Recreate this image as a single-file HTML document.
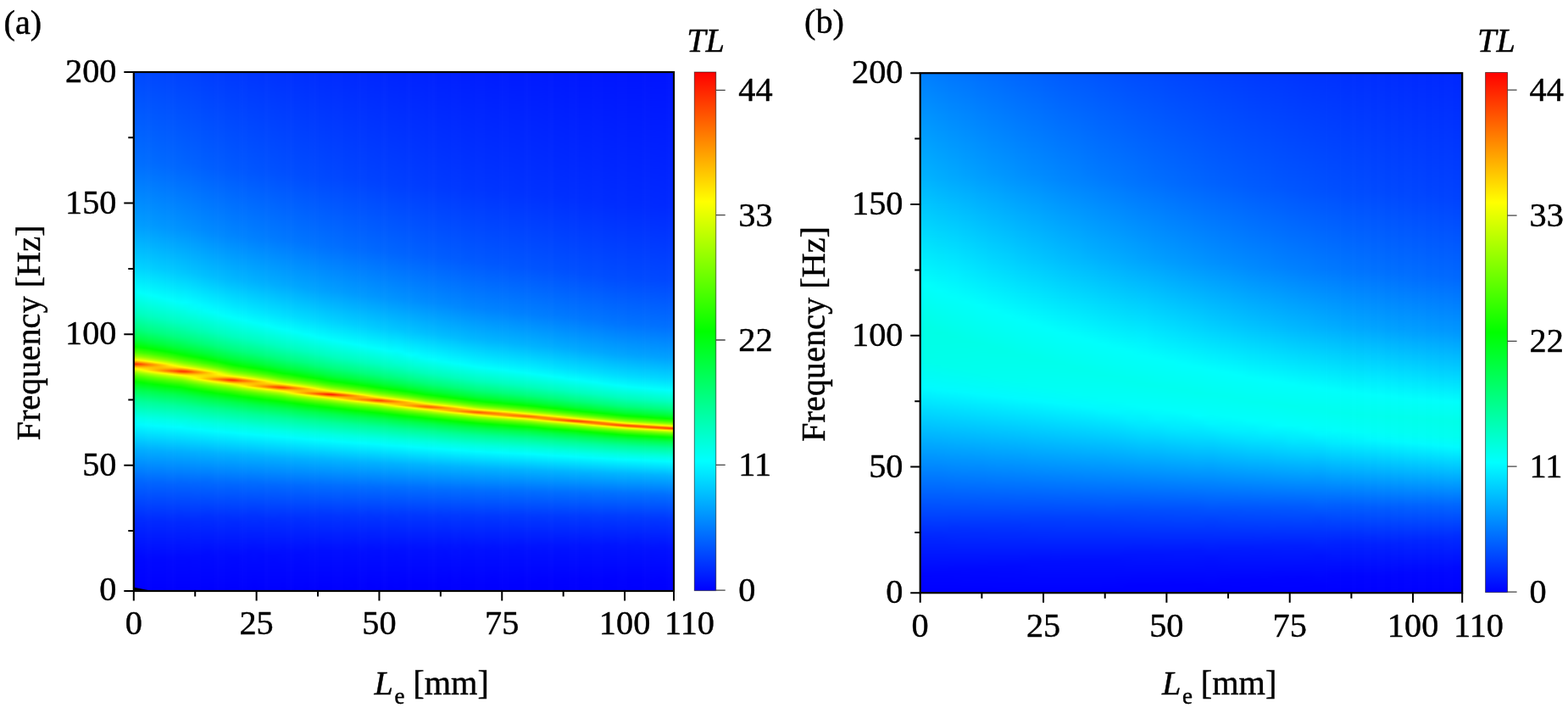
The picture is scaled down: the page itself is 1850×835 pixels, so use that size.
<!DOCTYPE html>
<html lang="en"><head><meta charset="utf-8"><title>TL contour maps</title>
<style>
html,body{margin:0;padding:0;background:#fff}
body{width:1850px;height:835px;overflow:hidden}
svg{display:block}
text{font-family:"Liberation Serif",serif;font-size:40.3px;fill:#000;stroke:#000;stroke-width:.45px;stroke-linejoin:round}
</style></head><body>
<svg width="1850" height="835" viewBox="0 0 1850 835">
<rect width="1850" height="835" fill="#fff"/>
<defs>
<linearGradient id="a0" x1="0" y1="0" x2="0" y2="1"><stop offset="0" stop-color="#0049ff"/><stop offset=".1757" stop-color="#006fff"/><stop offset=".2966" stop-color="#009fff"/><stop offset=".3758" stop-color="#00d3ff"/><stop offset=".4232" stop-color="#00fffc"/><stop offset=".4641" stop-color="#00ffc2"/><stop offset=".4951" stop-color="#00ff7f"/><stop offset=".5155" stop-color="#00ff3e"/><stop offset=".5294" stop-color="#02ff00"/><stop offset=".54" stop-color="#49ff00"/><stop offset=".5474" stop-color="#91ff00"/><stop offset=".5523" stop-color="#d5ff00"/><stop offset=".5547" stop-color="#fffb00"/><stop offset=".558" stop-color="#ffad00"/><stop offset=".5613" stop-color="#ff5100"/><stop offset=".5629" stop-color="#ff3800"/><stop offset=".5637" stop-color="#ff4200"/><stop offset=".5662" stop-color="#ff8200"/><stop offset=".5694" stop-color="#ffd300"/><stop offset=".5719" stop-color="#fdff00"/><stop offset=".5792" stop-color="#93ff00"/><stop offset=".5858" stop-color="#4fff00"/><stop offset=".5964" stop-color="#02ff00"/><stop offset=".6144" stop-color="#00ff56"/><stop offset=".6364" stop-color="#00ffa1"/><stop offset=".6691" stop-color="#00fff0"/><stop offset=".6789" stop-color="#00fbff"/><stop offset=".7271" stop-color="#00aeff"/><stop offset=".7884" stop-color="#06f"/><stop offset=".8619" stop-color="#002bff"/><stop offset=".9346" stop-color="#0009ff"/><stop offset="1" stop-color="#00f"/></linearGradient>
<linearGradient id="a1" x1="0" y1="0" x2="0" y2="1"><stop offset="0" stop-color="#0048ff"/><stop offset=".1797" stop-color="#006fff"/><stop offset=".2982" stop-color="#009eff"/><stop offset=".3783" stop-color="#00d3ff"/><stop offset=".4257" stop-color="#00fffc"/><stop offset=".4665" stop-color="#00ffc1"/><stop offset=".4959" stop-color="#00ff81"/><stop offset=".5163" stop-color="#00ff41"/><stop offset=".531" stop-color="#03ff00"/><stop offset=".5417" stop-color="#4bff00"/><stop offset=".549" stop-color="#95ff00"/><stop offset=".5539" stop-color="#df0"/><stop offset=".5556" stop-color="#fcff00"/><stop offset=".5572" stop-color="#ffde00"/><stop offset=".5613" stop-color="#ff7200"/><stop offset=".5629" stop-color="#ff5300"/><stop offset=".5637" stop-color="#ff5700"/><stop offset=".5654" stop-color="#ff7500"/><stop offset=".5686" stop-color="#fb0"/><stop offset=".5719" stop-color="#ffeb00"/><stop offset=".5735" stop-color="#ff0"/><stop offset=".5817" stop-color="#8aff00"/><stop offset=".5891" stop-color="#41ff00"/><stop offset=".598" stop-color="#01ff00"/><stop offset=".6136" stop-color="#00ff4d"/><stop offset=".6348" stop-color="#0f9"/><stop offset=".6667" stop-color="#00ffe9"/><stop offset=".6797" stop-color="#00fbff"/><stop offset=".7263" stop-color="#00b0ff"/><stop offset=".7868" stop-color="#0068ff"/><stop offset=".8603" stop-color="#002cff"/><stop offset=".9346" stop-color="#0009ff"/><stop offset="1" stop-color="#00f"/></linearGradient>
<linearGradient id="a2" x1="0" y1="0" x2="0" y2="1"><stop offset="0" stop-color="#0047ff"/><stop offset=".1765" stop-color="#006dff"/><stop offset=".2958" stop-color="#009bff"/><stop offset=".3775" stop-color="#00d0ff"/><stop offset=".4281" stop-color="#00fffc"/><stop offset=".4698" stop-color="#00ffbf"/><stop offset=".4984" stop-color="#00ff80"/><stop offset=".5188" stop-color="#00ff3d"/><stop offset=".5319" stop-color="#00ff01"/><stop offset=".5417" stop-color="#40ff00"/><stop offset=".5498" stop-color="#8fff00"/><stop offset=".5547" stop-color="#d6ff00"/><stop offset=".5564" stop-color="#f5ff00"/><stop offset=".5572" stop-color="#fff800"/><stop offset=".5621" stop-color="#ff8300"/><stop offset=".5637" stop-color="#ff6e00"/><stop offset=".5654" stop-color="#ff8100"/><stop offset=".5686" stop-color="#ffb800"/><stop offset=".5719" stop-color="#ffd900"/><stop offset=".5752" stop-color="#fff500"/><stop offset=".576" stop-color="#fcff00"/><stop offset=".5809" stop-color="#a9ff00"/><stop offset=".5866" stop-color="#65ff00"/><stop offset=".594" stop-color="#25ff00"/><stop offset=".5997" stop-color="#00ff01"/><stop offset=".6144" stop-color="#00ff4c"/><stop offset=".6356" stop-color="#00ff98"/><stop offset=".6667" stop-color="#00ffe7"/><stop offset=".6797" stop-color="#00fdff"/><stop offset=".7279" stop-color="#00aeff"/><stop offset=".7941" stop-color="#0061ff"/><stop offset=".8685" stop-color="#0027ff"/><stop offset=".9428" stop-color="#0007ff"/><stop offset="1" stop-color="#00f"/></linearGradient>
<linearGradient id="a3" x1="0" y1="0" x2="0" y2="1"><stop offset="0" stop-color="#0046ff"/><stop offset=".1806" stop-color="#006dff"/><stop offset=".3007" stop-color="#009cff"/><stop offset=".3799" stop-color="#00d0ff"/><stop offset=".4306" stop-color="#00fffc"/><stop offset=".4722" stop-color="#00ffbe"/><stop offset=".5016" stop-color="#00ff7c"/><stop offset=".5221" stop-color="#00ff37"/><stop offset=".5335" stop-color="#0f0"/><stop offset=".5433" stop-color="#42ff00"/><stop offset=".5507" stop-color="#89ff00"/><stop offset=".5556" stop-color="#cfff00"/><stop offset=".558" stop-color="#fdff00"/><stop offset=".5621" stop-color="#ffa300"/><stop offset=".5637" stop-color="#f80"/><stop offset=".5654" stop-color="#ff9100"/><stop offset=".5694" stop-color="#ffbe00"/><stop offset=".5752" stop-color="#ffd600"/><stop offset=".5776" stop-color="#fbff00"/><stop offset=".5817" stop-color="#b2ff00"/><stop offset=".5874" stop-color="#6aff00"/><stop offset=".5964" stop-color="#1dff00"/><stop offset=".6013" stop-color="#00ff03"/><stop offset=".616" stop-color="#00ff4e"/><stop offset=".6373" stop-color="#00ff9a"/><stop offset=".6708" stop-color="#0fe"/><stop offset=".6814" stop-color="#00fbff"/><stop offset=".7288" stop-color="#00aeff"/><stop offset=".7884" stop-color="#0067ff"/><stop offset=".8619" stop-color="#002bff"/><stop offset=".9355" stop-color="#0009ff"/><stop offset="1" stop-color="#00f"/></linearGradient>
<linearGradient id="a4" x1="0" y1="0" x2="0" y2="1"><stop offset="0" stop-color="#0046ff"/><stop offset=".1748" stop-color="#006aff"/><stop offset=".2958" stop-color="#0098ff"/><stop offset=".3791" stop-color="#00cdff"/><stop offset=".4322" stop-color="#00fffc"/><stop offset=".4714" stop-color="#00ffc3"/><stop offset=".5008" stop-color="#00ff83"/><stop offset=".5221" stop-color="#00ff3e"/><stop offset=".5351" stop-color="#0f0"/><stop offset=".5449" stop-color="#43ff00"/><stop offset=".5515" stop-color="#82ff00"/><stop offset=".5564" stop-color="#c6ff00"/><stop offset=".5588" stop-color="#f3ff00"/><stop offset=".5596" stop-color="#fffa00"/><stop offset=".5629" stop-color="#ffb500"/><stop offset=".5645" stop-color="#ffa200"/><stop offset=".5694" stop-color="#ffbc00"/><stop offset=".5752" stop-color="#ffb800"/><stop offset=".5776" stop-color="#ffe600"/><stop offset=".5784" stop-color="#fff800"/><stop offset=".5801" stop-color="#e5ff00"/><stop offset=".5842" stop-color="#a2ff00"/><stop offset=".5899" stop-color="#5fff00"/><stop offset=".598" stop-color="#1bff00"/><stop offset=".6021" stop-color="#0f0"/><stop offset=".616" stop-color="#00ff49"/><stop offset=".6364" stop-color="#00ff94"/><stop offset=".665" stop-color="#00ffdf"/><stop offset=".6814" stop-color="#00fdff"/><stop offset=".7263" stop-color="#00b2ff"/><stop offset=".7917" stop-color="#0064ff"/><stop offset=".8652" stop-color="#0029ff"/><stop offset=".9363" stop-color="#0009ff"/><stop offset="1" stop-color="#00f"/></linearGradient>
<linearGradient id="a5" x1="0" y1="0" x2="0" y2="1"><stop offset="0" stop-color="#0045ff"/><stop offset=".1757" stop-color="#0069ff"/><stop offset=".2974" stop-color="#0097ff"/><stop offset=".3791" stop-color="#00cbff"/><stop offset=".4346" stop-color="#00fffc"/><stop offset=".4747" stop-color="#00ffc1"/><stop offset=".5049" stop-color="#00ff7d"/><stop offset=".5253" stop-color="#00ff37"/><stop offset=".5368" stop-color="#01ff00"/><stop offset=".5466" stop-color="#4f0"/><stop offset=".5531" stop-color="#85ff00"/><stop offset=".558" stop-color="#caff00"/><stop offset=".5605" stop-color="#f8ff00"/><stop offset=".5621" stop-color="#ffe400"/><stop offset=".5645" stop-color="#ffbc00"/><stop offset=".5703" stop-color="#fb0"/><stop offset=".5743" stop-color="#ffa000"/><stop offset=".576" stop-color="#ffa500"/><stop offset=".5801" stop-color="#feff00"/><stop offset=".5842" stop-color="#b4ff00"/><stop offset=".5891" stop-color="#74ff00"/><stop offset=".5964" stop-color="#30ff00"/><stop offset=".6029" stop-color="#02ff00"/><stop offset=".6193" stop-color="#00ff52"/><stop offset=".6397" stop-color="#00ff9b"/><stop offset=".6683" stop-color="#00ffe5"/><stop offset=".6822" stop-color="#00fcff"/><stop offset=".7304" stop-color="#00adff"/><stop offset=".79" stop-color="#06f"/><stop offset=".8636" stop-color="#002aff"/><stop offset=".9363" stop-color="#0009ff"/><stop offset="1" stop-color="#00f"/></linearGradient>
<linearGradient id="a6" x1="0" y1="0" x2="0" y2="1"><stop offset="0" stop-color="#04f"/><stop offset=".1797" stop-color="#0069ff"/><stop offset=".3007" stop-color="#0097ff"/><stop offset=".3832" stop-color="#0cf"/><stop offset=".4371" stop-color="#00fffc"/><stop offset=".4771" stop-color="#00ffc0"/><stop offset=".5049" stop-color="#00ff82"/><stop offset=".5245" stop-color="#00ff41"/><stop offset=".5384" stop-color="#01ff00"/><stop offset=".5482" stop-color="#4f0"/><stop offset=".5547" stop-color="#86ff00"/><stop offset=".5596" stop-color="#cdff00"/><stop offset=".5621" stop-color="#faff00"/><stop offset=".5645" stop-color="#ffd900"/><stop offset=".5703" stop-color="#ffbc00"/><stop offset=".5743" stop-color="#ff8b00"/><stop offset=".576" stop-color="#ff8600"/><stop offset=".5776" stop-color="#ffa700"/><stop offset=".5809" stop-color="#fff900"/><stop offset=".5825" stop-color="#e4ff00"/><stop offset=".5866" stop-color="#a1ff00"/><stop offset=".5931" stop-color="#56ff00"/><stop offset=".6029" stop-color="#09ff00"/><stop offset=".6054" stop-color="#00ff06"/><stop offset=".6193" stop-color="#00ff4d"/><stop offset=".6397" stop-color="#00ff98"/><stop offset=".6691" stop-color="#00ffe5"/><stop offset=".683" stop-color="#00fcff"/><stop offset=".7312" stop-color="#00adff"/><stop offset=".7933" stop-color="#0063ff"/><stop offset=".8668" stop-color="#0028ff"/><stop offset=".9395" stop-color="#0008ff"/><stop offset="1" stop-color="#00f"/></linearGradient>
<linearGradient id="a7" x1="0" y1="0" x2="0" y2="1"><stop offset="0" stop-color="#0043ff"/><stop offset=".1806" stop-color="#0068ff"/><stop offset=".3039" stop-color="#0097ff"/><stop offset=".3848" stop-color="#00cbff"/><stop offset=".4395" stop-color="#00fffc"/><stop offset=".4788" stop-color="#00ffc1"/><stop offset=".5074" stop-color="#00ff80"/><stop offset=".527" stop-color="#00ff3f"/><stop offset=".54" stop-color="#0f0"/><stop offset=".5498" stop-color="#4f0"/><stop offset=".5564" stop-color="#86ff00"/><stop offset=".5613" stop-color="#cdff00"/><stop offset=".5637" stop-color="#f7ff00"/><stop offset=".5645" stop-color="#fffb00"/><stop offset=".567" stop-color="#ffe100"/><stop offset=".5703" stop-color="#ffc000"/><stop offset=".5743" stop-color="#ff7a00"/><stop offset=".576" stop-color="#ff6900"/><stop offset=".5768" stop-color="#ff7400"/><stop offset=".5817" stop-color="#fff200"/><stop offset=".5825" stop-color="#faff00"/><stop offset=".5866" stop-color="#b2ff00"/><stop offset=".5923" stop-color="#6aff00"/><stop offset=".6005" stop-color="#2f0"/><stop offset=".6054" stop-color="#01ff00"/><stop offset=".6209" stop-color="#00ff50"/><stop offset=".6413" stop-color="#00ff9a"/><stop offset=".6699" stop-color="#00ffe5"/><stop offset=".6838" stop-color="#00fcff"/><stop offset=".7328" stop-color="#00abff"/><stop offset=".7966" stop-color="#0060ff"/><stop offset=".8676" stop-color="#0028ff"/><stop offset=".9387" stop-color="#0008ff"/><stop offset="1" stop-color="#00f"/></linearGradient>
<linearGradient id="a8" x1="0" y1="0" x2="0" y2="1"><stop offset="0" stop-color="#0042ff"/><stop offset=".1846" stop-color="#0068ff"/><stop offset=".3056" stop-color="#0096ff"/><stop offset=".3873" stop-color="#00cbff"/><stop offset=".442" stop-color="#00fffc"/><stop offset=".482" stop-color="#00ffbf"/><stop offset=".5098" stop-color="#00ff7f"/><stop offset=".5302" stop-color="#00ff39"/><stop offset=".5417" stop-color="#00ff01"/><stop offset=".5515" stop-color="#43ff00"/><stop offset=".558" stop-color="#85ff00"/><stop offset=".5637" stop-color="#d7ff00"/><stop offset=".5662" stop-color="#fcff00"/><stop offset=".5694" stop-color="#ffd600"/><stop offset=".5719" stop-color="#ffa700"/><stop offset=".5752" stop-color="#ff5e00"/><stop offset=".5768" stop-color="#f50"/><stop offset=".5784" stop-color="#ff7c00"/><stop offset=".5817" stop-color="#ffd900"/><stop offset=".5833" stop-color="#fffe00"/><stop offset=".5874" stop-color="#b6ff00"/><stop offset=".5931" stop-color="#6dff00"/><stop offset=".6021" stop-color="#1eff00"/><stop offset=".607" stop-color="#00ff03"/><stop offset=".6217" stop-color="#00ff4f"/><stop offset=".6422" stop-color="#00ff9a"/><stop offset=".6716" stop-color="#00ffe7"/><stop offset=".6846" stop-color="#00fcff"/><stop offset=".7312" stop-color="#00aeff"/><stop offset=".7949" stop-color="#0062ff"/><stop offset=".866" stop-color="#0029ff"/><stop offset=".9363" stop-color="#0009ff"/><stop offset="1" stop-color="#00f"/></linearGradient>
<linearGradient id="a9" x1="0" y1="0" x2="0" y2="1"><stop offset="0" stop-color="#0041ff"/><stop offset=".1855" stop-color="#0067ff"/><stop offset=".3064" stop-color="#0095ff"/><stop offset=".3889" stop-color="#00caff"/><stop offset=".4444" stop-color="#00fffc"/><stop offset=".4845" stop-color="#00ffbe"/><stop offset=".5114" stop-color="#00ff80"/><stop offset=".5319" stop-color="#00ff3a"/><stop offset=".5441" stop-color="#03ff00"/><stop offset=".5539" stop-color="#48ff00"/><stop offset=".5605" stop-color="#8cff00"/><stop offset=".5662" stop-color="#deff00"/><stop offset=".5678" stop-color="#f9ff00"/><stop offset=".5694" stop-color="#ffe600"/><stop offset=".5727" stop-color="#ff9500"/><stop offset=".5752" stop-color="#ff4f00"/><stop offset=".5768" stop-color="#ff3800"/><stop offset=".5776" stop-color="#f40"/><stop offset=".5825" stop-color="#ffd300"/><stop offset=".5842" stop-color="#fffa00"/><stop offset=".5866" stop-color="#d5ff00"/><stop offset=".5915" stop-color="#8dff00"/><stop offset=".598" stop-color="#48ff00"/><stop offset=".607" stop-color="#04ff00"/><stop offset=".6144" stop-color="#00ff27"/><stop offset=".6307" stop-color="#00ff6f"/><stop offset=".6528" stop-color="#00ffb6"/><stop offset=".6838" stop-color="#0ff"/><stop offset=".7304" stop-color="#00b0ff"/><stop offset=".7892" stop-color="#0068ff"/><stop offset=".8611" stop-color="#002cff"/><stop offset=".933" stop-color="#000aff"/><stop offset="1" stop-color="#00f"/></linearGradient>
<linearGradient id="a10" x1="0" y1="0" x2="0" y2="1"><stop offset="0" stop-color="#0041ff"/><stop offset=".1757" stop-color="#0063ff"/><stop offset=".2998" stop-color="#0090ff"/><stop offset=".3856" stop-color="#00c5ff"/><stop offset=".4436" stop-color="#00feff"/><stop offset=".482" stop-color="#00ffc7"/><stop offset=".5106" stop-color="#00ff87"/><stop offset=".5302" stop-color="#00ff48"/><stop offset=".5441" stop-color="#00ff07"/><stop offset=".5466" stop-color="#07ff00"/><stop offset=".5556" stop-color="#47ff00"/><stop offset=".5621" stop-color="#8aff00"/><stop offset=".567" stop-color="#d1ff00"/><stop offset=".5694" stop-color="#fffd00"/><stop offset=".5719" stop-color="#ffc100"/><stop offset=".5752" stop-color="#ff5e00"/><stop offset=".576" stop-color="#ff4c00"/><stop offset=".5776" stop-color="#ff3f00"/><stop offset=".5792" stop-color="#f60"/><stop offset=".5825" stop-color="#ffc300"/><stop offset=".585" stop-color="#fff900"/><stop offset=".5866" stop-color="#e9ff00"/><stop offset=".5948" stop-color="#7aff00"/><stop offset=".6021" stop-color="#3f0"/><stop offset=".6095" stop-color="#00ff02"/><stop offset=".6234" stop-color="#00ff4c"/><stop offset=".6438" stop-color="#00ff98"/><stop offset=".6716" stop-color="#00ffe3"/><stop offset=".6863" stop-color="#00fcff"/><stop offset=".7304" stop-color="#00b1ff"/><stop offset=".7925" stop-color="#0065ff"/><stop offset=".866" stop-color="#0029ff"/><stop offset=".9363" stop-color="#0009ff"/><stop offset="1" stop-color="#00f"/></linearGradient>
<linearGradient id="a11" x1="0" y1="0" x2="0" y2="1"><stop offset="0" stop-color="#0040ff"/><stop offset=".1765" stop-color="#0062ff"/><stop offset=".3015" stop-color="#008fff"/><stop offset=".3864" stop-color="#00c3ff"/><stop offset=".4436" stop-color="#00fbff"/><stop offset=".4608" stop-color="#00ffed"/><stop offset=".4967" stop-color="#00ffae"/><stop offset=".5221" stop-color="#00ff6c"/><stop offset=".54" stop-color="#00ff26"/><stop offset=".5474" stop-color="#02ff00"/><stop offset=".5564" stop-color="#41ff00"/><stop offset=".5629" stop-color="#82ff00"/><stop offset=".5678" stop-color="#c7ff00"/><stop offset=".5703" stop-color="#f6ff00"/><stop offset=".5711" stop-color="#fff600"/><stop offset=".576" stop-color="#ff7200"/><stop offset=".5776" stop-color="#ff5800"/><stop offset=".5784" stop-color="#ff6100"/><stop offset=".5833" stop-color="#ffd000"/><stop offset=".5866" stop-color="#feff00"/><stop offset=".5915" stop-color="#c7ff00"/><stop offset=".5964" stop-color="#80ff00"/><stop offset=".6029" stop-color="#3cff00"/><stop offset=".6111" stop-color="#00ff01"/><stop offset=".6242" stop-color="#00ff48"/><stop offset=".6422" stop-color="#00ff8e"/><stop offset=".6675" stop-color="#00ffd6"/><stop offset=".6871" stop-color="#00fcff"/><stop offset=".7337" stop-color="#00adff"/><stop offset=".7949" stop-color="#0063ff"/><stop offset=".866" stop-color="#0029ff"/><stop offset=".9387" stop-color="#0008ff"/><stop offset="1" stop-color="#00f"/></linearGradient>
<linearGradient id="a12" x1="0" y1="0" x2="0" y2="1"><stop offset="0" stop-color="#003fff"/><stop offset=".1822" stop-color="#0062ff"/><stop offset=".3056" stop-color="#008fff"/><stop offset=".3881" stop-color="#00c2ff"/><stop offset=".4436" stop-color="#00f8ff"/><stop offset=".4551" stop-color="#00fff8"/><stop offset=".4926" stop-color="#0fb"/><stop offset=".5188" stop-color="#00ff7c"/><stop offset=".5384" stop-color="#00ff36"/><stop offset=".549" stop-color="#01ff00"/><stop offset=".5588" stop-color="#48ff00"/><stop offset=".5645" stop-color="#83ff00"/><stop offset=".5694" stop-color="#cbff00"/><stop offset=".5719" stop-color="#fcff00"/><stop offset=".5735" stop-color="#ffdb00"/><stop offset=".5768" stop-color="#ff8900"/><stop offset=".5784" stop-color="#ff7800"/><stop offset=".5801" stop-color="#ff9100"/><stop offset=".5833" stop-color="#ffcd00"/><stop offset=".5866" stop-color="#ffef00"/><stop offset=".5899" stop-color="#fcff00"/><stop offset=".5915" stop-color="#eaff00"/><stop offset=".5964" stop-color="#98ff00"/><stop offset=".6021" stop-color="#54ff00"/><stop offset=".6103" stop-color="#0fff00"/><stop offset=".6127" stop-color="#00ff01"/><stop offset=".6258" stop-color="#00ff49"/><stop offset=".6462" stop-color="#00ff98"/><stop offset=".6765" stop-color="#00ffe9"/><stop offset=".6887" stop-color="#00fbff"/><stop offset=".7337" stop-color="#00aeff"/><stop offset=".7933" stop-color="#0065ff"/><stop offset=".8636" stop-color="#002bff"/><stop offset=".933" stop-color="#000aff"/><stop offset="1" stop-color="#00f"/></linearGradient>
<linearGradient id="a13" x1="0" y1="0" x2="0" y2="1"><stop offset="0" stop-color="#003eff"/><stop offset=".183" stop-color="#0061ff"/><stop offset=".3056" stop-color="#008dff"/><stop offset=".3913" stop-color="#00c2ff"/><stop offset=".4493" stop-color="#00fbff"/><stop offset=".4657" stop-color="#00ffed"/><stop offset=".5008" stop-color="#00ffaf"/><stop offset=".5253" stop-color="#00ff6e"/><stop offset=".5417" stop-color="#00ff2f"/><stop offset=".5507" stop-color="#0f0"/><stop offset=".5605" stop-color="#48ff00"/><stop offset=".5662" stop-color="#84ff00"/><stop offset=".5703" stop-color="#bfff00"/><stop offset=".5735" stop-color="#fffe00"/><stop offset=".5768" stop-color="#ffaf00"/><stop offset=".5784" stop-color="#ff9400"/><stop offset=".5801" stop-color="#ffa100"/><stop offset=".5842" stop-color="#ffd500"/><stop offset=".5874" stop-color="#ffe300"/><stop offset=".5907" stop-color="#ffe900"/><stop offset=".5923" stop-color="#fffe00"/><stop offset=".5972" stop-color="#a5ff00"/><stop offset=".6021" stop-color="#65ff00"/><stop offset=".6095" stop-color="#21ff00"/><stop offset=".6144" stop-color="#00ff02"/><stop offset=".6275" stop-color="#00ff4a"/><stop offset=".6479" stop-color="#0f9"/><stop offset=".6765" stop-color="#00ffe6"/><stop offset=".6887" stop-color="#00fdff"/><stop offset=".7312" stop-color="#00b3ff"/><stop offset=".7917" stop-color="#0067ff"/><stop offset=".8619" stop-color="#002cff"/><stop offset=".933" stop-color="#000aff"/><stop offset="1" stop-color="#00f"/></linearGradient>
<linearGradient id="a14" x1="0" y1="0" x2="0" y2="1"><stop offset="0" stop-color="#003dff"/><stop offset=".1806" stop-color="#005fff"/><stop offset=".3072" stop-color="#008cff"/><stop offset=".3922" stop-color="#00c0ff"/><stop offset=".4493" stop-color="#00f8ff"/><stop offset=".46" stop-color="#00fff9"/><stop offset=".4967" stop-color="#00ffbc"/><stop offset=".5237" stop-color="#00ff7a"/><stop offset=".5417" stop-color="#00ff38"/><stop offset=".5523" stop-color="#00ff01"/><stop offset=".5613" stop-color="#40ff00"/><stop offset=".5678" stop-color="#84ff00"/><stop offset=".5719" stop-color="#c1ff00"/><stop offset=".5752" stop-color="#fffb00"/><stop offset=".5776" stop-color="#ffc600"/><stop offset=".5792" stop-color="#ffb200"/><stop offset=".5842" stop-color="#ffd500"/><stop offset=".5866" stop-color="#ffd800"/><stop offset=".5907" stop-color="#ffca00"/><stop offset=".5915" stop-color="#ffcd00"/><stop offset=".594" stop-color="#fffe00"/><stop offset=".598" stop-color="#b0ff00"/><stop offset=".6029" stop-color="#6dff00"/><stop offset=".6103" stop-color="#26ff00"/><stop offset=".616" stop-color="#00ff03"/><stop offset=".6291" stop-color="#00ff4b"/><stop offset=".6479" stop-color="#00ff95"/><stop offset=".6757" stop-color="#00ffe2"/><stop offset=".6904" stop-color="#00fcff"/><stop offset=".7312" stop-color="#00b4ff"/><stop offset=".7892" stop-color="#006aff"/><stop offset=".8578" stop-color="#002fff"/><stop offset=".9289" stop-color="#000bff"/><stop offset="1" stop-color="#00f"/></linearGradient>
<linearGradient id="a15" x1="0" y1="0" x2="0" y2="1"><stop offset="0" stop-color="#003cff"/><stop offset=".1855" stop-color="#005fff"/><stop offset=".3113" stop-color="#008cff"/><stop offset=".3954" stop-color="#00c0ff"/><stop offset=".4534" stop-color="#00f9ff"/><stop offset=".4632" stop-color="#00fff8"/><stop offset=".5008" stop-color="#00ffb9"/><stop offset=".5261" stop-color="#00ff79"/><stop offset=".5449" stop-color="#00ff32"/><stop offset=".5547" stop-color="#03ff00"/><stop offset=".5629" stop-color="#3fff00"/><stop offset=".5694" stop-color="#84ff00"/><stop offset=".5735" stop-color="#c1ff00"/><stop offset=".5768" stop-color="#fffc00"/><stop offset=".5792" stop-color="#ffd100"/><stop offset=".5809" stop-color="#ffd000"/><stop offset=".585" stop-color="#ffd900"/><stop offset=".5874" stop-color="#fc0"/><stop offset=".5907" stop-color="#ffaf00"/><stop offset=".5915" stop-color="#ffab00"/><stop offset=".5931" stop-color="#ffc600"/><stop offset=".5956" stop-color="#fcff00"/><stop offset=".5997" stop-color="#adff00"/><stop offset=".6054" stop-color="#61ff00"/><stop offset=".6136" stop-color="#18ff00"/><stop offset=".6168" stop-color="#01ff00"/><stop offset=".6307" stop-color="#00ff4d"/><stop offset=".6503" stop-color="#0f9"/><stop offset=".6765" stop-color="#00ffe2"/><stop offset=".6912" stop-color="#00fcff"/><stop offset=".732" stop-color="#00b4ff"/><stop offset=".7859" stop-color="#006eff"/><stop offset=".8562" stop-color="#0030ff"/><stop offset=".9265" stop-color="#000cff"/><stop offset=".9984" stop-color="#00f"/><stop offset="1" stop-color="#00f"/></linearGradient>
<linearGradient id="a16" x1="0" y1="0" x2="0" y2="1"><stop offset="0" stop-color="#003bff"/><stop offset=".1871" stop-color="#005eff"/><stop offset=".3088" stop-color="#0089ff"/><stop offset=".3922" stop-color="#0bf"/><stop offset=".451" stop-color="#00f3ff"/><stop offset=".4632" stop-color="#00fffb"/><stop offset=".4992" stop-color="#00ffc1"/><stop offset=".527" stop-color="#00ff7d"/><stop offset=".5458" stop-color="#00ff38"/><stop offset=".5564" stop-color="#01ff00"/><stop offset=".5654" stop-color="#4f0"/><stop offset=".5711" stop-color="#82ff00"/><stop offset=".5752" stop-color="#bfff00"/><stop offset=".5784" stop-color="#fbff00"/><stop offset=".5801" stop-color="#ffec00"/><stop offset=".585" stop-color="#ffdf00"/><stop offset=".5874" stop-color="#ffc800"/><stop offset=".5907" stop-color="#ff9800"/><stop offset=".5923" stop-color="#ff9100"/><stop offset=".594" stop-color="#ffb400"/><stop offset=".5964" stop-color="#fff500"/><stop offset=".5972" stop-color="#f5ff00"/><stop offset=".6013" stop-color="#a9ff00"/><stop offset=".6062" stop-color="#68ff00"/><stop offset=".6127" stop-color="#29ff00"/><stop offset=".6185" stop-color="#00ff01"/><stop offset=".6307" stop-color="#00ff46"/><stop offset=".6471" stop-color="#00ff8a"/><stop offset=".6732" stop-color="#00ffd7"/><stop offset=".692" stop-color="#00fcff"/><stop offset=".7353" stop-color="#00b0ff"/><stop offset=".7958" stop-color="#0064ff"/><stop offset=".8652" stop-color="#002aff"/><stop offset=".9363" stop-color="#0009ff"/><stop offset="1" stop-color="#00f"/></linearGradient>
<linearGradient id="a17" x1="0" y1="0" x2="0" y2="1"><stop offset="0" stop-color="#003aff"/><stop offset=".1887" stop-color="#005dff"/><stop offset=".3129" stop-color="#0089ff"/><stop offset=".3995" stop-color="#00beff"/><stop offset=".4551" stop-color="#00f5ff"/><stop offset=".4673" stop-color="#00fffa"/><stop offset=".5041" stop-color="#00ffbc"/><stop offset=".5302" stop-color="#00ff7a"/><stop offset=".5482" stop-color="#00ff36"/><stop offset=".5588" stop-color="#03ff00"/><stop offset=".5678" stop-color="#49ff00"/><stop offset=".5735" stop-color="#89ff00"/><stop offset=".5801" stop-color="#f0ff00"/><stop offset=".5825" stop-color="#fffc00"/><stop offset=".5858" stop-color="#ffe100"/><stop offset=".5891" stop-color="#fa0"/><stop offset=".5907" stop-color="#ff8700"/><stop offset=".5923" stop-color="#ff7100"/><stop offset=".5931" stop-color="#ff7a00"/><stop offset=".598" stop-color="#fffe00"/><stop offset=".6021" stop-color="#b1ff00"/><stop offset=".607" stop-color="#6eff00"/><stop offset=".6144" stop-color="#27ff00"/><stop offset=".6201" stop-color="#00ff03"/><stop offset=".6324" stop-color="#00ff48"/><stop offset=".6503" stop-color="#00ff91"/><stop offset=".6773" stop-color="#00ffdf"/><stop offset=".6928" stop-color="#00fcff"/><stop offset=".7353" stop-color="#00b1ff"/><stop offset=".7908" stop-color="#006aff"/><stop offset=".8554" stop-color="#0031ff"/><stop offset=".924" stop-color="#000dff"/><stop offset=".9951" stop-color="#00f"/><stop offset="1" stop-color="#00f"/></linearGradient>
<linearGradient id="a18" x1="0" y1="0" x2="0" y2="1"><stop offset="0" stop-color="#0039ff"/><stop offset=".1904" stop-color="#005cff"/><stop offset=".317" stop-color="#0089ff"/><stop offset=".4003" stop-color="#00bcff"/><stop offset=".4583" stop-color="#00f5ff"/><stop offset=".4698" stop-color="#00fffa"/><stop offset=".5065" stop-color="#00ffbc"/><stop offset=".5319" stop-color="#00ff7c"/><stop offset=".5507" stop-color="#00ff35"/><stop offset=".5605" stop-color="#0f0"/><stop offset=".5686" stop-color="#3dff00"/><stop offset=".5752" stop-color="#83ff00"/><stop offset=".5817" stop-color="#dfff00"/><stop offset=".5842" stop-color="#faff00"/><stop offset=".5858" stop-color="#ffec00"/><stop offset=".5882" stop-color="#ffbc00"/><stop offset=".5915" stop-color="#ff6900"/><stop offset=".5931" stop-color="#ff5700"/><stop offset=".594" stop-color="#ff6500"/><stop offset=".598" stop-color="#ffdf00"/><stop offset=".5989" stop-color="#fff400"/><stop offset=".5997" stop-color="#f7ff00"/><stop offset=".6038" stop-color="#abff00"/><stop offset=".6087" stop-color="#6aff00"/><stop offset=".6168" stop-color="#1dff00"/><stop offset=".6209" stop-color="#0f0"/><stop offset=".6324" stop-color="#00ff42"/><stop offset=".6487" stop-color="#00ff87"/><stop offset=".6732" stop-color="#00ffd2"/><stop offset=".6936" stop-color="#00fcff"/><stop offset=".7353" stop-color="#00b2ff"/><stop offset=".7908" stop-color="#006aff"/><stop offset=".857" stop-color="#0030ff"/><stop offset=".9265" stop-color="#000cff"/><stop offset=".9984" stop-color="#00f"/><stop offset="1" stop-color="#00f"/></linearGradient>
<linearGradient id="a19" x1="0" y1="0" x2="0" y2="1"><stop offset="0" stop-color="#0038ff"/><stop offset=".1912" stop-color="#005bff"/><stop offset=".317" stop-color="#0087ff"/><stop offset=".4036" stop-color="#00bcff"/><stop offset=".4592" stop-color="#00f3ff"/><stop offset=".4714" stop-color="#00fffc"/><stop offset=".509" stop-color="#00ffbc"/><stop offset=".5335" stop-color="#00ff7e"/><stop offset=".5507" stop-color="#00ff3f"/><stop offset=".5629" stop-color="#02ff00"/><stop offset=".5719" stop-color="#46ff00"/><stop offset=".5784" stop-color="#8fff00"/><stop offset=".585" stop-color="#f1ff00"/><stop offset=".5858" stop-color="#fffd00"/><stop offset=".5891" stop-color="#ffac00"/><stop offset=".5915" stop-color="#ff5f00"/><stop offset=".5923" stop-color="#ff4b00"/><stop offset=".594" stop-color="#ff3f00"/><stop offset=".5956" stop-color="#ff6d00"/><stop offset=".5989" stop-color="#ffd500"/><stop offset=".6005" stop-color="#fffe00"/><stop offset=".6046" stop-color="#b2ff00"/><stop offset=".6103" stop-color="#6f0"/><stop offset=".6185" stop-color="#1aff00"/><stop offset=".6225" stop-color="#00ff03"/><stop offset=".6356" stop-color="#00ff4d"/><stop offset=".6536" stop-color="#00ff95"/><stop offset=".6797" stop-color="#00ffe0"/><stop offset=".6944" stop-color="#00fcff"/><stop offset=".7377" stop-color="#00afff"/><stop offset=".7949" stop-color="#06f"/><stop offset=".8627" stop-color="#002cff"/><stop offset=".933" stop-color="#000aff"/><stop offset="1" stop-color="#00f"/></linearGradient>
<linearGradient id="a20" x1="0" y1="0" x2="0" y2="1"><stop offset="0" stop-color="#0038ff"/><stop offset=".1846" stop-color="#0058ff"/><stop offset=".3096" stop-color="#0082ff"/><stop offset=".3962" stop-color="#00b4ff"/><stop offset=".4542" stop-color="#00eaff"/><stop offset=".4739" stop-color="#00fffc"/><stop offset=".5106" stop-color="#00ffbd"/><stop offset=".5359" stop-color="#00ff7d"/><stop offset=".5539" stop-color="#00ff39"/><stop offset=".5645" stop-color="#0f0"/><stop offset=".5735" stop-color="#4f0"/><stop offset=".5801" stop-color="#8bff00"/><stop offset=".5842" stop-color="#cbff00"/><stop offset=".5866" stop-color="#fdff00"/><stop offset=".5882" stop-color="#ffd800"/><stop offset=".5923" stop-color="#ff5700"/><stop offset=".594" stop-color="#ff3800"/><stop offset=".5948" stop-color="#ff4500"/><stop offset=".5989" stop-color="#ffbf00"/><stop offset=".6013" stop-color="#fff800"/><stop offset=".6029" stop-color="#e8ff00"/><stop offset=".6087" stop-color="#8dff00"/><stop offset=".6152" stop-color="#42ff00"/><stop offset=".6234" stop-color="#01ff00"/><stop offset=".6356" stop-color="#00ff46"/><stop offset=".6528" stop-color="#00ff8e"/><stop offset=".6789" stop-color="#00ffdc"/><stop offset=".6953" stop-color="#00fcff"/><stop offset=".7402" stop-color="#00acff"/><stop offset=".7982" stop-color="#0063ff"/><stop offset=".866" stop-color="#002aff"/><stop offset=".9363" stop-color="#0009ff"/><stop offset="1" stop-color="#00f"/></linearGradient>
<linearGradient id="a21" x1="0" y1="0" x2="0" y2="1"><stop offset="0" stop-color="#0037ff"/><stop offset=".1887" stop-color="#0058ff"/><stop offset=".3154" stop-color="#0083ff"/><stop offset=".4003" stop-color="#00b5ff"/><stop offset=".4583" stop-color="#00ecff"/><stop offset=".4763" stop-color="#00fffb"/><stop offset=".5106" stop-color="#00ffc1"/><stop offset=".5376" stop-color="#00ff7d"/><stop offset=".5547" stop-color="#00ff3c"/><stop offset=".5662" stop-color="#01ff00"/><stop offset=".5752" stop-color="#47ff00"/><stop offset=".5809" stop-color="#85ff00"/><stop offset=".585" stop-color="#c4ff00"/><stop offset=".5874" stop-color="#f5ff00"/><stop offset=".5882" stop-color="#fff600"/><stop offset=".5915" stop-color="#ff9700"/><stop offset=".5931" stop-color="#ff6800"/><stop offset=".5948" stop-color="#ff5700"/><stop offset=".5964" stop-color="#ff7900"/><stop offset=".5997" stop-color="#ffc800"/><stop offset=".6029" stop-color="#fffb00"/><stop offset=".6046" stop-color="#ecff00"/><stop offset=".6103" stop-color="#8dff00"/><stop offset=".6168" stop-color="#41ff00"/><stop offset=".625" stop-color="#00ff01"/><stop offset=".6381" stop-color="#00ff4c"/><stop offset=".656" stop-color="#00ff95"/><stop offset=".6806" stop-color="#0fd"/><stop offset=".6961" stop-color="#00fdff"/><stop offset=".7369" stop-color="#00b2ff"/><stop offset=".7966" stop-color="#0065ff"/><stop offset=".8644" stop-color="#002bff"/><stop offset=".9355" stop-color="#0009ff"/><stop offset="1" stop-color="#00f"/></linearGradient>
<linearGradient id="a22" x1="0" y1="0" x2="0" y2="1"><stop offset="0" stop-color="#0036ff"/><stop offset=".1928" stop-color="#0058ff"/><stop offset=".3186" stop-color="#0083ff"/><stop offset=".4044" stop-color="#00b6ff"/><stop offset=".4616" stop-color="#00edff"/><stop offset=".4788" stop-color="#00fffb"/><stop offset=".5139" stop-color="#00ffbe"/><stop offset=".5376" stop-color="#00ff82"/><stop offset=".5547" stop-color="#00ff43"/><stop offset=".5678" stop-color="#03ff00"/><stop offset=".576" stop-color="#41ff00"/><stop offset=".5817" stop-color="#7fff00"/><stop offset=".5858" stop-color="#bcff00"/><stop offset=".5891" stop-color="#ff0"/><stop offset=".5931" stop-color="#ff8d00"/><stop offset=".5948" stop-color="#ff6e00"/><stop offset=".5956" stop-color="#ff7400"/><stop offset=".5997" stop-color="#ffc000"/><stop offset=".6046" stop-color="#fff200"/><stop offset=".6054" stop-color="#ff0"/><stop offset=".6103" stop-color="#a3ff00"/><stop offset=".616" stop-color="#58ff00"/><stop offset=".6242" stop-color="#0fff00"/><stop offset=".6266" stop-color="#00ff03"/><stop offset=".6397" stop-color="#00ff4e"/><stop offset=".6577" stop-color="#00ff97"/><stop offset=".683" stop-color="#00ffe1"/><stop offset=".6969" stop-color="#00fdff"/><stop offset=".7377" stop-color="#00b2ff"/><stop offset=".7933" stop-color="#0069ff"/><stop offset=".8603" stop-color="#002eff"/><stop offset=".9297" stop-color="#000bff"/><stop offset="1" stop-color="#00f"/></linearGradient>
<linearGradient id="a23" x1="0" y1="0" x2="0" y2="1"><stop offset="0" stop-color="#0035ff"/><stop offset=".1977" stop-color="#0058ff"/><stop offset=".3219" stop-color="#0083ff"/><stop offset=".4069" stop-color="#00b6ff"/><stop offset=".4641" stop-color="#00edff"/><stop offset=".4804" stop-color="#00fffc"/><stop offset=".5163" stop-color="#00ffbd"/><stop offset=".5417" stop-color="#00ff7b"/><stop offset=".5588" stop-color="#00ff38"/><stop offset=".5694" stop-color="#03ff00"/><stop offset=".5784" stop-color="#4bff00"/><stop offset=".5842" stop-color="#8eff00"/><stop offset=".5882" stop-color="#d2ff00"/><stop offset=".5899" stop-color="#f5ff00"/><stop offset=".5907" stop-color="#fff500"/><stop offset=".594" stop-color="#ff9f00"/><stop offset=".5956" stop-color="#ff8900"/><stop offset=".6005" stop-color="#ffc200"/><stop offset=".6046" stop-color="#ffd700"/><stop offset=".6054" stop-color="#ffde00"/><stop offset=".607" stop-color="#feff00"/><stop offset=".6111" stop-color="#adff00"/><stop offset=".616" stop-color="#68ff00"/><stop offset=".6234" stop-color="#1fff00"/><stop offset=".6275" stop-color="#0f0"/><stop offset=".6397" stop-color="#00ff48"/><stop offset=".6569" stop-color="#00ff91"/><stop offset=".683" stop-color="#00ffdf"/><stop offset=".6977" stop-color="#00fdff"/><stop offset=".7369" stop-color="#00b4ff"/><stop offset=".7908" stop-color="#006cff"/><stop offset=".8562" stop-color="#0031ff"/><stop offset=".9265" stop-color="#000cff"/><stop offset="1" stop-color="#00f"/></linearGradient>
<linearGradient id="a24" x1="0" y1="0" x2="0" y2="1"><stop offset="0" stop-color="#0035ff"/><stop offset=".1895" stop-color="#05f"/><stop offset=".317" stop-color="#007fff"/><stop offset=".402" stop-color="#00b0ff"/><stop offset=".4624" stop-color="#00e8ff"/><stop offset=".4828" stop-color="#00fffb"/><stop offset=".5163" stop-color="#00ffc1"/><stop offset=".5408" stop-color="#00ff83"/><stop offset=".5588" stop-color="#00ff3f"/><stop offset=".5703" stop-color="#00ff01"/><stop offset=".5776" stop-color="#36ff00"/><stop offset=".5842" stop-color="#7bff00"/><stop offset=".5882" stop-color="#b9ff00"/><stop offset=".5915" stop-color="#fdff00"/><stop offset=".5948" stop-color="#ffb300"/><stop offset=".5956" stop-color="#ffa400"/><stop offset=".5972" stop-color="#ffa800"/><stop offset=".6005" stop-color="#ffbf00"/><stop offset=".6046" stop-color="#ffbc00"/><stop offset=".6054" stop-color="#ffbf00"/><stop offset=".607" stop-color="#ffdf00"/><stop offset=".6087" stop-color="#f8ff00"/><stop offset=".6127" stop-color="#a7ff00"/><stop offset=".6185" stop-color="#5aff00"/><stop offset=".6266" stop-color="#0fff00"/><stop offset=".6291" stop-color="#00ff03"/><stop offset=".6422" stop-color="#00ff4f"/><stop offset=".6601" stop-color="#00ff98"/><stop offset=".6855" stop-color="#00ffe3"/><stop offset=".6985" stop-color="#00fdff"/><stop offset=".7369" stop-color="#00b5ff"/><stop offset=".79" stop-color="#006eff"/><stop offset=".8521" stop-color="#0034ff"/><stop offset=".9191" stop-color="#000fff"/><stop offset=".9902" stop-color="#00f"/><stop offset="1" stop-color="#00f"/></linearGradient>
<linearGradient id="a25" x1="0" y1="0" x2="0" y2="1"><stop offset="0" stop-color="#0034ff"/><stop offset=".1944" stop-color="#05f"/><stop offset=".3227" stop-color="#0080ff"/><stop offset=".406" stop-color="#00b1ff"/><stop offset=".4624" stop-color="#00e6ff"/><stop offset=".4853" stop-color="#00fffb"/><stop offset=".5212" stop-color="#0fb"/><stop offset=".5458" stop-color="#00ff79"/><stop offset=".5629" stop-color="#00ff34"/><stop offset=".5719" stop-color="#00ff01"/><stop offset=".5801" stop-color="#3fff00"/><stop offset=".5858" stop-color="#7eff00"/><stop offset=".5899" stop-color="#bdff00"/><stop offset=".5931" stop-color="#fffb00"/><stop offset=".5948" stop-color="#ffd600"/><stop offset=".5964" stop-color="#ffbd00"/><stop offset=".6005" stop-color="#ffc000"/><stop offset=".6046" stop-color="#ffa600"/><stop offset=".6062" stop-color="#ffab00"/><stop offset=".6095" stop-color="#fffb00"/><stop offset=".6136" stop-color="#aeff00"/><stop offset=".6185" stop-color="#69ff00"/><stop offset=".625" stop-color="#27ff00"/><stop offset=".6299" stop-color="#0f0"/><stop offset=".6422" stop-color="#00ff49"/><stop offset=".6601" stop-color="#00ff95"/><stop offset=".6863" stop-color="#00ffe3"/><stop offset=".6993" stop-color="#00fdff"/><stop offset=".7394" stop-color="#00b2ff"/><stop offset=".7925" stop-color="#006bff"/><stop offset=".8578" stop-color="#0030ff"/><stop offset=".9273" stop-color="#000cff"/><stop offset=".9992" stop-color="#00f"/><stop offset="1" stop-color="#00f"/></linearGradient>
<linearGradient id="a26" x1="0" y1="0" x2="0" y2="1"><stop offset="0" stop-color="#03f"/><stop offset=".1985" stop-color="#05f"/><stop offset=".3235" stop-color="#007fff"/><stop offset=".4101" stop-color="#00b2ff"/><stop offset=".4657" stop-color="#00e7ff"/><stop offset=".4869" stop-color="#00fffc"/><stop offset=".5212" stop-color="#00ffbf"/><stop offset=".5458" stop-color="#00ff7f"/><stop offset=".5629" stop-color="#00ff3c"/><stop offset=".5735" stop-color="#00ff01"/><stop offset=".5817" stop-color="#3fff00"/><stop offset=".5874" stop-color="#7fff00"/><stop offset=".5915" stop-color="#c0ff00"/><stop offset=".594" stop-color="#f3ff00"/><stop offset=".5948" stop-color="#fffa00"/><stop offset=".5964" stop-color="#ffdb00"/><stop offset=".6013" stop-color="#ffbf00"/><stop offset=".6054" stop-color="#ff8f00"/><stop offset=".6062" stop-color="#ff8c00"/><stop offset=".6078" stop-color="#ffae00"/><stop offset=".6103" stop-color="#fff200"/><stop offset=".6111" stop-color="#f7ff00"/><stop offset=".6144" stop-color="#b5ff00"/><stop offset=".6193" stop-color="#6dff00"/><stop offset=".6258" stop-color="#2aff00"/><stop offset=".6315" stop-color="#00ff03"/><stop offset=".6438" stop-color="#00ff4c"/><stop offset=".6618" stop-color="#00ff97"/><stop offset=".6879" stop-color="#00ffe5"/><stop offset=".7002" stop-color="#00fcff"/><stop offset=".7426" stop-color="#00aeff"/><stop offset=".7974" stop-color="#06f"/><stop offset=".8611" stop-color="#002eff"/><stop offset=".9297" stop-color="#000bff"/><stop offset="1" stop-color="#00f"/></linearGradient>
<linearGradient id="a27" x1="0" y1="0" x2="0" y2="1"><stop offset="0" stop-color="#03f"/><stop offset=".1904" stop-color="#0052ff"/><stop offset=".3178" stop-color="#007bff"/><stop offset=".4036" stop-color="#00abff"/><stop offset=".4641" stop-color="#00e2ff"/><stop offset=".4886" stop-color="#00fffd"/><stop offset=".5229" stop-color="#00ffc0"/><stop offset=".5466" stop-color="#00ff82"/><stop offset=".5637" stop-color="#00ff40"/><stop offset=".5752" stop-color="#00ff01"/><stop offset=".5825" stop-color="#38ff00"/><stop offset=".5882" stop-color="#75ff00"/><stop offset=".5931" stop-color="#c1ff00"/><stop offset=".5964" stop-color="#ff0"/><stop offset=".598" stop-color="#ffe900"/><stop offset=".6013" stop-color="#ffc600"/><stop offset=".6054" stop-color="#ff7d00"/><stop offset=".607" stop-color="#ff7800"/><stop offset=".6087" stop-color="#ffa200"/><stop offset=".6119" stop-color="#ff0"/><stop offset=".6152" stop-color="#bf0"/><stop offset=".6201" stop-color="#71ff00"/><stop offset=".6275" stop-color="#25ff00"/><stop offset=".6324" stop-color="#00ff01"/><stop offset=".6446" stop-color="#00ff4b"/><stop offset=".6626" stop-color="#00ff97"/><stop offset=".6887" stop-color="#00ffe5"/><stop offset=".701" stop-color="#00fcff"/><stop offset=".7418" stop-color="#00b0ff"/><stop offset=".7949" stop-color="#0069ff"/><stop offset=".8611" stop-color="#002eff"/><stop offset=".9297" stop-color="#000bff"/><stop offset="1" stop-color="#00f"/></linearGradient>
<linearGradient id="a28" x1="0" y1="0" x2="0" y2="1"><stop offset="0" stop-color="#0032ff"/><stop offset=".1953" stop-color="#0052ff"/><stop offset=".3243" stop-color="#007cff"/><stop offset=".4093" stop-color="#00adff"/><stop offset=".4673" stop-color="#00e3ff"/><stop offset=".4918" stop-color="#00fffb"/><stop offset=".5261" stop-color="#00ffbd"/><stop offset=".549" stop-color="#00ff80"/><stop offset=".5662" stop-color="#00ff3d"/><stop offset=".5768" stop-color="#00ff02"/><stop offset=".5842" stop-color="#37ff00"/><stop offset=".5907" stop-color="#7fff00"/><stop offset=".5956" stop-color="#ceff00"/><stop offset=".598" stop-color="#f8ff00"/><stop offset=".5997" stop-color="#fe0"/><stop offset=".6021" stop-color="#ffc200"/><stop offset=".6054" stop-color="#ff7100"/><stop offset=".607" stop-color="#ff5a00"/><stop offset=".6078" stop-color="#ff6700"/><stop offset=".6127" stop-color="#fff800"/><stop offset=".6144" stop-color="#e0ff00"/><stop offset=".6185" stop-color="#97ff00"/><stop offset=".6242" stop-color="#4fff00"/><stop offset=".6324" stop-color="#07ff00"/><stop offset=".634" stop-color="#00ff05"/><stop offset=".6471" stop-color="#00ff52"/><stop offset=".6658" stop-color="#00ff9f"/><stop offset=".6928" stop-color="#00ffed"/><stop offset=".7018" stop-color="#00fcff"/><stop offset=".7435" stop-color="#00aeff"/><stop offset=".7998" stop-color="#0064ff"/><stop offset=".8644" stop-color="#002cff"/><stop offset=".933" stop-color="#000aff"/><stop offset="1" stop-color="#00f"/></linearGradient>
<linearGradient id="a29" x1="0" y1="0" x2="0" y2="1"><stop offset="0" stop-color="#0031ff"/><stop offset=".2002" stop-color="#0052ff"/><stop offset=".3276" stop-color="#007cff"/><stop offset=".4134" stop-color="#00aeff"/><stop offset=".4706" stop-color="#00e4ff"/><stop offset=".4943" stop-color="#00fffb"/><stop offset=".5302" stop-color="#00ffb9"/><stop offset=".5531" stop-color="#00ff79"/><stop offset=".5694" stop-color="#00ff36"/><stop offset=".5792" stop-color="#03ff00"/><stop offset=".5874" stop-color="#45ff00"/><stop offset=".5931" stop-color="#8f0"/><stop offset=".598" stop-color="#d7ff00"/><stop offset=".5997" stop-color="#f6ff00"/><stop offset=".6005" stop-color="#fff700"/><stop offset=".6029" stop-color="#ffba00"/><stop offset=".6062" stop-color="#ff5700"/><stop offset=".6078" stop-color="#ff4500"/><stop offset=".6095" stop-color="#ff7200"/><stop offset=".6127" stop-color="#ffdc00"/><stop offset=".6136" stop-color="#fff200"/><stop offset=".6144" stop-color="#f8ff00"/><stop offset=".6185" stop-color="#a8ff00"/><stop offset=".6242" stop-color="#5bff00"/><stop offset=".6324" stop-color="#0fff00"/><stop offset=".6348" stop-color="#00ff03"/><stop offset=".6471" stop-color="#00ff4d"/><stop offset=".665" stop-color="#0f9"/><stop offset=".6912" stop-color="#00ffe7"/><stop offset=".7026" stop-color="#00fcff"/><stop offset=".7435" stop-color="#00afff"/><stop offset=".7966" stop-color="#0068ff"/><stop offset=".8611" stop-color="#002eff"/><stop offset=".9306" stop-color="#000bff"/><stop offset="1" stop-color="#00f"/></linearGradient>
<linearGradient id="a30" x1="0" y1="0" x2="0" y2="1"><stop offset="0" stop-color="#0031ff"/><stop offset=".192" stop-color="#004fff"/><stop offset=".3219" stop-color="#0078ff"/><stop offset=".4093" stop-color="#00a9ff"/><stop offset=".4698" stop-color="#00e0ff"/><stop offset=".4959" stop-color="#00fffc"/><stop offset=".5302" stop-color="#00ffbd"/><stop offset=".5531" stop-color="#00ff7f"/><stop offset=".5694" stop-color="#00ff3e"/><stop offset=".5809" stop-color="#03ff00"/><stop offset=".5891" stop-color="#45ff00"/><stop offset=".5948" stop-color="#8f0"/><stop offset=".5989" stop-color="#caff00"/><stop offset=".6013" stop-color="#fffe00"/><stop offset=".6038" stop-color="#ffb900"/><stop offset=".6062" stop-color="#ff6700"/><stop offset=".6078" stop-color="#ff4200"/><stop offset=".6087" stop-color="#ff4b00"/><stop offset=".6103" stop-color="#ff7a00"/><stop offset=".6127" stop-color="#ffc500"/><stop offset=".6152" stop-color="#fffe00"/><stop offset=".6209" stop-color="#9f0"/><stop offset=".6266" stop-color="#4fff00"/><stop offset=".6348" stop-color="#06ff00"/><stop offset=".6364" stop-color="#00ff06"/><stop offset=".6487" stop-color="#00ff4f"/><stop offset=".6667" stop-color="#00ff9b"/><stop offset=".6928" stop-color="#00ffe9"/><stop offset=".7034" stop-color="#00fcff"/><stop offset=".7435" stop-color="#00b0ff"/><stop offset=".7949" stop-color="#006bff"/><stop offset=".8546" stop-color="#03f"/><stop offset=".9216" stop-color="#000eff"/><stop offset=".9926" stop-color="#00f"/><stop offset="1" stop-color="#00f"/></linearGradient>
<linearGradient id="a31" x1="0" y1="0" x2="0" y2="1"><stop offset="0" stop-color="#0030ff"/><stop offset=".1961" stop-color="#004fff"/><stop offset=".3252" stop-color="#0078ff"/><stop offset=".4093" stop-color="#00a7ff"/><stop offset=".4681" stop-color="#00dcff"/><stop offset=".4975" stop-color="#00fffc"/><stop offset=".5302" stop-color="#00ffc1"/><stop offset=".5547" stop-color="#00ff7f"/><stop offset=".5719" stop-color="#00ff3a"/><stop offset=".5817" stop-color="#00ff01"/><stop offset=".5891" stop-color="#39ff00"/><stop offset=".5948" stop-color="#7f0"/><stop offset=".5989" stop-color="#b4ff00"/><stop offset=".6021" stop-color="#f8ff00"/><stop offset=".6029" stop-color="#fff200"/><stop offset=".607" stop-color="#f70"/><stop offset=".6087" stop-color="#ff5d00"/><stop offset=".6095" stop-color="#ff6800"/><stop offset=".6136" stop-color="#ffca00"/><stop offset=".6168" stop-color="#fffb00"/><stop offset=".6176" stop-color="#f7ff00"/><stop offset=".6225" stop-color="#9f0"/><stop offset=".6275" stop-color="#57ff00"/><stop offset=".6356" stop-color="#0aff00"/><stop offset=".6381" stop-color="#00ff08"/><stop offset=".6503" stop-color="#00ff51"/><stop offset=".6683" stop-color="#00ff9d"/><stop offset=".6928" stop-color="#00ffe6"/><stop offset=".7042" stop-color="#00fcff"/><stop offset=".7435" stop-color="#00b1ff"/><stop offset=".7966" stop-color="#0069ff"/><stop offset=".8587" stop-color="#0030ff"/><stop offset=".9273" stop-color="#000cff"/><stop offset=".9992" stop-color="#00f"/><stop offset="1" stop-color="#00f"/></linearGradient>
<linearGradient id="a32" x1="0" y1="0" x2="0" y2="1"><stop offset="0" stop-color="#002fff"/><stop offset=".2002" stop-color="#004fff"/><stop offset=".3284" stop-color="#0078ff"/><stop offset=".4134" stop-color="#00a8ff"/><stop offset=".4706" stop-color="#00dcff"/><stop offset=".5" stop-color="#00fffc"/><stop offset=".5335" stop-color="#00ffbe"/><stop offset=".5564" stop-color="#00ff7f"/><stop offset=".5727" stop-color="#00ff3d"/><stop offset=".5833" stop-color="#0f0"/><stop offset=".5915" stop-color="#43ff00"/><stop offset=".5972" stop-color="#86ff00"/><stop offset=".6013" stop-color="#cbff00"/><stop offset=".6038" stop-color="#fffb00"/><stop offset=".6078" stop-color="#ff8900"/><stop offset=".6095" stop-color="#ff7800"/><stop offset=".6136" stop-color="#ffbe00"/><stop offset=".6185" stop-color="#fff100"/><stop offset=".6193" stop-color="#fbff00"/><stop offset=".6225" stop-color="#b3ff00"/><stop offset=".6275" stop-color="#68ff00"/><stop offset=".634" stop-color="#23ff00"/><stop offset=".6381" stop-color="#02ff00"/><stop offset=".652" stop-color="#00ff53"/><stop offset=".6699" stop-color="#00ff9f"/><stop offset=".6953" stop-color="#00ffea"/><stop offset=".7051" stop-color="#00fcff"/><stop offset=".7435" stop-color="#00b2ff"/><stop offset=".7949" stop-color="#006bff"/><stop offset=".8578" stop-color="#0031ff"/><stop offset=".9248" stop-color="#000dff"/><stop offset=".9959" stop-color="#00f"/><stop offset="1" stop-color="#00f"/></linearGradient>
<linearGradient id="a33" x1="0" y1="0" x2="0" y2="1"><stop offset="0" stop-color="#002fff"/><stop offset=".1961" stop-color="#004dff"/><stop offset=".3276" stop-color="#0076ff"/><stop offset=".4134" stop-color="#00a6ff"/><stop offset=".4722" stop-color="#00dbff"/><stop offset=".5016" stop-color="#00fffc"/><stop offset=".5343" stop-color="#00ffc0"/><stop offset=".5572" stop-color="#00ff82"/><stop offset=".5743" stop-color="#00ff3d"/><stop offset=".585" stop-color="#01ff00"/><stop offset=".5931" stop-color="#46ff00"/><stop offset=".5989" stop-color="#8bff00"/><stop offset=".6029" stop-color="#d3ff00"/><stop offset=".6046" stop-color="#f8ff00"/><stop offset=".6054" stop-color="#fff100"/><stop offset=".6078" stop-color="#ffad00"/><stop offset=".6095" stop-color="#ff8e00"/><stop offset=".6111" stop-color="#ff9a00"/><stop offset=".6144" stop-color="#ffbe00"/><stop offset=".6185" stop-color="#fc0"/><stop offset=".6201" stop-color="#fff300"/><stop offset=".6209" stop-color="#f6ff00"/><stop offset=".6242" stop-color="#aeff00"/><stop offset=".6291" stop-color="#64ff00"/><stop offset=".6356" stop-color="#20ff00"/><stop offset=".6397" stop-color="#00ff01"/><stop offset=".6511" stop-color="#00ff49"/><stop offset=".6683" stop-color="#00ff95"/><stop offset=".6912" stop-color="#0fd"/><stop offset=".7059" stop-color="#00fcff"/><stop offset=".7459" stop-color="#00afff"/><stop offset=".799" stop-color="#0067ff"/><stop offset=".8619" stop-color="#002eff"/><stop offset=".9306" stop-color="#000bff"/><stop offset="1" stop-color="#00f"/></linearGradient>
<linearGradient id="a34" x1="0" y1="0" x2="0" y2="1"><stop offset="0" stop-color="#002eff"/><stop offset=".2002" stop-color="#004dff"/><stop offset=".3284" stop-color="#0075ff"/><stop offset=".415" stop-color="#00a5ff"/><stop offset=".4755" stop-color="#00dcff"/><stop offset=".5049" stop-color="#00fffb"/><stop offset=".5376" stop-color="#00ffbd"/><stop offset=".5596" stop-color="#00ff7f"/><stop offset=".5752" stop-color="#00ff40"/><stop offset=".5866" stop-color="#02ff00"/><stop offset=".5948" stop-color="#48ff00"/><stop offset=".6005" stop-color="#8fff00"/><stop offset=".6046" stop-color="#daff00"/><stop offset=".6062" stop-color="#fffd00"/><stop offset=".6087" stop-color="#ffbf00"/><stop offset=".6103" stop-color="#ffa600"/><stop offset=".6144" stop-color="#ffb900"/><stop offset=".6176" stop-color="#ffac00"/><stop offset=".6193" stop-color="#ffb700"/><stop offset=".6217" stop-color="#fffb00"/><stop offset=".625" stop-color="#b7ff00"/><stop offset=".6299" stop-color="#6aff00"/><stop offset=".6364" stop-color="#24ff00"/><stop offset=".6405" stop-color="#02ff00"/><stop offset=".6544" stop-color="#00ff54"/><stop offset=".6724" stop-color="#00ffa0"/><stop offset=".6969" stop-color="#00ffea"/><stop offset=".7067" stop-color="#00fcff"/><stop offset=".7459" stop-color="#00b0ff"/><stop offset=".7966" stop-color="#006aff"/><stop offset=".8595" stop-color="#0030ff"/><stop offset=".9273" stop-color="#000cff"/><stop offset=".9992" stop-color="#00f"/><stop offset="1" stop-color="#00f"/></linearGradient>
<linearGradient id="a35" x1="0" y1="0" x2="0" y2="1"><stop offset="0" stop-color="#002dff"/><stop offset=".2051" stop-color="#004dff"/><stop offset=".3317" stop-color="#0075ff"/><stop offset=".4191" stop-color="#00a6ff"/><stop offset=".4796" stop-color="#00deff"/><stop offset=".5057" stop-color="#00fffd"/><stop offset=".5376" stop-color="#00ffc1"/><stop offset=".5596" stop-color="#00ff85"/><stop offset=".576" stop-color="#0f4"/><stop offset=".5882" stop-color="#03ff00"/><stop offset=".5956" stop-color="#41ff00"/><stop offset=".6013" stop-color="#87ff00"/><stop offset=".6054" stop-color="#ceff00"/><stop offset=".607" stop-color="#f3ff00"/><stop offset=".6078" stop-color="#fff700"/><stop offset=".6103" stop-color="#ffc100"/><stop offset=".6127" stop-color="#ffbc00"/><stop offset=".6152" stop-color="#ffb500"/><stop offset=".6185" stop-color="#ff9200"/><stop offset=".6193" stop-color="#ff9200"/><stop offset=".6209" stop-color="#ffbd00"/><stop offset=".6225" stop-color="#fff000"/><stop offset=".6234" stop-color="#f7ff00"/><stop offset=".6266" stop-color="#afff00"/><stop offset=".6315" stop-color="#65ff00"/><stop offset=".6381" stop-color="#20ff00"/><stop offset=".6422" stop-color="#00ff02"/><stop offset=".6544" stop-color="#00ff4e"/><stop offset=".6708" stop-color="#00ff96"/><stop offset=".6928" stop-color="#0fd"/><stop offset=".7075" stop-color="#00fcff"/><stop offset=".7459" stop-color="#00b1ff"/><stop offset=".7958" stop-color="#006cff"/><stop offset=".8529" stop-color="#0035ff"/><stop offset=".9191" stop-color="#000fff"/><stop offset=".9918" stop-color="#00f"/><stop offset="1" stop-color="#00f"/></linearGradient>
<linearGradient id="a36" x1="0" y1="0" x2="0" y2="1"><stop offset="0" stop-color="#002dff"/><stop offset=".2002" stop-color="#004bff"/><stop offset=".3309" stop-color="#0073ff"/><stop offset=".4191" stop-color="#00a4ff"/><stop offset=".4763" stop-color="#00d8ff"/><stop offset=".5082" stop-color="#00fffc"/><stop offset=".54" stop-color="#00ffc0"/><stop offset=".5629" stop-color="#00ff80"/><stop offset=".5784" stop-color="#00ff40"/><stop offset=".5891" stop-color="#00ff02"/><stop offset=".5956" stop-color="#3f0"/><stop offset=".6013" stop-color="#72ff00"/><stop offset=".6054" stop-color="#b2ff00"/><stop offset=".6087" stop-color="#f7ff00"/><stop offset=".6095" stop-color="#fff500"/><stop offset=".6111" stop-color="#ffd600"/><stop offset=".6152" stop-color="#ffb800"/><stop offset=".6185" stop-color="#ff7f00"/><stop offset=".6193" stop-color="#ff7800"/><stop offset=".6201" stop-color="#ff7c00"/><stop offset=".6217" stop-color="#ffb000"/><stop offset=".6242" stop-color="#fffe00"/><stop offset=".6275" stop-color="#b6ff00"/><stop offset=".6324" stop-color="#69ff00"/><stop offset=".6389" stop-color="#23ff00"/><stop offset=".643" stop-color="#01ff00"/><stop offset=".6552" stop-color="#00ff4d"/><stop offset=".6724" stop-color="#0f9"/><stop offset=".6953" stop-color="#00ffe1"/><stop offset=".7083" stop-color="#00fcff"/><stop offset=".7451" stop-color="#00b3ff"/><stop offset=".7982" stop-color="#0069ff"/><stop offset=".8611" stop-color="#002fff"/><stop offset=".9273" stop-color="#000cff"/><stop offset=".9992" stop-color="#00f"/><stop offset="1" stop-color="#00f"/></linearGradient>
<linearGradient id="a37" x1="0" y1="0" x2="0" y2="1"><stop offset="0" stop-color="#002cff"/><stop offset=".2051" stop-color="#004bff"/><stop offset=".3366" stop-color="#0074ff"/><stop offset=".4232" stop-color="#00a5ff"/><stop offset=".4804" stop-color="#00daff"/><stop offset=".5114" stop-color="#00fffb"/><stop offset=".5441" stop-color="#0fb"/><stop offset=".5662" stop-color="#00ff7b"/><stop offset=".5825" stop-color="#00ff34"/><stop offset=".5907" stop-color="#00ff02"/><stop offset=".5972" stop-color="#3f0"/><stop offset=".6029" stop-color="#74ff00"/><stop offset=".607" stop-color="#b4ff00"/><stop offset=".6103" stop-color="#f7ff00"/><stop offset=".6111" stop-color="#fff900"/><stop offset=".6127" stop-color="#ffe100"/><stop offset=".616" stop-color="#ffb200"/><stop offset=".6193" stop-color="#ff6200"/><stop offset=".6201" stop-color="#ff5800"/><stop offset=".6209" stop-color="#ff6900"/><stop offset=".6242" stop-color="#fd0"/><stop offset=".625" stop-color="#fff500"/><stop offset=".6258" stop-color="#f3ff00"/><stop offset=".6291" stop-color="#adff00"/><stop offset=".634" stop-color="#63ff00"/><stop offset=".6413" stop-color="#17ff00"/><stop offset=".6446" stop-color="#00ff03"/><stop offset=".656" stop-color="#00ff4c"/><stop offset=".6724" stop-color="#00ff95"/><stop offset=".6944" stop-color="#0fd"/><stop offset=".7092" stop-color="#00fcff"/><stop offset=".7459" stop-color="#00b3ff"/><stop offset=".7941" stop-color="#006fff"/><stop offset=".8529" stop-color="#0035ff"/><stop offset=".9191" stop-color="#000fff"/><stop offset=".9918" stop-color="#00f"/><stop offset="1" stop-color="#00f"/></linearGradient>
<linearGradient id="a38" x1="0" y1="0" x2="0" y2="1"><stop offset="0" stop-color="#002bff"/><stop offset=".2092" stop-color="#004bff"/><stop offset=".3374" stop-color="#0073ff"/><stop offset=".424" stop-color="#00a3ff"/><stop offset=".482" stop-color="#00d9ff"/><stop offset=".5123" stop-color="#00fffd"/><stop offset=".5449" stop-color="#00ffbe"/><stop offset=".567" stop-color="#00ff7e"/><stop offset=".5817" stop-color="#00ff41"/><stop offset=".5923" stop-color="#00ff02"/><stop offset=".5989" stop-color="#3f0"/><stop offset=".6046" stop-color="#74ff00"/><stop offset=".6087" stop-color="#b4ff00"/><stop offset=".6119" stop-color="#f4ff00"/><stop offset=".6127" stop-color="#fffc00"/><stop offset=".616" stop-color="#ffbd00"/><stop offset=".6193" stop-color="#ff5700"/><stop offset=".6201" stop-color="#ff4600"/><stop offset=".6209" stop-color="#ff4100"/><stop offset=".6217" stop-color="#ff5800"/><stop offset=".625" stop-color="#ffd500"/><stop offset=".6258" stop-color="#fe0"/><stop offset=".6266" stop-color="#faff00"/><stop offset=".6299" stop-color="#b2ff00"/><stop offset=".6348" stop-color="#67ff00"/><stop offset=".6413" stop-color="#21ff00"/><stop offset=".6454" stop-color="#00ff01"/><stop offset=".6569" stop-color="#00ff4b"/><stop offset=".6732" stop-color="#00ff95"/><stop offset=".6961" stop-color="#00ffdf"/><stop offset=".7092" stop-color="#00feff"/><stop offset=".7435" stop-color="#00b8ff"/><stop offset=".7933" stop-color="#0070ff"/><stop offset=".8521" stop-color="#0036ff"/><stop offset=".9191" stop-color="#000fff"/><stop offset=".9918" stop-color="#00f"/><stop offset="1" stop-color="#00f"/></linearGradient>
<linearGradient id="a39" x1="0" y1="0" x2="0" y2="1"><stop offset="0" stop-color="#002bff"/><stop offset=".2002" stop-color="#0048ff"/><stop offset=".3342" stop-color="#0070ff"/><stop offset=".4208" stop-color="#009fff"/><stop offset=".4804" stop-color="#00d4ff"/><stop offset=".5147" stop-color="#00fffc"/><stop offset=".5466" stop-color="#00ffbf"/><stop offset=".5686" stop-color="#00ff7f"/><stop offset=".5842" stop-color="#00ff3e"/><stop offset=".5948" stop-color="#03ff00"/><stop offset=".6029" stop-color="#4bff00"/><stop offset=".6078" stop-color="#8aff00"/><stop offset=".6127" stop-color="#e1ff00"/><stop offset=".6144" stop-color="#fff900"/><stop offset=".6168" stop-color="#ffb500"/><stop offset=".6201" stop-color="#ff3800"/><stop offset=".6209" stop-color="#ff2a00"/><stop offset=".6217" stop-color="#ff2d00"/><stop offset=".625" stop-color="#ffb100"/><stop offset=".6275" stop-color="#fffe00"/><stop offset=".6307" stop-color="#b7ff00"/><stop offset=".6348" stop-color="#76ff00"/><stop offset=".6405" stop-color="#3f0"/><stop offset=".6462" stop-color="#01ff00"/><stop offset=".6577" stop-color="#00ff4a"/><stop offset=".6748" stop-color="#00ff98"/><stop offset=".6993" stop-color="#00ffe6"/><stop offset=".7108" stop-color="#00fbff"/><stop offset=".75" stop-color="#00aeff"/><stop offset=".799" stop-color="#006aff"/><stop offset=".8562" stop-color="#03f"/><stop offset=".9224" stop-color="#000eff"/><stop offset=".9935" stop-color="#00f"/><stop offset="1" stop-color="#00f"/></linearGradient>
<linearGradient id="a40" x1="0" y1="0" x2="0" y2="1"><stop offset="0" stop-color="#002aff"/><stop offset=".2092" stop-color="#0049ff"/><stop offset=".3399" stop-color="#0071ff"/><stop offset=".4265" stop-color="#00a1ff"/><stop offset=".4869" stop-color="#00d9ff"/><stop offset=".5172" stop-color="#00fffc"/><stop offset=".549" stop-color="#00ffbd"/><stop offset=".5703" stop-color="#00ff7f"/><stop offset=".585" stop-color="#00ff41"/><stop offset=".5956" stop-color="#00ff02"/><stop offset=".6021" stop-color="#34ff00"/><stop offset=".6078" stop-color="#75ff00"/><stop offset=".6119" stop-color="#b5ff00"/><stop offset=".6152" stop-color="#feff00"/><stop offset=".6176" stop-color="#ffb200"/><stop offset=".6201" stop-color="#ff4b00"/><stop offset=".6209" stop-color="#ff3100"/><stop offset=".6217" stop-color="#f20"/><stop offset=".6225" stop-color="#ff3500"/><stop offset=".6258" stop-color="#ffb300"/><stop offset=".6283" stop-color="#fff700"/><stop offset=".6291" stop-color="#f4ff00"/><stop offset=".6332" stop-color="#a1ff00"/><stop offset=".6381" stop-color="#5bff00"/><stop offset=".6446" stop-color="#18ff00"/><stop offset=".6479" stop-color="#00ff03"/><stop offset=".6593" stop-color="#00ff4d"/><stop offset=".6757" stop-color="#00ff97"/><stop offset=".6977" stop-color="#00ffdf"/><stop offset=".7108" stop-color="#00fdff"/><stop offset=".7475" stop-color="#00b3ff"/><stop offset=".7958" stop-color="#006eff"/><stop offset=".8538" stop-color="#0035ff"/><stop offset=".9199" stop-color="#000fff"/><stop offset=".9902" stop-color="#00f"/><stop offset="1" stop-color="#00f"/></linearGradient>
<linearGradient id="a41" x1="0" y1="0" x2="0" y2="1"><stop offset="0" stop-color="#002aff"/><stop offset=".2042" stop-color="#0047ff"/><stop offset=".335" stop-color="#006eff"/><stop offset=".4216" stop-color="#009cff"/><stop offset=".4828" stop-color="#00d2ff"/><stop offset=".5188" stop-color="#00fffc"/><stop offset=".5515" stop-color="#0fb"/><stop offset=".5727" stop-color="#00ff7b"/><stop offset=".5874" stop-color="#00ff3b"/><stop offset=".5972" stop-color="#01ff00"/><stop offset=".6054" stop-color="#49ff00"/><stop offset=".6111" stop-color="#94ff00"/><stop offset=".6144" stop-color="#d2ff00"/><stop offset=".616" stop-color="#f9ff00"/><stop offset=".6168" stop-color="#fe0"/><stop offset=".6193" stop-color="#ff9800"/><stop offset=".6209" stop-color="#ff5800"/><stop offset=".6217" stop-color="#ff4500"/><stop offset=".6225" stop-color="#ff4000"/><stop offset=".6242" stop-color="#ff7100"/><stop offset=".6266" stop-color="#ffb900"/><stop offset=".6299" stop-color="#fffd00"/><stop offset=".6348" stop-color="#9bff00"/><stop offset=".6397" stop-color="#56ff00"/><stop offset=".6471" stop-color="#0cff00"/><stop offset=".6487" stop-color="#00ff01"/><stop offset=".6601" stop-color="#00ff4c"/><stop offset=".6773" stop-color="#00ff9a"/><stop offset=".7018" stop-color="#00ffe8"/><stop offset=".7124" stop-color="#00fbff"/><stop offset=".7475" stop-color="#00b4ff"/><stop offset=".7974" stop-color="#006cff"/><stop offset=".8578" stop-color="#0032ff"/><stop offset=".9224" stop-color="#000eff"/><stop offset=".9935" stop-color="#00f"/><stop offset="1" stop-color="#00f"/></linearGradient>
<linearGradient id="a42" x1="0" y1="0" x2="0" y2="1"><stop offset="0" stop-color="#0029ff"/><stop offset=".2075" stop-color="#0047ff"/><stop offset=".3382" stop-color="#006eff"/><stop offset=".4265" stop-color="#009eff"/><stop offset=".4845" stop-color="#00d2ff"/><stop offset=".5204" stop-color="#00fffc"/><stop offset=".5523" stop-color="#00ffbd"/><stop offset=".5735" stop-color="#00ff7d"/><stop offset=".5882" stop-color="#00ff3e"/><stop offset=".598" stop-color="#00ff02"/><stop offset=".6046" stop-color="#35ff00"/><stop offset=".6103" stop-color="#7f0"/><stop offset=".6144" stop-color="#bf0"/><stop offset=".6168" stop-color="#f3ff00"/><stop offset=".6176" stop-color="#fff400"/><stop offset=".6201" stop-color="#ffa000"/><stop offset=".6217" stop-color="#ff6700"/><stop offset=".6225" stop-color="#f50"/><stop offset=".6234" stop-color="#ff5e00"/><stop offset=".6266" stop-color="#fa0"/><stop offset=".6299" stop-color="#ffdf00"/><stop offset=".6315" stop-color="#f9ff00"/><stop offset=".6348" stop-color="#b1ff00"/><stop offset=".6397" stop-color="#64ff00"/><stop offset=".6462" stop-color="#1dff00"/><stop offset=".6495" stop-color="#01ff00"/><stop offset=".6618" stop-color="#00ff4f"/><stop offset=".6773" stop-color="#00ff96"/><stop offset=".6993" stop-color="#00ffdf"/><stop offset=".7124" stop-color="#00fdff"/><stop offset=".7484" stop-color="#00b3ff"/><stop offset=".7982" stop-color="#006cff"/><stop offset=".8554" stop-color="#0034ff"/><stop offset=".9199" stop-color="#000fff"/><stop offset=".9902" stop-color="#00f"/><stop offset="1" stop-color="#00f"/></linearGradient>
<linearGradient id="a43" x1="0" y1="0" x2="0" y2="1"><stop offset="0" stop-color="#0029ff"/><stop offset=".2018" stop-color="#0045ff"/><stop offset=".3366" stop-color="#006cff"/><stop offset=".4248" stop-color="#009bff"/><stop offset=".4828" stop-color="#00ceff"/><stop offset=".5221" stop-color="#00fffc"/><stop offset=".5523" stop-color="#00ffc0"/><stop offset=".5727" stop-color="#00ff85"/><stop offset=".5882" stop-color="#00ff45"/><stop offset=".5997" stop-color="#01ff00"/><stop offset=".607" stop-color="#42ff00"/><stop offset=".6119" stop-color="#7eff00"/><stop offset=".616" stop-color="#c6ff00"/><stop offset=".6185" stop-color="#fffb00"/><stop offset=".6217" stop-color="#ff8e00"/><stop offset=".6225" stop-color="#ff7a00"/><stop offset=".6234" stop-color="#ff6f00"/><stop offset=".625" stop-color="#ff8700"/><stop offset=".6275" stop-color="#ffab00"/><stop offset=".6299" stop-color="#ffc100"/><stop offset=".6324" stop-color="#fffb00"/><stop offset=".6364" stop-color="#a8ff00"/><stop offset=".6405" stop-color="#68ff00"/><stop offset=".6471" stop-color="#20ff00"/><stop offset=".6511" stop-color="#00ff03"/><stop offset=".6609" stop-color="#00ff45"/><stop offset=".6773" stop-color="#00ff93"/><stop offset=".6993" stop-color="#0fd"/><stop offset=".7132" stop-color="#00fcff"/><stop offset=".7508" stop-color="#00b0ff"/><stop offset=".8007" stop-color="#0069ff"/><stop offset=".8595" stop-color="#0031ff"/><stop offset=".9248" stop-color="#000dff"/><stop offset=".9959" stop-color="#00f"/><stop offset="1" stop-color="#00f"/></linearGradient>
<linearGradient id="a44" x1="0" y1="0" x2="0" y2="1"><stop offset="0" stop-color="#0028ff"/><stop offset=".2108" stop-color="#0046ff"/><stop offset=".3415" stop-color="#006dff"/><stop offset=".4273" stop-color="#009bff"/><stop offset=".4869" stop-color="#00d0ff"/><stop offset=".5237" stop-color="#00fffc"/><stop offset=".5539" stop-color="#00ffc0"/><stop offset=".576" stop-color="#00ff7f"/><stop offset=".5915" stop-color="#00ff3b"/><stop offset=".6005" stop-color="#00ff03"/><stop offset=".6062" stop-color="#2dff00"/><stop offset=".6119" stop-color="#6eff00"/><stop offset=".616" stop-color="#afff00"/><stop offset=".6193" stop-color="#faff00"/><stop offset=".6201" stop-color="#ffec00"/><stop offset=".6225" stop-color="#ff9e00"/><stop offset=".6234" stop-color="#ff8900"/><stop offset=".6242" stop-color="#f80"/><stop offset=".6275" stop-color="#ffa300"/><stop offset=".6299" stop-color="#ffac00"/><stop offset=".6307" stop-color="#ffb300"/><stop offset=".6332" stop-color="#fff300"/><stop offset=".634" stop-color="#f5ff00"/><stop offset=".6373" stop-color="#adff00"/><stop offset=".6413" stop-color="#6cff00"/><stop offset=".6471" stop-color="#2aff00"/><stop offset=".652" stop-color="#00ff02"/><stop offset=".6634" stop-color="#00ff4d"/><stop offset=".6789" stop-color="#00ff96"/><stop offset=".7018" stop-color="#00ffe2"/><stop offset=".7141" stop-color="#00fcff"/><stop offset=".7508" stop-color="#00b1ff"/><stop offset=".7966" stop-color="#006fff"/><stop offset=".8505" stop-color="#0038ff"/><stop offset=".915" stop-color="#01f"/><stop offset=".9812" stop-color="#0001ff"/><stop offset="1" stop-color="#00f"/></linearGradient>
<linearGradient id="a45" x1="0" y1="0" x2="0" y2="1"><stop offset="0" stop-color="#0028ff"/><stop offset=".2051" stop-color="#04f"/><stop offset=".3399" stop-color="#006bff"/><stop offset=".4281" stop-color="#009aff"/><stop offset=".4861" stop-color="#00cdff"/><stop offset=".5253" stop-color="#00fffd"/><stop offset=".5564" stop-color="#00ffbe"/><stop offset=".5776" stop-color="#00ff7e"/><stop offset=".5923" stop-color="#00ff3e"/><stop offset=".6021" stop-color="#0f0"/><stop offset=".6095" stop-color="#41ff00"/><stop offset=".6144" stop-color="#7fff00"/><stop offset=".6185" stop-color="#c9ff00"/><stop offset=".6201" stop-color="#f1ff00"/><stop offset=".6209" stop-color="#fff600"/><stop offset=".6234" stop-color="#ffaf00"/><stop offset=".6242" stop-color="#ff9f00"/><stop offset=".6283" stop-color="#ff9f00"/><stop offset=".6299" stop-color="#ff9800"/><stop offset=".6315" stop-color="#ffa600"/><stop offset=".6348" stop-color="#fcff00"/><stop offset=".6381" stop-color="#b1ff00"/><stop offset=".6422" stop-color="#6fff00"/><stop offset=".6479" stop-color="#2cff00"/><stop offset=".6528" stop-color="#0f0"/><stop offset=".6642" stop-color="#00ff4d"/><stop offset=".6806" stop-color="#0f9"/><stop offset=".7042" stop-color="#00ffe7"/><stop offset=".7149" stop-color="#00fcff"/><stop offset=".75" stop-color="#00b3ff"/><stop offset=".7982" stop-color="#006dff"/><stop offset=".8546" stop-color="#0035ff"/><stop offset=".9175" stop-color="#0010ff"/><stop offset=".9877" stop-color="#00f"/><stop offset="1" stop-color="#00f"/></linearGradient>
<linearGradient id="a46" x1="0" y1="0" x2="0" y2="1"><stop offset="0" stop-color="#0027ff"/><stop offset=".2132" stop-color="#0045ff"/><stop offset=".3456" stop-color="#006cff"/><stop offset=".4322" stop-color="#009bff"/><stop offset=".4918" stop-color="#00d1ff"/><stop offset=".527" stop-color="#00fffd"/><stop offset=".558" stop-color="#00ffbe"/><stop offset=".5792" stop-color="#00ff7e"/><stop offset=".5948" stop-color="#00ff38"/><stop offset=".6038" stop-color="#02ff00"/><stop offset=".6111" stop-color="#45ff00"/><stop offset=".616" stop-color="#85ff00"/><stop offset=".6193" stop-color="#c0ff00"/><stop offset=".6217" stop-color="#fcff00"/><stop offset=".6242" stop-color="#ffc200"/><stop offset=".625" stop-color="#ffb400"/><stop offset=".6283" stop-color="#ff9f00"/><stop offset=".6299" stop-color="#ff8c00"/><stop offset=".6315" stop-color="#f80"/><stop offset=".6332" stop-color="#ffb200"/><stop offset=".6356" stop-color="#fffd00"/><stop offset=".6397" stop-color="#a6ff00"/><stop offset=".6446" stop-color="#5bff00"/><stop offset=".6511" stop-color="#16ff00"/><stop offset=".6536" stop-color="#01ff00"/><stop offset=".665" stop-color="#00ff4c"/><stop offset=".6797" stop-color="#00ff92"/><stop offset=".7018" stop-color="#00ffde"/><stop offset=".7149" stop-color="#00fdff"/><stop offset=".7525" stop-color="#00b0ff"/><stop offset=".8015" stop-color="#0069ff"/><stop offset=".8611" stop-color="#0030ff"/><stop offset=".9273" stop-color="#000cff"/><stop offset=".9992" stop-color="#00f"/><stop offset="1" stop-color="#00f"/></linearGradient>
<linearGradient id="a47" x1="0" y1="0" x2="0" y2="1"><stop offset="0" stop-color="#0027ff"/><stop offset=".2083" stop-color="#0043ff"/><stop offset=".3431" stop-color="#006aff"/><stop offset=".4314" stop-color="#09f"/><stop offset=".4894" stop-color="#0cf"/><stop offset=".5294" stop-color="#00fffc"/><stop offset=".5605" stop-color="#00ffbc"/><stop offset=".5817" stop-color="#00ff7a"/><stop offset=".5964" stop-color="#00ff37"/><stop offset=".6046" stop-color="#00ff02"/><stop offset=".6111" stop-color="#37ff00"/><stop offset=".6168" stop-color="#7eff00"/><stop offset=".6209" stop-color="#c8ff00"/><stop offset=".6234" stop-color="#fffa00"/><stop offset=".625" stop-color="#ffd200"/><stop offset=".6283" stop-color="#ffa600"/><stop offset=".6307" stop-color="#ff7a00"/><stop offset=".6324" stop-color="#ff7a00"/><stop offset=".6364" stop-color="#fff800"/><stop offset=".6381" stop-color="#dcff00"/><stop offset=".6413" stop-color="#9aff00"/><stop offset=".6462" stop-color="#53ff00"/><stop offset=".6536" stop-color="#09ff00"/><stop offset=".6552" stop-color="#00ff04"/><stop offset=".6658" stop-color="#00ff4c"/><stop offset=".6822" stop-color="#0f9"/><stop offset=".7051" stop-color="#00ffe5"/><stop offset=".7157" stop-color="#00fdff"/><stop offset=".75" stop-color="#00b5ff"/><stop offset=".7958" stop-color="#0071ff"/><stop offset=".8521" stop-color="#0037ff"/><stop offset=".9175" stop-color="#0010ff"/><stop offset=".9877" stop-color="#00f"/><stop offset="1" stop-color="#00f"/></linearGradient>
<linearGradient id="a48" x1="0" y1="0" x2="0" y2="1"><stop offset="0" stop-color="#0026ff"/><stop offset=".2116" stop-color="#0043ff"/><stop offset=".344" stop-color="#0069ff"/><stop offset=".433" stop-color="#0098ff"/><stop offset=".4943" stop-color="#00cfff"/><stop offset=".531" stop-color="#00fffc"/><stop offset=".5613" stop-color="#00ffbe"/><stop offset=".5833" stop-color="#00ff7a"/><stop offset=".5989" stop-color="#00ff31"/><stop offset=".6062" stop-color="#0f0"/><stop offset=".6136" stop-color="#43ff00"/><stop offset=".6185" stop-color="#82ff00"/><stop offset=".6225" stop-color="#cdff00"/><stop offset=".6242" stop-color="#f4ff00"/><stop offset=".625" stop-color="#fff700"/><stop offset=".6291" stop-color="#ff9f00"/><stop offset=".6307" stop-color="#ff7500"/><stop offset=".6324" stop-color="#ff5f00"/><stop offset=".6332" stop-color="#ff6e00"/><stop offset=".6373" stop-color="#fff400"/><stop offset=".6381" stop-color="#f4ff00"/><stop offset=".6413" stop-color="#acff00"/><stop offset=".6454" stop-color="#6aff00"/><stop offset=".652" stop-color="#20ff00"/><stop offset=".656" stop-color="#00ff04"/><stop offset=".6675" stop-color="#00ff50"/><stop offset=".6838" stop-color="#00ff9c"/><stop offset=".7067" stop-color="#00ffe8"/><stop offset=".7173" stop-color="#00fbff"/><stop offset=".7516" stop-color="#00b3ff"/><stop offset=".799" stop-color="#006dff"/><stop offset=".8562" stop-color="#0034ff"/><stop offset=".9199" stop-color="#000fff"/><stop offset=".9902" stop-color="#00f"/><stop offset="1" stop-color="#00f"/></linearGradient>
<linearGradient id="a49" x1="0" y1="0" x2="0" y2="1"><stop offset="0" stop-color="#0026ff"/><stop offset=".2108" stop-color="#0042ff"/><stop offset=".3448" stop-color="#0068ff"/><stop offset=".4306" stop-color="#0095ff"/><stop offset=".491" stop-color="#00c9ff"/><stop offset=".5327" stop-color="#00fffc"/><stop offset=".5613" stop-color="#00ffc2"/><stop offset=".5825" stop-color="#00ff82"/><stop offset=".5972" stop-color="#00ff42"/><stop offset=".6078" stop-color="#01ff00"/><stop offset=".6152" stop-color="#45ff00"/><stop offset=".6201" stop-color="#85ff00"/><stop offset=".6242" stop-color="#d0ff00"/><stop offset=".6258" stop-color="#f6ff00"/><stop offset=".6266" stop-color="#fff400"/><stop offset=".6291" stop-color="#ffb000"/><stop offset=".6315" stop-color="#ff6000"/><stop offset=".6332" stop-color="#ff4f00"/><stop offset=".634" stop-color="#ff6400"/><stop offset=".6373" stop-color="#ffd800"/><stop offset=".6381" stop-color="#fff100"/><stop offset=".6389" stop-color="#f7ff00"/><stop offset=".6422" stop-color="#aeff00"/><stop offset=".6471" stop-color="#61ff00"/><stop offset=".6536" stop-color="#1aff00"/><stop offset=".6569" stop-color="#00ff03"/><stop offset=".6683" stop-color="#00ff50"/><stop offset=".6846" stop-color="#00ff9c"/><stop offset=".7067" stop-color="#00ffe6"/><stop offset=".7173" stop-color="#00fcff"/><stop offset=".7533" stop-color="#00b1ff"/><stop offset=".8023" stop-color="#0069ff"/><stop offset=".8603" stop-color="#0031ff"/><stop offset=".9248" stop-color="#000dff"/><stop offset=".9959" stop-color="#00f"/><stop offset="1" stop-color="#00f"/></linearGradient>
<linearGradient id="a50" x1="0" y1="0" x2="0" y2="1"><stop offset="0" stop-color="#0025ff"/><stop offset=".2149" stop-color="#0042ff"/><stop offset=".3448" stop-color="#0067ff"/><stop offset=".4338" stop-color="#0095ff"/><stop offset=".4959" stop-color="#0cf"/><stop offset=".5343" stop-color="#00fffd"/><stop offset=".5645" stop-color="#00ffbe"/><stop offset=".5858" stop-color="#00ff7c"/><stop offset=".6005" stop-color="#00ff38"/><stop offset=".6087" stop-color="#00ff03"/><stop offset=".6144" stop-color="#2eff00"/><stop offset=".6201" stop-color="#71ff00"/><stop offset=".6242" stop-color="#b4ff00"/><stop offset=".6275" stop-color="#fffe00"/><stop offset=".6299" stop-color="#ffb000"/><stop offset=".6315" stop-color="#ff7500"/><stop offset=".6332" stop-color="#ff4c00"/><stop offset=".634" stop-color="#ff5600"/><stop offset=".6356" stop-color="#f80"/><stop offset=".6381" stop-color="#ffd700"/><stop offset=".6397" stop-color="#fdff00"/><stop offset=".6438" stop-color="#a6ff00"/><stop offset=".6487" stop-color="#5bff00"/><stop offset=".6552" stop-color="#15ff00"/><stop offset=".6577" stop-color="#00ff01"/><stop offset=".6691" stop-color="#00ff4f"/><stop offset=".6855" stop-color="#00ff9c"/><stop offset=".7075" stop-color="#00ffe6"/><stop offset=".7181" stop-color="#00fcff"/><stop offset=".7533" stop-color="#00b2ff"/><stop offset=".799" stop-color="#006eff"/><stop offset=".8538" stop-color="#0036ff"/><stop offset=".9199" stop-color="#000fff"/><stop offset=".991" stop-color="#00f"/><stop offset="1" stop-color="#00f"/></linearGradient>
<linearGradient id="a51" x1="0" y1="0" x2="0" y2="1"><stop offset="0" stop-color="#0025ff"/><stop offset=".2141" stop-color="#0041ff"/><stop offset=".348" stop-color="#0067ff"/><stop offset=".4371" stop-color="#0096ff"/><stop offset=".4967" stop-color="#00cbff"/><stop offset=".5368" stop-color="#00fffc"/><stop offset=".5678" stop-color="#00ffba"/><stop offset=".5891" stop-color="#00ff75"/><stop offset=".6029" stop-color="#00ff31"/><stop offset=".6103" stop-color="#0f0"/><stop offset=".6176" stop-color="#4f0"/><stop offset=".6225" stop-color="#84ff00"/><stop offset=".6266" stop-color="#d0ff00"/><stop offset=".6283" stop-color="#f9ff00"/><stop offset=".6291" stop-color="#fe0"/><stop offset=".6324" stop-color="#ff8200"/><stop offset=".634" stop-color="#ff6300"/><stop offset=".6348" stop-color="#ff6e00"/><stop offset=".6389" stop-color="#ffd500"/><stop offset=".6405" stop-color="#fff700"/><stop offset=".6413" stop-color="#f7ff00"/><stop offset=".6454" stop-color="#a1ff00"/><stop offset=".6503" stop-color="#56ff00"/><stop offset=".6577" stop-color="#09ff00"/><stop offset=".6593" stop-color="#00ff04"/><stop offset=".6691" stop-color="#00ff48"/><stop offset=".683" stop-color="#00ff8e"/><stop offset=".7042" stop-color="#00ffda"/><stop offset=".719" stop-color="#00fcff"/><stop offset=".7533" stop-color="#00b3ff"/><stop offset=".8007" stop-color="#006cff"/><stop offset=".8578" stop-color="#03f"/><stop offset=".9224" stop-color="#000eff"/><stop offset=".9935" stop-color="#00f"/><stop offset="1" stop-color="#00f"/></linearGradient>
<linearGradient id="a52" x1="0" y1="0" x2="0" y2="1"><stop offset="0" stop-color="#0024ff"/><stop offset=".2181" stop-color="#0041ff"/><stop offset=".3513" stop-color="#0067ff"/><stop offset=".4395" stop-color="#0096ff"/><stop offset=".4992" stop-color="#00cbff"/><stop offset=".5384" stop-color="#00fffc"/><stop offset=".5686" stop-color="#00ffbc"/><stop offset=".5899" stop-color="#0f7"/><stop offset=".6038" stop-color="#00ff34"/><stop offset=".6119" stop-color="#03ff00"/><stop offset=".6185" stop-color="#3fff00"/><stop offset=".6242" stop-color="#8bff00"/><stop offset=".6283" stop-color="#dcff00"/><stop offset=".6291" stop-color="#f1ff00"/><stop offset=".6299" stop-color="#fff600"/><stop offset=".6332" stop-color="#ff9000"/><stop offset=".6348" stop-color="#ff7a00"/><stop offset=".6364" stop-color="#ff9500"/><stop offset=".6405" stop-color="#ffdc00"/><stop offset=".6422" stop-color="#fffa00"/><stop offset=".6446" stop-color="#caff00"/><stop offset=".6487" stop-color="#7eff00"/><stop offset=".6544" stop-color="#34ff00"/><stop offset=".6601" stop-color="#00ff02"/><stop offset=".6708" stop-color="#00ff4c"/><stop offset=".6871" stop-color="#00ff9b"/><stop offset=".71" stop-color="#00ffe8"/><stop offset=".7198" stop-color="#00fcff"/><stop offset=".7533" stop-color="#00b4ff"/><stop offset=".799" stop-color="#006fff"/><stop offset=".8554" stop-color="#0035ff"/><stop offset=".9199" stop-color="#000fff"/><stop offset=".991" stop-color="#00f"/><stop offset="1" stop-color="#00f"/></linearGradient>
<linearGradient id="a53" x1="0" y1="0" x2="0" y2="1"><stop offset="0" stop-color="#0024ff"/><stop offset=".2173" stop-color="#0040ff"/><stop offset=".3489" stop-color="#0065ff"/><stop offset=".4346" stop-color="#0091ff"/><stop offset=".4935" stop-color="#00c3ff"/><stop offset=".5368" stop-color="#00fcff"/><stop offset=".5613" stop-color="#00ffd2"/><stop offset=".585" stop-color="#00ff8f"/><stop offset=".6013" stop-color="#00ff49"/><stop offset=".6111" stop-color="#00ff0d"/><stop offset=".6127" stop-color="#00ff01"/><stop offset=".6193" stop-color="#3bff00"/><stop offset=".6242" stop-color="#79ff00"/><stop offset=".6275" stop-color="#b1ff00"/><stop offset=".6307" stop-color="#feff00"/><stop offset=".634" stop-color="#ffa000"/><stop offset=".6348" stop-color="#ff8f00"/><stop offset=".6356" stop-color="#ff8f00"/><stop offset=".6422" stop-color="#ffdb00"/><stop offset=".6438" stop-color="#fbff00"/><stop offset=".6479" stop-color="#a0ff00"/><stop offset=".6528" stop-color="#5f0"/><stop offset=".6593" stop-color="#0fff00"/><stop offset=".6609" stop-color="#01ff00"/><stop offset=".6716" stop-color="#00ff4a"/><stop offset=".6855" stop-color="#00ff90"/><stop offset=".7067" stop-color="#00ffdc"/><stop offset=".7206" stop-color="#00fbff"/><stop offset=".7565" stop-color="#00afff"/><stop offset=".8056" stop-color="#0067ff"/><stop offset=".8636" stop-color="#002fff"/><stop offset=".9281" stop-color="#000cff"/><stop offset=".9984" stop-color="#00f"/><stop offset="1" stop-color="#00f"/></linearGradient>
<linearGradient id="a54" x1="0" y1="0" x2="0" y2="1"><stop offset="0" stop-color="#0023ff"/><stop offset=".2214" stop-color="#0040ff"/><stop offset=".3521" stop-color="#0065ff"/><stop offset=".4387" stop-color="#0092ff"/><stop offset=".4967" stop-color="#00c4ff"/><stop offset=".5392" stop-color="#00fdff"/><stop offset=".5654" stop-color="#0fc"/><stop offset=".5866" stop-color="#00ff8e"/><stop offset=".6013" stop-color="#00ff51"/><stop offset=".6127" stop-color="#00ff0b"/><stop offset=".6144" stop-color="#02ff00"/><stop offset=".6209" stop-color="#3fff00"/><stop offset=".6258" stop-color="#7fff00"/><stop offset=".6291" stop-color="#baff00"/><stop offset=".6315" stop-color="#f4ff00"/><stop offset=".6324" stop-color="#fff300"/><stop offset=".6348" stop-color="#ffb100"/><stop offset=".6356" stop-color="#ffa200"/><stop offset=".6422" stop-color="#ffbe00"/><stop offset=".6438" stop-color="#ffe200"/><stop offset=".6446" stop-color="#fff900"/><stop offset=".6462" stop-color="#dbff00"/><stop offset=".6495" stop-color="#97ff00"/><stop offset=".6544" stop-color="#4fff00"/><stop offset=".6609" stop-color="#0aff00"/><stop offset=".6626" stop-color="#00ff04"/><stop offset=".6732" stop-color="#00ff4e"/><stop offset=".6887" stop-color="#00ff9a"/><stop offset=".7108" stop-color="#00ffe6"/><stop offset=".7206" stop-color="#00fdff"/><stop offset=".7549" stop-color="#00b3ff"/><stop offset=".799" stop-color="#0070ff"/><stop offset=".8521" stop-color="#0038ff"/><stop offset=".9175" stop-color="#0010ff"/><stop offset=".9886" stop-color="#00f"/><stop offset="1" stop-color="#00f"/></linearGradient>
<linearGradient id="a55" x1="0" y1="0" x2="0" y2="1"><stop offset="0" stop-color="#0023ff"/><stop offset=".2149" stop-color="#003eff"/><stop offset=".3505" stop-color="#0063ff"/><stop offset=".4404" stop-color="#0091ff"/><stop offset=".5008" stop-color="#00c6ff"/><stop offset=".5433" stop-color="#00fffd"/><stop offset=".5727" stop-color="#00ffbe"/><stop offset=".5931" stop-color="#00ff7b"/><stop offset=".6062" stop-color="#00ff3e"/><stop offset=".6152" stop-color="#00ff03"/><stop offset=".6209" stop-color="#31ff00"/><stop offset=".6266" stop-color="#78ff00"/><stop offset=".6307" stop-color="#c2ff00"/><stop offset=".6332" stop-color="#ff0"/><stop offset=".6348" stop-color="#ffd300"/><stop offset=".6364" stop-color="#ffb500"/><stop offset=".6422" stop-color="#fa0"/><stop offset=".643" stop-color="#ffaf00"/><stop offset=".6454" stop-color="#ffef00"/><stop offset=".6462" stop-color="#f8ff00"/><stop offset=".6495" stop-color="#acff00"/><stop offset=".6536" stop-color="#68ff00"/><stop offset=".6601" stop-color="#1bff00"/><stop offset=".6634" stop-color="#00ff02"/><stop offset=".6732" stop-color="#00ff48"/><stop offset=".6879" stop-color="#00ff93"/><stop offset=".7092" stop-color="#00ffdf"/><stop offset=".7214" stop-color="#00fdff"/><stop offset=".7549" stop-color="#00b4ff"/><stop offset=".8007" stop-color="#006eff"/><stop offset=".8538" stop-color="#0037ff"/><stop offset=".9175" stop-color="#0010ff"/><stop offset=".9886" stop-color="#00f"/><stop offset="1" stop-color="#00f"/></linearGradient>
<linearGradient id="a56" x1="0" y1="0" x2="0" y2="1"><stop offset="0" stop-color="#02f"/><stop offset=".2247" stop-color="#003fff"/><stop offset=".3587" stop-color="#0065ff"/><stop offset=".4453" stop-color="#0093ff"/><stop offset=".5049" stop-color="#00c8ff"/><stop offset=".5458" stop-color="#00fffc"/><stop offset=".5743" stop-color="#00ffbe"/><stop offset=".5948" stop-color="#00ff7b"/><stop offset=".6087" stop-color="#00ff38"/><stop offset=".6168" stop-color="#00ff01"/><stop offset=".6234" stop-color="#3dff00"/><stop offset=".6283" stop-color="#7dff00"/><stop offset=".6315" stop-color="#b8ff00"/><stop offset=".634" stop-color="#f2ff00"/><stop offset=".6348" stop-color="#fff700"/><stop offset=".6364" stop-color="#ffd000"/><stop offset=".6422" stop-color="#ff9a00"/><stop offset=".6438" stop-color="#ffa200"/><stop offset=".6471" stop-color="#ff0"/><stop offset=".6503" stop-color="#b1ff00"/><stop offset=".6544" stop-color="#6bff00"/><stop offset=".6609" stop-color="#1dff00"/><stop offset=".6642" stop-color="#00ff01"/><stop offset=".674" stop-color="#00ff47"/><stop offset=".6879" stop-color="#00ff8f"/><stop offset=".7083" stop-color="#00ffda"/><stop offset=".7222" stop-color="#00fdff"/><stop offset=".7549" stop-color="#00b5ff"/><stop offset=".799" stop-color="#0071ff"/><stop offset=".8513" stop-color="#0039ff"/><stop offset=".9134" stop-color="#0012ff"/><stop offset=".9804" stop-color="#0001ff"/><stop offset="1" stop-color="#00f"/></linearGradient>
<linearGradient id="a57" x1="0" y1="0" x2="0" y2="1"><stop offset="0" stop-color="#02f"/><stop offset=".2181" stop-color="#003dff"/><stop offset=".3513" stop-color="#0061ff"/><stop offset=".4412" stop-color="#008eff"/><stop offset=".5033" stop-color="#00c4ff"/><stop offset=".5441" stop-color="#00fcff"/><stop offset=".5654" stop-color="#00ffd8"/><stop offset=".5882" stop-color="#0f9"/><stop offset=".6046" stop-color="#00ff56"/><stop offset=".616" stop-color="#00ff12"/><stop offset=".6185" stop-color="#01ff00"/><stop offset=".6258" stop-color="#49ff00"/><stop offset=".6307" stop-color="#8fff00"/><stop offset=".6348" stop-color="#e4ff00"/><stop offset=".6356" stop-color="#f8ff00"/><stop offset=".6373" stop-color="#ffe100"/><stop offset=".6422" stop-color="#ff9200"/><stop offset=".6438" stop-color="#ff8600"/><stop offset=".6446" stop-color="#ff9500"/><stop offset=".6479" stop-color="#fff800"/><stop offset=".6495" stop-color="#daff00"/><stop offset=".6528" stop-color="#96ff00"/><stop offset=".6585" stop-color="#43ff00"/><stop offset=".665" stop-color="#01ff00"/><stop offset=".6748" stop-color="#00ff46"/><stop offset=".6879" stop-color="#00ff8b"/><stop offset=".7075" stop-color="#00ffd5"/><stop offset=".723" stop-color="#00fdff"/><stop offset=".7549" stop-color="#00b6ff"/><stop offset=".799" stop-color="#0071ff"/><stop offset=".8538" stop-color="#0037ff"/><stop offset=".9183" stop-color="#0010ff"/><stop offset=".9877" stop-color="#00f"/><stop offset="1" stop-color="#00f"/></linearGradient>
<linearGradient id="a58" x1="0" y1="0" x2="0" y2="1"><stop offset="0" stop-color="#02f"/><stop offset=".2173" stop-color="#003cff"/><stop offset=".3521" stop-color="#0060ff"/><stop offset=".442" stop-color="#008dff"/><stop offset=".5016" stop-color="#00c0ff"/><stop offset=".5425" stop-color="#00f6ff"/><stop offset=".5507" stop-color="#00fffa"/><stop offset=".5784" stop-color="#00ffbc"/><stop offset=".5972" stop-color="#00ff7e"/><stop offset=".6111" stop-color="#00ff3b"/><stop offset=".6201" stop-color="#03ff00"/><stop offset=".6266" stop-color="#42ff00"/><stop offset=".6315" stop-color="#85ff00"/><stop offset=".6356" stop-color="#d6ff00"/><stop offset=".6373" stop-color="#fbff00"/><stop offset=".6405" stop-color="#ffbc00"/><stop offset=".643" stop-color="#ff8200"/><stop offset=".6446" stop-color="#f70"/><stop offset=".6462" stop-color="#ffa200"/><stop offset=".6487" stop-color="#fff200"/><stop offset=".6495" stop-color="#f5ff00"/><stop offset=".6528" stop-color="#a9ff00"/><stop offset=".6577" stop-color="#5aff00"/><stop offset=".6642" stop-color="#1f0"/><stop offset=".6658" stop-color="#02ff00"/><stop offset=".6773" stop-color="#00ff50"/><stop offset=".6936" stop-color="#00ffa0"/><stop offset=".7149" stop-color="#00ffe9"/><stop offset=".7239" stop-color="#00fcff"/><stop offset=".7565" stop-color="#00b4ff"/><stop offset=".8023" stop-color="#006dff"/><stop offset=".8578" stop-color="#0034ff"/><stop offset=".9208" stop-color="#000fff"/><stop offset=".9902" stop-color="#00f"/><stop offset="1" stop-color="#00f"/></linearGradient>
<linearGradient id="a59" x1="0" y1="0" x2="0" y2="1"><stop offset="0" stop-color="#0021ff"/><stop offset=".2214" stop-color="#003cff"/><stop offset=".3554" stop-color="#0060ff"/><stop offset=".4428" stop-color="#008cff"/><stop offset=".5033" stop-color="#00bfff"/><stop offset=".5458" stop-color="#00f8ff"/><stop offset=".5531" stop-color="#00fff9"/><stop offset=".5809" stop-color="#00ffba"/><stop offset=".6013" stop-color="#00ff74"/><stop offset=".6152" stop-color="#00ff2c"/><stop offset=".6217" stop-color="#04ff00"/><stop offset=".6283" stop-color="#4f0"/><stop offset=".6332" stop-color="#8f0"/><stop offset=".6373" stop-color="#d8ff00"/><stop offset=".6389" stop-color="#fffe00"/><stop offset=".6413" stop-color="#ffb900"/><stop offset=".6438" stop-color="#ff7000"/><stop offset=".6454" stop-color="#ff6800"/><stop offset=".6471" stop-color="#ff9a00"/><stop offset=".6495" stop-color="#ffed00"/><stop offset=".6503" stop-color="#faff00"/><stop offset=".6536" stop-color="#adff00"/><stop offset=".6577" stop-color="#68ff00"/><stop offset=".6642" stop-color="#1bff00"/><stop offset=".6675" stop-color="#00ff03"/><stop offset=".6773" stop-color="#00ff4a"/><stop offset=".6912" stop-color="#00ff92"/><stop offset=".7116" stop-color="#0fd"/><stop offset=".7247" stop-color="#00fcff"/><stop offset=".7565" stop-color="#00b5ff"/><stop offset=".7998" stop-color="#0071ff"/><stop offset=".8529" stop-color="#0038ff"/><stop offset=".9183" stop-color="#0010ff"/><stop offset=".9877" stop-color="#00f"/><stop offset="1" stop-color="#00f"/></linearGradient>
<linearGradient id="a60" x1="0" y1="0" x2="0" y2="1"><stop offset="0" stop-color="#0021ff"/><stop offset=".2149" stop-color="#003aff"/><stop offset=".3529" stop-color="#005eff"/><stop offset=".4444" stop-color="#008bff"/><stop offset=".5049" stop-color="#00bfff"/><stop offset=".5458" stop-color="#00f5ff"/><stop offset=".5539" stop-color="#00fffa"/><stop offset=".5809" stop-color="#00ffbe"/><stop offset=".6005" stop-color="#00ff7d"/><stop offset=".6144" stop-color="#00ff39"/><stop offset=".6225" stop-color="#0f0"/><stop offset=".6291" stop-color="#3eff00"/><stop offset=".634" stop-color="#80ff00"/><stop offset=".6381" stop-color="#ceff00"/><stop offset=".6397" stop-color="#f8ff00"/><stop offset=".6405" stop-color="#fe0"/><stop offset=".6438" stop-color="#ff8100"/><stop offset=".6454" stop-color="#ff6100"/><stop offset=".6462" stop-color="#ff6c00"/><stop offset=".6511" stop-color="#fffe00"/><stop offset=".6552" stop-color="#a3ff00"/><stop offset=".6601" stop-color="#5f0"/><stop offset=".6667" stop-color="#0dff00"/><stop offset=".6683" stop-color="#00ff02"/><stop offset=".6781" stop-color="#00ff49"/><stop offset=".692" stop-color="#00ff92"/><stop offset=".7132" stop-color="#00ffe0"/><stop offset=".7255" stop-color="#00fbff"/><stop offset=".7606" stop-color="#00aeff"/><stop offset=".8064" stop-color="#0069ff"/><stop offset=".8595" stop-color="#03f"/><stop offset=".9208" stop-color="#000fff"/><stop offset=".9902" stop-color="#00f"/><stop offset="1" stop-color="#00f"/></linearGradient>
<linearGradient id="a61" x1="0" y1="0" x2="0" y2="1"><stop offset="0" stop-color="#0020ff"/><stop offset=".2239" stop-color="#003bff"/><stop offset=".3587" stop-color="#005fff"/><stop offset=".4461" stop-color="#008bff"/><stop offset=".5049" stop-color="#00bdff"/><stop offset=".5466" stop-color="#00f4ff"/><stop offset=".5547" stop-color="#00fffc"/><stop offset=".5833" stop-color="#0fb"/><stop offset=".6029" stop-color="#00ff78"/><stop offset=".616" stop-color="#00ff36"/><stop offset=".6234" stop-color="#00ff03"/><stop offset=".6283" stop-color="#2aff00"/><stop offset=".634" stop-color="#70ff00"/><stop offset=".6381" stop-color="#b8ff00"/><stop offset=".6405" stop-color="#f3ff00"/><stop offset=".6413" stop-color="#fff300"/><stop offset=".6446" stop-color="#ff8b00"/><stop offset=".6462" stop-color="#ff7300"/><stop offset=".6479" stop-color="#ff9200"/><stop offset=".652" stop-color="#fff400"/><stop offset=".6528" stop-color="#f5ff00"/><stop offset=".6569" stop-color="#9aff00"/><stop offset=".6609" stop-color="#59ff00"/><stop offset=".6675" stop-color="#0fff00"/><stop offset=".6691" stop-color="#0f0"/><stop offset=".6789" stop-color="#00ff48"/><stop offset=".692" stop-color="#00ff8e"/><stop offset=".7124" stop-color="#00ffdb"/><stop offset=".7255" stop-color="#00fdff"/><stop offset=".759" stop-color="#00b2ff"/><stop offset=".8031" stop-color="#006eff"/><stop offset=".8546" stop-color="#0037ff"/><stop offset=".9183" stop-color="#0010ff"/><stop offset=".9877" stop-color="#00f"/><stop offset="1" stop-color="#00f"/></linearGradient>
<linearGradient id="a62" x1="0" y1="0" x2="0" y2="1"><stop offset="0" stop-color="#0020ff"/><stop offset=".2222" stop-color="#003aff"/><stop offset=".3587" stop-color="#005eff"/><stop offset=".4469" stop-color="#008aff"/><stop offset=".5082" stop-color="#00beff"/><stop offset=".5507" stop-color="#00f8ff"/><stop offset=".5588" stop-color="#00fff7"/><stop offset=".5858" stop-color="#00ffb8"/><stop offset=".6046" stop-color="#00ff76"/><stop offset=".6168" stop-color="#00ff38"/><stop offset=".625" stop-color="#02ff00"/><stop offset=".6315" stop-color="#42ff00"/><stop offset=".6364" stop-color="#86ff00"/><stop offset=".6397" stop-color="#c6ff00"/><stop offset=".6413" stop-color="#ef0"/><stop offset=".6422" stop-color="#fff800"/><stop offset=".6454" stop-color="#ff9600"/><stop offset=".6462" stop-color="#ff8400"/><stop offset=".6471" stop-color="#ff8400"/><stop offset=".6511" stop-color="#ffc800"/><stop offset=".6536" stop-color="#feff00"/><stop offset=".6569" stop-color="#afff00"/><stop offset=".6609" stop-color="#68ff00"/><stop offset=".6667" stop-color="#21ff00"/><stop offset=".6699" stop-color="#02ff00"/><stop offset=".6814" stop-color="#00ff52"/><stop offset=".6961" stop-color="#00ff9c"/><stop offset=".7173" stop-color="#00ffe8"/><stop offset=".7263" stop-color="#00fdff"/><stop offset=".7574" stop-color="#00b6ff"/><stop offset=".8023" stop-color="#006fff"/><stop offset=".8538" stop-color="#0038ff"/><stop offset=".9158" stop-color="#01f"/><stop offset=".982" stop-color="#0001ff"/><stop offset="1" stop-color="#00f"/></linearGradient>
<linearGradient id="a63" x1="0" y1="0" x2="0" y2="1"><stop offset="0" stop-color="#0020ff"/><stop offset=".2206" stop-color="#0039ff"/><stop offset=".3587" stop-color="#005dff"/><stop offset=".4461" stop-color="#08f"/><stop offset=".5082" stop-color="#00bcff"/><stop offset=".5498" stop-color="#00f4ff"/><stop offset=".5588" stop-color="#00fffa"/><stop offset=".5858" stop-color="#00ffbc"/><stop offset=".6046" stop-color="#00ff7c"/><stop offset=".6185" stop-color="#00ff36"/><stop offset=".6258" stop-color="#00ff01"/><stop offset=".6315" stop-color="#35ff00"/><stop offset=".6364" stop-color="#75ff00"/><stop offset=".6405" stop-color="#c1ff00"/><stop offset=".643" stop-color="#ff0"/><stop offset=".6454" stop-color="#ffb500"/><stop offset=".6471" stop-color="#ff9300"/><stop offset=".6487" stop-color="#ff9a00"/><stop offset=".652" stop-color="#ffbf00"/><stop offset=".6528" stop-color="#fc0"/><stop offset=".6544" stop-color="#fff800"/><stop offset=".656" stop-color="#daff00"/><stop offset=".6593" stop-color="#94ff00"/><stop offset=".6642" stop-color="#49ff00"/><stop offset=".6708" stop-color="#03ff00"/><stop offset=".683" stop-color="#00ff56"/><stop offset=".6969" stop-color="#00ff9c"/><stop offset=".7181" stop-color="#00ffe8"/><stop offset=".7271" stop-color="#00fcff"/><stop offset=".7606" stop-color="#00b1ff"/><stop offset=".8064" stop-color="#006aff"/><stop offset=".8611" stop-color="#0032ff"/><stop offset=".9232" stop-color="#000eff"/><stop offset=".9926" stop-color="#00f"/><stop offset="1" stop-color="#00f"/></linearGradient>
<linearGradient id="a64" x1="0" y1="0" x2="0" y2="1"><stop offset="0" stop-color="#001fff"/><stop offset=".2239" stop-color="#0039ff"/><stop offset=".3587" stop-color="#005cff"/><stop offset=".4469" stop-color="#0087ff"/><stop offset=".5082" stop-color="#00baff"/><stop offset=".549" stop-color="#00f0ff"/><stop offset=".5605" stop-color="#00fffa"/><stop offset=".5882" stop-color="#00ffb9"/><stop offset=".607" stop-color="#0f7"/><stop offset=".6201" stop-color="#0f3"/><stop offset=".6275" stop-color="#03ff00"/><stop offset=".634" stop-color="#45ff00"/><stop offset=".6389" stop-color="#8bff00"/><stop offset=".6422" stop-color="#ceff00"/><stop offset=".6438" stop-color="#f9ff00"/><stop offset=".6454" stop-color="#ffd600"/><stop offset=".6471" stop-color="#ffae00"/><stop offset=".6479" stop-color="#ffa100"/><stop offset=".6511" stop-color="#ffa600"/><stop offset=".6528" stop-color="#ffb100"/><stop offset=".6544" stop-color="#ffd900"/><stop offset=".6552" stop-color="#fff100"/><stop offset=".656" stop-color="#f6ff00"/><stop offset=".6593" stop-color="#a7ff00"/><stop offset=".6642" stop-color="#56ff00"/><stop offset=".6708" stop-color="#0cff00"/><stop offset=".6724" stop-color="#00ff03"/><stop offset=".6822" stop-color="#00ff4c"/><stop offset=".6961" stop-color="#00ff95"/><stop offset=".7181" stop-color="#00ffe6"/><stop offset=".7279" stop-color="#00fcff"/><stop offset=".759" stop-color="#00b5ff"/><stop offset=".8023" stop-color="#0070ff"/><stop offset=".8529" stop-color="#0039ff"/><stop offset=".9118" stop-color="#0013ff"/><stop offset=".9779" stop-color="#0001ff"/><stop offset="1" stop-color="#00f"/></linearGradient>
<linearGradient id="a65" x1="0" y1="0" x2="0" y2="1"><stop offset="0" stop-color="#001fff"/><stop offset=".2222" stop-color="#0038ff"/><stop offset=".3619" stop-color="#005cff"/><stop offset=".4526" stop-color="#0089ff"/><stop offset=".5114" stop-color="#00bcff"/><stop offset=".5507" stop-color="#00f0ff"/><stop offset=".5621" stop-color="#00fffa"/><stop offset=".5891" stop-color="#0fb"/><stop offset=".6078" stop-color="#00ff79"/><stop offset=".6209" stop-color="#00ff35"/><stop offset=".6283" stop-color="#0f0"/><stop offset=".6348" stop-color="#41ff00"/><stop offset=".6397" stop-color="#86ff00"/><stop offset=".643" stop-color="#c8ff00"/><stop offset=".6446" stop-color="#f1ff00"/><stop offset=".6454" stop-color="#fff600"/><stop offset=".6479" stop-color="#ffb600"/><stop offset=".6511" stop-color="#ffa000"/><stop offset=".6528" stop-color="#ff9f00"/><stop offset=".6536" stop-color="#ffa500"/><stop offset=".6569" stop-color="#fbff00"/><stop offset=".6593" stop-color="#bcff00"/><stop offset=".6634" stop-color="#70ff00"/><stop offset=".6691" stop-color="#26ff00"/><stop offset=".6732" stop-color="#00ff02"/><stop offset=".6822" stop-color="#00ff46"/><stop offset=".6953" stop-color="#00ff8d"/><stop offset=".7141" stop-color="#00ffd7"/><stop offset=".7279" stop-color="#00feff"/><stop offset=".759" stop-color="#00b6ff"/><stop offset=".8031" stop-color="#006fff"/><stop offset=".8554" stop-color="#0037ff"/><stop offset=".9208" stop-color="#000fff"/><stop offset=".9902" stop-color="#00f"/><stop offset="1" stop-color="#00f"/></linearGradient>
<linearGradient id="a66" x1="0" y1="0" x2="0" y2="1"><stop offset="0" stop-color="#001eff"/><stop offset=".232" stop-color="#0039ff"/><stop offset=".3676" stop-color="#005dff"/><stop offset=".4542" stop-color="#0089ff"/><stop offset=".5139" stop-color="#00bcff"/><stop offset=".5547" stop-color="#00f4ff"/><stop offset=".5629" stop-color="#00fffb"/><stop offset=".5891" stop-color="#00ffbf"/><stop offset=".6078" stop-color="#00ff7e"/><stop offset=".6209" stop-color="#00ff3d"/><stop offset=".6299" stop-color="#03ff00"/><stop offset=".6364" stop-color="#46ff00"/><stop offset=".6413" stop-color="#8fff00"/><stop offset=".6446" stop-color="#d4ff00"/><stop offset=".6462" stop-color="#ff0"/><stop offset=".6487" stop-color="#ffc200"/><stop offset=".6528" stop-color="#ff9200"/><stop offset=".6544" stop-color="#ff9a00"/><stop offset=".6577" stop-color="#ff0"/><stop offset=".6609" stop-color="#aeff00"/><stop offset=".665" stop-color="#6f0"/><stop offset=".6708" stop-color="#1eff00"/><stop offset=".674" stop-color="#00ff01"/><stop offset=".6838" stop-color="#00ff4b"/><stop offset=".6977" stop-color="#00ff95"/><stop offset=".7173" stop-color="#00ffdf"/><stop offset=".7288" stop-color="#00fdff"/><stop offset=".7614" stop-color="#00b2ff"/><stop offset=".8039" stop-color="#006fff"/><stop offset=".8521" stop-color="#003aff"/><stop offset=".9118" stop-color="#0013ff"/><stop offset=".9788" stop-color="#0001ff"/><stop offset="1" stop-color="#00f"/></linearGradient>
<linearGradient id="a67" x1="0" y1="0" x2="0" y2="1"><stop offset="0" stop-color="#001eff"/><stop offset=".2247" stop-color="#0037ff"/><stop offset=".3619" stop-color="#005aff"/><stop offset=".4526" stop-color="#0086ff"/><stop offset=".5147" stop-color="#0bf"/><stop offset=".5564" stop-color="#00f4ff"/><stop offset=".5645" stop-color="#00fffb"/><stop offset=".5915" stop-color="#00ffbc"/><stop offset=".6103" stop-color="#00ff7a"/><stop offset=".6234" stop-color="#00ff36"/><stop offset=".6307" stop-color="#0f0"/><stop offset=".6373" stop-color="#42ff00"/><stop offset=".6422" stop-color="#89ff00"/><stop offset=".6454" stop-color="#cf0"/><stop offset=".6471" stop-color="#f5ff00"/><stop offset=".6479" stop-color="#fff400"/><stop offset=".6503" stop-color="#ffbc00"/><stop offset=".6528" stop-color="#ff8e00"/><stop offset=".6544" stop-color="#ff8000"/><stop offset=".6552" stop-color="#ff9000"/><stop offset=".6585" stop-color="#fffb00"/><stop offset=".6618" stop-color="#b0ff00"/><stop offset=".6658" stop-color="#67ff00"/><stop offset=".6716" stop-color="#1fff00"/><stop offset=".6748" stop-color="#00ff01"/><stop offset=".6846" stop-color="#00ff4b"/><stop offset=".6985" stop-color="#00ff95"/><stop offset=".7198" stop-color="#00ffe5"/><stop offset=".7296" stop-color="#00fdff"/><stop offset=".759" stop-color="#00b8ff"/><stop offset=".8023" stop-color="#0071ff"/><stop offset=".8546" stop-color="#0038ff"/><stop offset=".9158" stop-color="#01f"/><stop offset=".982" stop-color="#0001ff"/><stop offset="1" stop-color="#00f"/></linearGradient>
<linearGradient id="a68" x1="0" y1="0" x2="0" y2="1"><stop offset="0" stop-color="#001eff"/><stop offset=".2222" stop-color="#0036ff"/><stop offset=".3619" stop-color="#0059ff"/><stop offset=".4518" stop-color="#0084ff"/><stop offset=".5139" stop-color="#00b8ff"/><stop offset=".5564" stop-color="#00f1ff"/><stop offset=".5662" stop-color="#00fffb"/><stop offset=".5923" stop-color="#00ffbe"/><stop offset=".6119" stop-color="#00ff79"/><stop offset=".625" stop-color="#00ff34"/><stop offset=".6324" stop-color="#03ff00"/><stop offset=".6389" stop-color="#47ff00"/><stop offset=".643" stop-color="#82ff00"/><stop offset=".6471" stop-color="#d6ff00"/><stop offset=".6487" stop-color="#fffe00"/><stop offset=".6536" stop-color="#ff8000"/><stop offset=".6544" stop-color="#ff7600"/><stop offset=".6552" stop-color="#ff7400"/><stop offset=".656" stop-color="#ff8700"/><stop offset=".6593" stop-color="#fff700"/><stop offset=".6601" stop-color="#efff00"/><stop offset=".6634" stop-color="#a2ff00"/><stop offset=".6675" stop-color="#5dff00"/><stop offset=".6732" stop-color="#18ff00"/><stop offset=".6757" stop-color="#0f0"/><stop offset=".6846" stop-color="#00ff46"/><stop offset=".6985" stop-color="#00ff92"/><stop offset=".7173" stop-color="#00ffdb"/><stop offset=".7304" stop-color="#00fcff"/><stop offset=".7614" stop-color="#00b4ff"/><stop offset=".8056" stop-color="#006dff"/><stop offset=".857" stop-color="#0036ff"/><stop offset=".9208" stop-color="#000fff"/><stop offset=".991" stop-color="#00f"/><stop offset="1" stop-color="#00f"/></linearGradient>
<linearGradient id="a69" x1="0" y1="0" x2="0" y2="1"><stop offset="0" stop-color="#001dff"/><stop offset=".232" stop-color="#0037ff"/><stop offset=".3676" stop-color="#005aff"/><stop offset=".4559" stop-color="#0085ff"/><stop offset=".5155" stop-color="#00b8ff"/><stop offset=".5564" stop-color="#0ef"/><stop offset=".5678" stop-color="#00fffb"/><stop offset=".5948" stop-color="#0fb"/><stop offset=".6127" stop-color="#00ff7b"/><stop offset=".6258" stop-color="#00ff37"/><stop offset=".6332" stop-color="#00ff01"/><stop offset=".6397" stop-color="#42ff00"/><stop offset=".6446" stop-color="#89ff00"/><stop offset=".6479" stop-color="#cf0"/><stop offset=".6495" stop-color="#f6ff00"/><stop offset=".6503" stop-color="#fff100"/><stop offset=".6544" stop-color="#ff7000"/><stop offset=".6552" stop-color="#ff6700"/><stop offset=".656" stop-color="#ff6800"/><stop offset=".6577" stop-color="#ff9e00"/><stop offset=".6601" stop-color="#fff400"/><stop offset=".6609" stop-color="#f1ff00"/><stop offset=".6642" stop-color="#a4ff00"/><stop offset=".6683" stop-color="#5eff00"/><stop offset=".674" stop-color="#18ff00"/><stop offset=".6765" stop-color="#0f0"/><stop offset=".6863" stop-color="#00ff4b"/><stop offset=".7002" stop-color="#00ff96"/><stop offset=".7214" stop-color="#00ffe6"/><stop offset=".7312" stop-color="#00fcff"/><stop offset=".7614" stop-color="#00b5ff"/><stop offset=".8039" stop-color="#0070ff"/><stop offset=".8538" stop-color="#0039ff"/><stop offset=".9142" stop-color="#0012ff"/><stop offset=".9796" stop-color="#0001ff"/><stop offset="1" stop-color="#00f"/></linearGradient>
<linearGradient id="a70" x1="0" y1="0" x2="0" y2="1"><stop offset="0" stop-color="#001dff"/><stop offset=".2296" stop-color="#0036ff"/><stop offset=".3676" stop-color="#0059ff"/><stop offset=".4559" stop-color="#0084ff"/><stop offset=".5155" stop-color="#00b6ff"/><stop offset=".5572" stop-color="#00edff"/><stop offset=".5694" stop-color="#00fffb"/><stop offset=".5964" stop-color="#00ffba"/><stop offset=".6144" stop-color="#00ff79"/><stop offset=".6266" stop-color="#00ff39"/><stop offset=".634" stop-color="#00ff03"/><stop offset=".6389" stop-color="#2cff00"/><stop offset=".6446" stop-color="#78ff00"/><stop offset=".6479" stop-color="#b5ff00"/><stop offset=".6503" stop-color="#f2ff00"/><stop offset=".6511" stop-color="#fff300"/><stop offset=".6544" stop-color="#ff7f00"/><stop offset=".6552" stop-color="#ff6b00"/><stop offset=".656" stop-color="#ff5f00"/><stop offset=".6569" stop-color="#ff6c00"/><stop offset=".6609" stop-color="#fff300"/><stop offset=".6618" stop-color="#f3ff00"/><stop offset=".665" stop-color="#a4ff00"/><stop offset=".6699" stop-color="#53ff00"/><stop offset=".6765" stop-color="#08ff00"/><stop offset=".6773" stop-color="#0f0"/><stop offset=".6863" stop-color="#00ff46"/><stop offset=".7002" stop-color="#00ff93"/><stop offset=".719" stop-color="#00ffdc"/><stop offset=".7312" stop-color="#00fdff"/><stop offset=".7623" stop-color="#00b4ff"/><stop offset=".8056" stop-color="#006eff"/><stop offset=".8562" stop-color="#0037ff"/><stop offset=".9183" stop-color="#0010ff"/><stop offset=".9886" stop-color="#00f"/><stop offset="1" stop-color="#00f"/></linearGradient>
<linearGradient id="a71" x1="0" y1="0" x2="0" y2="1"><stop offset="0" stop-color="#001dff"/><stop offset=".2263" stop-color="#0035ff"/><stop offset=".3668" stop-color="#0058ff"/><stop offset=".4575" stop-color="#0084ff"/><stop offset=".518" stop-color="#00b7ff"/><stop offset=".5588" stop-color="#0ef"/><stop offset=".5703" stop-color="#00fffb"/><stop offset=".5964" stop-color="#00ffbd"/><stop offset=".616" stop-color="#00ff76"/><stop offset=".6291" stop-color="#00ff2e"/><stop offset=".6356" stop-color="#04ff00"/><stop offset=".6422" stop-color="#4aff00"/><stop offset=".6471" stop-color="#95ff00"/><stop offset=".6503" stop-color="#deff00"/><stop offset=".6511" stop-color="#f5ff00"/><stop offset=".652" stop-color="#fff000"/><stop offset=".6552" stop-color="#ff8100"/><stop offset=".656" stop-color="#ff7300"/><stop offset=".6569" stop-color="#ff6d00"/><stop offset=".6585" stop-color="#ff9100"/><stop offset=".6618" stop-color="#fff400"/><stop offset=".6626" stop-color="#f2ff00"/><stop offset=".6658" stop-color="#a4ff00"/><stop offset=".6699" stop-color="#5eff00"/><stop offset=".6757" stop-color="#17ff00"/><stop offset=".6781" stop-color="#00ff01"/><stop offset=".6879" stop-color="#00ff4c"/><stop offset=".701" stop-color="#00ff93"/><stop offset=".719" stop-color="#00ffda"/><stop offset=".732" stop-color="#00fcff"/><stop offset=".7647" stop-color="#00b0ff"/><stop offset=".808" stop-color="#006bff"/><stop offset=".8587" stop-color="#0035ff"/><stop offset=".9208" stop-color="#000fff"/><stop offset=".991" stop-color="#00f"/><stop offset="1" stop-color="#00f"/></linearGradient>
<linearGradient id="a72" x1="0" y1="0" x2="0" y2="1"><stop offset="0" stop-color="#001cff"/><stop offset=".2353" stop-color="#0036ff"/><stop offset=".3717" stop-color="#0059ff"/><stop offset=".4592" stop-color="#0084ff"/><stop offset=".5204" stop-color="#00b8ff"/><stop offset=".5613" stop-color="#00f0ff"/><stop offset=".5711" stop-color="#00fffc"/><stop offset=".598" stop-color="#0fb"/><stop offset=".6168" stop-color="#00ff76"/><stop offset=".6291" stop-color="#00ff34"/><stop offset=".6364" stop-color="#04ff00"/><stop offset=".643" stop-color="#4aff00"/><stop offset=".6471" stop-color="#87ff00"/><stop offset=".6503" stop-color="#cbff00"/><stop offset=".652" stop-color="#f7ff00"/><stop offset=".6528" stop-color="#fe0"/><stop offset=".6552" stop-color="#ff9b00"/><stop offset=".6569" stop-color="#ff7500"/><stop offset=".6577" stop-color="#ff7a00"/><stop offset=".6593" stop-color="#ff9800"/><stop offset=".6618" stop-color="#ffdb00"/><stop offset=".6626" stop-color="#fff500"/><stop offset=".6634" stop-color="#f1ff00"/><stop offset=".6667" stop-color="#a3ff00"/><stop offset=".6708" stop-color="#5dff00"/><stop offset=".6765" stop-color="#16ff00"/><stop offset=".6789" stop-color="#00ff02"/><stop offset=".6879" stop-color="#00ff48"/><stop offset=".701" stop-color="#00ff91"/><stop offset=".7206" stop-color="#00ffde"/><stop offset=".7328" stop-color="#00fbff"/><stop offset=".7647" stop-color="#00b1ff"/><stop offset=".8064" stop-color="#006eff"/><stop offset=".8562" stop-color="#0037ff"/><stop offset=".9167" stop-color="#01f"/><stop offset=".982" stop-color="#0001ff"/><stop offset="1" stop-color="#00f"/></linearGradient>
<linearGradient id="a73" x1="0" y1="0" x2="0" y2="1"><stop offset="0" stop-color="#001cff"/><stop offset=".232" stop-color="#0035ff"/><stop offset=".3709" stop-color="#0058ff"/><stop offset=".4592" stop-color="#0083ff"/><stop offset=".5188" stop-color="#00b5ff"/><stop offset=".5588" stop-color="#00eaff"/><stop offset=".5719" stop-color="#00fffc"/><stop offset=".598" stop-color="#00ffbe"/><stop offset=".6176" stop-color="#0f7"/><stop offset=".6307" stop-color="#00ff2f"/><stop offset=".6373" stop-color="#04ff00"/><stop offset=".6438" stop-color="#4aff00"/><stop offset=".6479" stop-color="#8f0"/><stop offset=".6511" stop-color="#cf0"/><stop offset=".6528" stop-color="#f8ff00"/><stop offset=".6536" stop-color="#ffed00"/><stop offset=".656" stop-color="#ff9c00"/><stop offset=".6577" stop-color="#ff7f00"/><stop offset=".6593" stop-color="#ff8d00"/><stop offset=".6609" stop-color="#ffab00"/><stop offset=".6634" stop-color="#fff600"/><stop offset=".6642" stop-color="#f0ff00"/><stop offset=".6675" stop-color="#a1ff00"/><stop offset=".6716" stop-color="#5bff00"/><stop offset=".6773" stop-color="#15ff00"/><stop offset=".6797" stop-color="#00ff03"/><stop offset=".6887" stop-color="#00ff49"/><stop offset=".7018" stop-color="#00ff92"/><stop offset=".7214" stop-color="#00ffdf"/><stop offset=".7328" stop-color="#00fdff"/><stop offset=".7639" stop-color="#00b3ff"/><stop offset=".8064" stop-color="#006eff"/><stop offset=".8554" stop-color="#0038ff"/><stop offset=".9142" stop-color="#0012ff"/><stop offset=".9796" stop-color="#0001ff"/><stop offset="1" stop-color="#00f"/></linearGradient>
<linearGradient id="a74" x1="0" y1="0" x2="0" y2="1"><stop offset="0" stop-color="#001cff"/><stop offset=".2288" stop-color="#0034ff"/><stop offset=".3676" stop-color="#0056ff"/><stop offset=".4575" stop-color="#0081ff"/><stop offset=".5172" stop-color="#00b2ff"/><stop offset=".5588" stop-color="#00e8ff"/><stop offset=".5735" stop-color="#00fffb"/><stop offset=".598" stop-color="#00ffc1"/><stop offset=".616" stop-color="#00ff82"/><stop offset=".6291" stop-color="#00ff3f"/><stop offset=".6373" stop-color="#00ff03"/><stop offset=".6413" stop-color="#24ff00"/><stop offset=".6462" stop-color="#60ff00"/><stop offset=".6503" stop-color="#a8ff00"/><stop offset=".6536" stop-color="#f9ff00"/><stop offset=".6552" stop-color="#ffd100"/><stop offset=".6569" stop-color="#ff9f00"/><stop offset=".6577" stop-color="#ff8b00"/><stop offset=".6593" stop-color="#f80"/><stop offset=".6609" stop-color="#ff9b00"/><stop offset=".6618" stop-color="#ffab00"/><stop offset=".6642" stop-color="#fff800"/><stop offset=".6658" stop-color="#d8ff00"/><stop offset=".6691" stop-color="#90ff00"/><stop offset=".674" stop-color="#43ff00"/><stop offset=".6797" stop-color="#04ff00"/><stop offset=".6871" stop-color="#00ff39"/><stop offset=".6993" stop-color="#00ff83"/><stop offset=".7173" stop-color="#00ffcf"/><stop offset=".7328" stop-color="#00feff"/><stop offset=".7639" stop-color="#00b4ff"/><stop offset=".8072" stop-color="#006dff"/><stop offset=".8578" stop-color="#0036ff"/><stop offset=".9216" stop-color="#000fff"/><stop offset=".9902" stop-color="#00f"/><stop offset="1" stop-color="#00f"/></linearGradient>
<linearGradient id="a75" x1="0" y1="0" x2="0" y2="1"><stop offset="0" stop-color="#001cff"/><stop offset=".2255" stop-color="#03f"/><stop offset=".3701" stop-color="#0056ff"/><stop offset=".4608" stop-color="#0082ff"/><stop offset=".5196" stop-color="#00b3ff"/><stop offset=".5613" stop-color="#00eaff"/><stop offset=".5743" stop-color="#00fffc"/><stop offset=".6005" stop-color="#00ffbd"/><stop offset=".6193" stop-color="#00ff78"/><stop offset=".6324" stop-color="#00ff30"/><stop offset=".6389" stop-color="#03ff00"/><stop offset=".6454" stop-color="#4aff00"/><stop offset=".6495" stop-color="#8f0"/><stop offset=".6528" stop-color="#cdff00"/><stop offset=".6544" stop-color="#faff00"/><stop offset=".656" stop-color="#ffd100"/><stop offset=".6577" stop-color="#ffa200"/><stop offset=".6585" stop-color="#ff9100"/><stop offset=".6601" stop-color="#f80"/><stop offset=".6618" stop-color="#ff9500"/><stop offset=".665" stop-color="#fffb00"/><stop offset=".6691" stop-color="#9dff00"/><stop offset=".6732" stop-color="#58ff00"/><stop offset=".6789" stop-color="#12ff00"/><stop offset=".6806" stop-color="#02ff00"/><stop offset=".692" stop-color="#00ff56"/><stop offset=".7067" stop-color="#00ffa3"/><stop offset=".7288" stop-color="#00fff3"/><stop offset=".7345" stop-color="#00fbff"/><stop offset=".7647" stop-color="#00b3ff"/><stop offset=".8056" stop-color="#0070ff"/><stop offset=".8546" stop-color="#0039ff"/><stop offset=".9142" stop-color="#0012ff"/><stop offset=".9796" stop-color="#0001ff"/><stop offset="1" stop-color="#00f"/></linearGradient>
<linearGradient id="a76" x1="0" y1="0" x2="0" y2="1"><stop offset="0" stop-color="#001bff"/><stop offset=".2402" stop-color="#0035ff"/><stop offset=".3775" stop-color="#0058ff"/><stop offset=".4624" stop-color="#0082ff"/><stop offset=".5221" stop-color="#00b4ff"/><stop offset=".5637" stop-color="#00ecff"/><stop offset=".576" stop-color="#00fffb"/><stop offset=".6021" stop-color="#0fb"/><stop offset=".6193" stop-color="#00ff7c"/><stop offset=".6324" stop-color="#00ff36"/><stop offset=".6397" stop-color="#03ff00"/><stop offset=".6462" stop-color="#49ff00"/><stop offset=".6511" stop-color="#97ff00"/><stop offset=".6544" stop-color="#e3ff00"/><stop offset=".6552" stop-color="#faff00"/><stop offset=".6577" stop-color="#ffb900"/><stop offset=".6585" stop-color="#ffa100"/><stop offset=".6601" stop-color="#ff8900"/><stop offset=".6609" stop-color="#ff8400"/><stop offset=".6626" stop-color="#ff9300"/><stop offset=".6658" stop-color="#fffe00"/><stop offset=".6691" stop-color="#acff00"/><stop offset=".6732" stop-color="#62ff00"/><stop offset=".6789" stop-color="#1aff00"/><stop offset=".6814" stop-color="#01ff00"/><stop offset=".6904" stop-color="#00ff47"/><stop offset=".7026" stop-color="#00ff8d"/><stop offset=".7206" stop-color="#00ffd7"/><stop offset=".7345" stop-color="#00fcff"/><stop offset=".7655" stop-color="#00b2ff"/><stop offset=".8064" stop-color="#006fff"/><stop offset=".8578" stop-color="#0036ff"/><stop offset=".9216" stop-color="#000fff"/><stop offset=".9902" stop-color="#00f"/><stop offset="1" stop-color="#00f"/></linearGradient>
<linearGradient id="a77" x1="0" y1="0" x2="0" y2="1"><stop offset="0" stop-color="#001bff"/><stop offset=".2369" stop-color="#0034ff"/><stop offset=".3766" stop-color="#0057ff"/><stop offset=".4649" stop-color="#0082ff"/><stop offset=".5253" stop-color="#00b6ff"/><stop offset=".5654" stop-color="#00edff"/><stop offset=".5768" stop-color="#00fffc"/><stop offset=".6021" stop-color="#00ffbe"/><stop offset=".6209" stop-color="#00ff79"/><stop offset=".634" stop-color="#00ff31"/><stop offset=".6405" stop-color="#02ff00"/><stop offset=".6471" stop-color="#49ff00"/><stop offset=".6511" stop-color="#8f0"/><stop offset=".6544" stop-color="#cdff00"/><stop offset=".656" stop-color="#faff00"/><stop offset=".6577" stop-color="#ffd200"/><stop offset=".6593" stop-color="#ffa300"/><stop offset=".6609" stop-color="#ff8400"/><stop offset=".6626" stop-color="#ff7f00"/><stop offset=".6642" stop-color="#ffae00"/><stop offset=".6667" stop-color="#fdff00"/><stop offset=".6699" stop-color="#af0"/><stop offset=".674" stop-color="#60ff00"/><stop offset=".6797" stop-color="#18ff00"/><stop offset=".6822" stop-color="#00ff01"/><stop offset=".692" stop-color="#00ff4e"/><stop offset=".7067" stop-color="#00ff9e"/><stop offset=".7271" stop-color="#00ffeb"/><stop offset=".7353" stop-color="#00fbff"/><stop offset=".7663" stop-color="#00b1ff"/><stop offset=".8088" stop-color="#006cff"/><stop offset=".857" stop-color="#0037ff"/><stop offset=".9183" stop-color="#0010ff"/><stop offset=".9886" stop-color="#00f"/><stop offset="1" stop-color="#00f"/></linearGradient>
<linearGradient id="a78" x1="0" y1="0" x2="0" y2="1"><stop offset="0" stop-color="#001bff"/><stop offset=".2337" stop-color="#03f"/><stop offset=".3758" stop-color="#0056ff"/><stop offset=".4665" stop-color="#0082ff"/><stop offset=".5245" stop-color="#00b4ff"/><stop offset=".5637" stop-color="#00e8ff"/><stop offset=".5784" stop-color="#00fffb"/><stop offset=".6046" stop-color="#00ffba"/><stop offset=".6225" stop-color="#00ff76"/><stop offset=".634" stop-color="#00ff37"/><stop offset=".6413" stop-color="#02ff00"/><stop offset=".6479" stop-color="#48ff00"/><stop offset=".6528" stop-color="#96ff00"/><stop offset=".656" stop-color="#e2ff00"/><stop offset=".6569" stop-color="#f9ff00"/><stop offset=".6577" stop-color="#ffed00"/><stop offset=".6601" stop-color="#ffa000"/><stop offset=".6618" stop-color="#ff7b00"/><stop offset=".6626" stop-color="#f70"/><stop offset=".6634" stop-color="#ff7c00"/><stop offset=".665" stop-color="#ffb200"/><stop offset=".6667" stop-color="#ffeb00"/><stop offset=".6675" stop-color="#f9ff00"/><stop offset=".6699" stop-color="#b9ff00"/><stop offset=".6732" stop-color="#78ff00"/><stop offset=".6781" stop-color="#32ff00"/><stop offset=".683" stop-color="#00ff02"/><stop offset=".692" stop-color="#00ff4a"/><stop offset=".7051" stop-color="#00ff93"/><stop offset=".7222" stop-color="#00ffd9"/><stop offset=".7353" stop-color="#00fcff"/><stop offset=".7663" stop-color="#00b2ff"/><stop offset=".8056" stop-color="#0071ff"/><stop offset=".8538" stop-color="#003aff"/><stop offset=".9134" stop-color="#0012ff"/><stop offset=".9804" stop-color="#0001ff"/><stop offset="1" stop-color="#00f"/></linearGradient>
<linearGradient id="a79" x1="0" y1="0" x2="0" y2="1"><stop offset="0" stop-color="#001bff"/><stop offset=".2312" stop-color="#0032ff"/><stop offset=".375" stop-color="#05f"/><stop offset=".4632" stop-color="#007fff"/><stop offset=".5245" stop-color="#00b2ff"/><stop offset=".5662" stop-color="#00eaff"/><stop offset=".5792" stop-color="#00fffb"/><stop offset=".6046" stop-color="#00ffbd"/><stop offset=".6217" stop-color="#00ff7e"/><stop offset=".634" stop-color="#00ff3d"/><stop offset=".6422" stop-color="#01ff00"/><stop offset=".6487" stop-color="#48ff00"/><stop offset=".6528" stop-color="#86ff00"/><stop offset=".656" stop-color="#cbff00"/><stop offset=".6577" stop-color="#f7ff00"/><stop offset=".6585" stop-color="#ffed00"/><stop offset=".6618" stop-color="#ff8100"/><stop offset=".6626" stop-color="#ff7100"/><stop offset=".6634" stop-color="#ff6a00"/><stop offset=".6642" stop-color="#ff7b00"/><stop offset=".6675" stop-color="#ffef00"/><stop offset=".6683" stop-color="#f5ff00"/><stop offset=".6716" stop-color="#a4ff00"/><stop offset=".6757" stop-color="#5cff00"/><stop offset=".6814" stop-color="#15ff00"/><stop offset=".6838" stop-color="#00ff04"/><stop offset=".6928" stop-color="#00ff4b"/><stop offset=".7059" stop-color="#00ff95"/><stop offset=".7239" stop-color="#0fd"/><stop offset=".7353" stop-color="#00feff"/><stop offset=".7647" stop-color="#00b6ff"/><stop offset=".8047" stop-color="#0072ff"/><stop offset=".8538" stop-color="#003aff"/><stop offset=".9142" stop-color="#0012ff"/><stop offset=".9796" stop-color="#0001ff"/><stop offset="1" stop-color="#00f"/></linearGradient>
<linearGradient id="a80" x1="0" y1="0" x2="0" y2="1"><stop offset="0" stop-color="#001aff"/><stop offset=".2402" stop-color="#03f"/><stop offset=".3775" stop-color="#05f"/><stop offset=".4649" stop-color="#007fff"/><stop offset=".5261" stop-color="#00b2ff"/><stop offset=".5686" stop-color="#00ecff"/><stop offset=".5809" stop-color="#00fffb"/><stop offset=".607" stop-color="#00ffb9"/><stop offset=".6242" stop-color="#00ff78"/><stop offset=".6364" stop-color="#0f3"/><stop offset=".643" stop-color="#0f0"/><stop offset=".6487" stop-color="#3cff00"/><stop offset=".6528" stop-color="#7f0"/><stop offset=".656" stop-color="#b6ff00"/><stop offset=".6585" stop-color="#f6ff00"/><stop offset=".6593" stop-color="#fe0"/><stop offset=".6618" stop-color="#ff9600"/><stop offset=".6626" stop-color="#ff7e00"/><stop offset=".6634" stop-color="#ff7100"/><stop offset=".6642" stop-color="#ff6f00"/><stop offset=".6658" stop-color="#ff9c00"/><stop offset=".6683" stop-color="#ffed00"/><stop offset=".6691" stop-color="#f7ff00"/><stop offset=".6716" stop-color="#b7ff00"/><stop offset=".6748" stop-color="#76ff00"/><stop offset=".6797" stop-color="#30ff00"/><stop offset=".6838" stop-color="#03ff00"/><stop offset=".6944" stop-color="#00ff51"/><stop offset=".7075" stop-color="#0f9"/><stop offset=".7255" stop-color="#00ffe0"/><stop offset=".7361" stop-color="#00fdff"/><stop offset=".7655" stop-color="#00b5ff"/><stop offset=".8072" stop-color="#006fff"/><stop offset=".8562" stop-color="#0038ff"/><stop offset=".9167" stop-color="#01f"/><stop offset=".982" stop-color="#0001ff"/><stop offset="1" stop-color="#00f"/></linearGradient>
<linearGradient id="a81" x1="0" y1="0" x2="0" y2="1"><stop offset="0" stop-color="#001aff"/><stop offset=".2369" stop-color="#0032ff"/><stop offset=".3775" stop-color="#0054ff"/><stop offset=".469" stop-color="#0080ff"/><stop offset=".5294" stop-color="#00b4ff"/><stop offset=".5694" stop-color="#00ebff"/><stop offset=".5817" stop-color="#00fffc"/><stop offset=".6078" stop-color="#00ffba"/><stop offset=".625" stop-color="#00ff79"/><stop offset=".6364" stop-color="#00ff3a"/><stop offset=".6438" stop-color="#00ff01"/><stop offset=".6495" stop-color="#3bff00"/><stop offset=".6544" stop-color="#83ff00"/><stop offset=".6577" stop-color="#c8ff00"/><stop offset=".6593" stop-color="#f5ff00"/><stop offset=".6601" stop-color="#fff000"/><stop offset=".6626" stop-color="#ff9a00"/><stop offset=".6642" stop-color="#ff7400"/><stop offset=".665" stop-color="#ff7b00"/><stop offset=".6675" stop-color="#ffb500"/><stop offset=".6699" stop-color="#feff00"/><stop offset=".6724" stop-color="#bf0"/><stop offset=".6757" stop-color="#78ff00"/><stop offset=".6806" stop-color="#31ff00"/><stop offset=".6846" stop-color="#04ff00"/><stop offset=".692" stop-color="#00ff3a"/><stop offset=".7034" stop-color="#00ff81"/><stop offset=".7198" stop-color="#00ffc9"/><stop offset=".7361" stop-color="#00feff"/><stop offset=".768" stop-color="#00b1ff"/><stop offset=".8096" stop-color="#006cff"/><stop offset=".8587" stop-color="#0036ff"/><stop offset=".9191" stop-color="#0010ff"/><stop offset=".9877" stop-color="#00f"/><stop offset="1" stop-color="#00f"/></linearGradient>
<linearGradient id="a82" x1="0" y1="0" x2="0" y2="1"><stop offset="0" stop-color="#001aff"/><stop offset=".2345" stop-color="#0031ff"/><stop offset=".3799" stop-color="#0054ff"/><stop offset=".4706" stop-color="#0080ff"/><stop offset=".5302" stop-color="#00b3ff"/><stop offset=".5703" stop-color="#00eaff"/><stop offset=".5833" stop-color="#00fffb"/><stop offset=".6087" stop-color="#0fb"/><stop offset=".6258" stop-color="#00ff7a"/><stop offset=".6381" stop-color="#00ff36"/><stop offset=".6446" stop-color="#00ff03"/><stop offset=".6487" stop-color="#26ff00"/><stop offset=".6536" stop-color="#6f0"/><stop offset=".6569" stop-color="#a1ff00"/><stop offset=".6593" stop-color="#dbff00"/><stop offset=".6601" stop-color="#f3ff00"/><stop offset=".6609" stop-color="#fff200"/><stop offset=".6634" stop-color="#ff9f00"/><stop offset=".665" stop-color="#ff7f00"/><stop offset=".6667" stop-color="#ff8f00"/><stop offset=".6683" stop-color="#ffae00"/><stop offset=".6699" stop-color="#ffdf00"/><stop offset=".6708" stop-color="#fffa00"/><stop offset=".6732" stop-color="#beff00"/><stop offset=".6765" stop-color="#7aff00"/><stop offset=".6814" stop-color="#32ff00"/><stop offset=".6855" stop-color="#04ff00"/><stop offset=".6928" stop-color="#00ff3a"/><stop offset=".7034" stop-color="#00ff7d"/><stop offset=".7198" stop-color="#00ffc7"/><stop offset=".7369" stop-color="#00feff"/><stop offset=".768" stop-color="#00b2ff"/><stop offset=".808" stop-color="#006fff"/><stop offset=".8554" stop-color="#0039ff"/><stop offset=".9126" stop-color="#0013ff"/><stop offset=".9788" stop-color="#0001ff"/><stop offset="1" stop-color="#00f"/></linearGradient>
<linearGradient id="a83" x1="0" y1="0" x2="0" y2="1"><stop offset="0" stop-color="#0019ff"/><stop offset=".2435" stop-color="#0032ff"/><stop offset=".3824" stop-color="#0054ff"/><stop offset=".4706" stop-color="#007fff"/><stop offset=".5278" stop-color="#00afff"/><stop offset=".5686" stop-color="#00e5ff"/><stop offset=".5842" stop-color="#00fffc"/><stop offset=".6095" stop-color="#00ffbc"/><stop offset=".6266" stop-color="#00ff7b"/><stop offset=".6381" stop-color="#00ff3d"/><stop offset=".6462" stop-color="#03ff00"/><stop offset=".652" stop-color="#42ff00"/><stop offset=".656" stop-color="#7fff00"/><stop offset=".6593" stop-color="#c4ff00"/><stop offset=".6609" stop-color="#f0ff00"/><stop offset=".6618" stop-color="#fff400"/><stop offset=".6642" stop-color="#ffa400"/><stop offset=".6658" stop-color="#ff8700"/><stop offset=".6675" stop-color="#ff8e00"/><stop offset=".6691" stop-color="#ffa300"/><stop offset=".6716" stop-color="#fff600"/><stop offset=".6724" stop-color="#ef0"/><stop offset=".6757" stop-color="#9bff00"/><stop offset=".6797" stop-color="#54ff00"/><stop offset=".6855" stop-color="#0dff00"/><stop offset=".6871" stop-color="#00ff03"/><stop offset=".6953" stop-color="#00ff46"/><stop offset=".7075" stop-color="#00ff8e"/><stop offset=".7247" stop-color="#00ffd7"/><stop offset=".7377" stop-color="#00fdff"/><stop offset=".768" stop-color="#00b3ff"/><stop offset=".808" stop-color="#006fff"/><stop offset=".8578" stop-color="#0037ff"/><stop offset=".9167" stop-color="#01f"/><stop offset=".982" stop-color="#0001ff"/><stop offset="1" stop-color="#00f"/></linearGradient>
<linearGradient id="a84" x1="0" y1="0" x2="0" y2="1"><stop offset="0" stop-color="#0019ff"/><stop offset=".241" stop-color="#0031ff"/><stop offset=".3815" stop-color="#0053ff"/><stop offset=".4698" stop-color="#007dff"/><stop offset=".5286" stop-color="#00aeff"/><stop offset=".5694" stop-color="#00e4ff"/><stop offset=".5858" stop-color="#00fffb"/><stop offset=".6111" stop-color="#0fb"/><stop offset=".6291" stop-color="#00ff75"/><stop offset=".6405" stop-color="#0f3"/><stop offset=".6471" stop-color="#01ff00"/><stop offset=".6536" stop-color="#4aff00"/><stop offset=".6577" stop-color="#8cff00"/><stop offset=".6609" stop-color="#d7ff00"/><stop offset=".6618" stop-color="#ef0"/><stop offset=".6626" stop-color="#fff700"/><stop offset=".665" stop-color="#fa0"/><stop offset=".6658" stop-color="#ff9400"/><stop offset=".6675" stop-color="#f80"/><stop offset=".6691" stop-color="#ff8c00"/><stop offset=".6699" stop-color="#f90"/><stop offset=".6724" stop-color="#fff200"/><stop offset=".6732" stop-color="#f1ff00"/><stop offset=".6757" stop-color="#afff00"/><stop offset=".6789" stop-color="#6eff00"/><stop offset=".6838" stop-color="#29ff00"/><stop offset=".6879" stop-color="#00ff03"/><stop offset=".6961" stop-color="#00ff47"/><stop offset=".7092" stop-color="#00ff93"/><stop offset=".7279" stop-color="#00ffe0"/><stop offset=".7386" stop-color="#00fcff"/><stop offset=".7688" stop-color="#00b2ff"/><stop offset=".808" stop-color="#0070ff"/><stop offset=".8546" stop-color="#003aff"/><stop offset=".9126" stop-color="#0013ff"/><stop offset=".9788" stop-color="#0001ff"/><stop offset="1" stop-color="#00f"/></linearGradient>
<linearGradient id="a85" x1="0" y1="0" x2="0" y2="1"><stop offset="0" stop-color="#0019ff"/><stop offset=".2377" stop-color="#0030ff"/><stop offset=".3783" stop-color="#0051ff"/><stop offset=".469" stop-color="#007bff"/><stop offset=".5302" stop-color="#00aeff"/><stop offset=".5703" stop-color="#00e3ff"/><stop offset=".5874" stop-color="#00fffb"/><stop offset=".6119" stop-color="#00ffbc"/><stop offset=".6291" stop-color="#00ff7a"/><stop offset=".6413" stop-color="#00ff35"/><stop offset=".6479" stop-color="#0f0"/><stop offset=".6536" stop-color="#3eff00"/><stop offset=".6577" stop-color="#7bff00"/><stop offset=".6609" stop-color="#bfff00"/><stop offset=".6634" stop-color="#fffb00"/><stop offset=".6658" stop-color="#ffaf00"/><stop offset=".6667" stop-color="#f90"/><stop offset=".6691" stop-color="#ff7d00"/><stop offset=".6699" stop-color="#ff8100"/><stop offset=".6708" stop-color="#ff9100"/><stop offset=".6732" stop-color="#fff000"/><stop offset=".674" stop-color="#f3ff00"/><stop offset=".6765" stop-color="#b0ff00"/><stop offset=".6806" stop-color="#61ff00"/><stop offset=".6863" stop-color="#16ff00"/><stop offset=".6887" stop-color="#00ff03"/><stop offset=".6969" stop-color="#00ff47"/><stop offset=".71" stop-color="#00ff94"/><stop offset=".7279" stop-color="#00ffde"/><stop offset=".7394" stop-color="#00fcff"/><stop offset=".7688" stop-color="#00b3ff"/><stop offset=".8088" stop-color="#006fff"/><stop offset=".857" stop-color="#0038ff"/><stop offset=".915" stop-color="#0012ff"/><stop offset=".9796" stop-color="#0001ff"/><stop offset="1" stop-color="#00f"/></linearGradient>
<linearGradient id="a86" x1="0" y1="0" x2="0" y2="1"><stop offset="0" stop-color="#0019ff"/><stop offset=".2353" stop-color="#002fff"/><stop offset=".3807" stop-color="#0051ff"/><stop offset=".4673" stop-color="#0079ff"/><stop offset=".5261" stop-color="#00a8ff"/><stop offset=".5686" stop-color="#00deff"/><stop offset=".5882" stop-color="#00fffc"/><stop offset=".6127" stop-color="#00ffbd"/><stop offset=".6291" stop-color="#00ff7f"/><stop offset=".6405" stop-color="#00ff41"/><stop offset=".6487" stop-color="#00ff02"/><stop offset=".6536" stop-color="#31ff00"/><stop offset=".6585" stop-color="#78ff00"/><stop offset=".6618" stop-color="#bcff00"/><stop offset=".6642" stop-color="#fffe00"/><stop offset=".6675" stop-color="#ff9b00"/><stop offset=".6691" stop-color="#ff7a00"/><stop offset=".6699" stop-color="#ff7000"/><stop offset=".6708" stop-color="#ff7100"/><stop offset=".6716" stop-color="#ff8a00"/><stop offset=".674" stop-color="#fe0"/><stop offset=".6748" stop-color="#f4ff00"/><stop offset=".6773" stop-color="#b1ff00"/><stop offset=".6806" stop-color="#6fff00"/><stop offset=".6855" stop-color="#29ff00"/><stop offset=".6887" stop-color="#04ff00"/><stop offset=".6961" stop-color="#00ff3b"/><stop offset=".7067" stop-color="#00ff7f"/><stop offset=".7222" stop-color="#00ffc6"/><stop offset=".7394" stop-color="#00fdff"/><stop offset=".7712" stop-color="#00afff"/><stop offset=".8113" stop-color="#006cff"/><stop offset=".8595" stop-color="#0036ff"/><stop offset=".9191" stop-color="#0010ff"/><stop offset=".9886" stop-color="#00f"/><stop offset="1" stop-color="#00f"/></linearGradient>
<linearGradient id="a87" x1="0" y1="0" x2="0" y2="1"><stop offset="0" stop-color="#0018ff"/><stop offset=".2451" stop-color="#0030ff"/><stop offset=".3864" stop-color="#0052ff"/><stop offset=".4755" stop-color="#007dff"/><stop offset=".5327" stop-color="#00adff"/><stop offset=".5727" stop-color="#00e2ff"/><stop offset=".5891" stop-color="#00fffd"/><stop offset=".6127" stop-color="#00ffc1"/><stop offset=".6307" stop-color="#00ff7d"/><stop offset=".6422" stop-color="#00ff3e"/><stop offset=".6503" stop-color="#03ff00"/><stop offset=".656" stop-color="#4f0"/><stop offset=".6601" stop-color="#84ff00"/><stop offset=".6634" stop-color="#cdff00"/><stop offset=".665" stop-color="#fbff00"/><stop offset=".6667" stop-color="#ffce00"/><stop offset=".6691" stop-color="#ff8300"/><stop offset=".6699" stop-color="#ff6d00"/><stop offset=".6708" stop-color="#ff6200"/><stop offset=".6716" stop-color="#ff6700"/><stop offset=".6732" stop-color="#fa0"/><stop offset=".6748" stop-color="#ffed00"/><stop offset=".6757" stop-color="#f5ff00"/><stop offset=".6781" stop-color="#b1ff00"/><stop offset=".6822" stop-color="#62ff00"/><stop offset=".6879" stop-color="#16ff00"/><stop offset=".6904" stop-color="#00ff04"/><stop offset=".6993" stop-color="#00ff4e"/><stop offset=".7124" stop-color="#0f9"/><stop offset=".732" stop-color="#00ffe8"/><stop offset=".7402" stop-color="#00fdff"/><stop offset=".7696" stop-color="#00b3ff"/><stop offset=".8088" stop-color="#0070ff"/><stop offset=".8562" stop-color="#0039ff"/><stop offset=".915" stop-color="#0012ff"/><stop offset=".9804" stop-color="#0001ff"/><stop offset="1" stop-color="#00f"/></linearGradient>
<linearGradient id="a88" x1="0" y1="0" x2="0" y2="1"><stop offset="0" stop-color="#0018ff"/><stop offset=".2418" stop-color="#002fff"/><stop offset=".3832" stop-color="#0050ff"/><stop offset=".4698" stop-color="#0078ff"/><stop offset=".5286" stop-color="#00a7ff"/><stop offset=".5711" stop-color="#0df"/><stop offset=".5915" stop-color="#00fffb"/><stop offset=".616" stop-color="#0fb"/><stop offset=".6332" stop-color="#0f7"/><stop offset=".6446" stop-color="#00ff34"/><stop offset=".6511" stop-color="#01ff00"/><stop offset=".6569" stop-color="#41ff00"/><stop offset=".6609" stop-color="#81ff00"/><stop offset=".6642" stop-color="#c8ff00"/><stop offset=".6658" stop-color="#f7ff00"/><stop offset=".6667" stop-color="#ffed00"/><stop offset=".6708" stop-color="#ff5d00"/><stop offset=".6716" stop-color="#ff4d00"/><stop offset=".6724" stop-color="#ff5f00"/><stop offset=".6757" stop-color="#ffec00"/><stop offset=".6765" stop-color="#f6ff00"/><stop offset=".6789" stop-color="#b2ff00"/><stop offset=".6822" stop-color="#70ff00"/><stop offset=".6871" stop-color="#29ff00"/><stop offset=".6904" stop-color="#04ff00"/><stop offset=".6977" stop-color="#00ff3c"/><stop offset=".7092" stop-color="#00ff85"/><stop offset=".7255" stop-color="#00ffce"/><stop offset=".7402" stop-color="#00feff"/><stop offset=".7696" stop-color="#00b4ff"/><stop offset=".8088" stop-color="#0070ff"/><stop offset=".8587" stop-color="#0037ff"/><stop offset=".9175" stop-color="#01f"/><stop offset=".9828" stop-color="#0001ff"/><stop offset="1" stop-color="#00f"/></linearGradient>
<linearGradient id="a89" x1="0" y1="0" x2="0" y2="1"><stop offset="0" stop-color="#0018ff"/><stop offset=".2386" stop-color="#002eff"/><stop offset=".3832" stop-color="#004fff"/><stop offset=".4739" stop-color="#0079ff"/><stop offset=".5343" stop-color="#00abff"/><stop offset=".5743" stop-color="#00e0ff"/><stop offset=".5923" stop-color="#00fffc"/><stop offset=".6168" stop-color="#00ffbc"/><stop offset=".634" stop-color="#00ff79"/><stop offset=".6454" stop-color="#00ff36"/><stop offset=".652" stop-color="#00ff01"/><stop offset=".6577" stop-color="#3eff00"/><stop offset=".6618" stop-color="#7dff00"/><stop offset=".665" stop-color="#c4ff00"/><stop offset=".6667" stop-color="#f3ff00"/><stop offset=".6675" stop-color="#fff000"/><stop offset=".6699" stop-color="#ff8d00"/><stop offset=".6708" stop-color="#ff6800"/><stop offset=".6716" stop-color="#ff4b00"/><stop offset=".6724" stop-color="#ff4000"/><stop offset=".6732" stop-color="#ff5900"/><stop offset=".6757" stop-color="#fc0"/><stop offset=".6765" stop-color="#ffec00"/><stop offset=".6773" stop-color="#f6ff00"/><stop offset=".6797" stop-color="#b2ff00"/><stop offset=".683" stop-color="#70ff00"/><stop offset=".6879" stop-color="#28ff00"/><stop offset=".6912" stop-color="#04ff00"/><stop offset=".6985" stop-color="#00ff3d"/><stop offset=".7108" stop-color="#00ff8a"/><stop offset=".7279" stop-color="#00ffd5"/><stop offset=".741" stop-color="#00fdff"/><stop offset=".7696" stop-color="#00b5ff"/><stop offset=".8072" stop-color="#0073ff"/><stop offset=".8554" stop-color="#003aff"/><stop offset=".9109" stop-color="#0014ff"/><stop offset=".9763" stop-color="#0001ff"/><stop offset="1" stop-color="#00f"/></linearGradient>
<linearGradient id="a90" x1="0" y1="0" x2="0" y2="1"><stop offset="0" stop-color="#0017ff"/><stop offset=".2484" stop-color="#002fff"/><stop offset=".3881" stop-color="#0050ff"/><stop offset=".4755" stop-color="#0079ff"/><stop offset=".5351" stop-color="#0af"/><stop offset=".5752" stop-color="#00dfff"/><stop offset=".5931" stop-color="#00fffd"/><stop offset=".6168" stop-color="#00ffc0"/><stop offset=".634" stop-color="#00ff7e"/><stop offset=".6462" stop-color="#00ff38"/><stop offset=".6528" stop-color="#00ff03"/><stop offset=".6569" stop-color="#28ff00"/><stop offset=".6618" stop-color="#6dff00"/><stop offset=".665" stop-color="#adff00"/><stop offset=".6675" stop-color="#f0ff00"/><stop offset=".6683" stop-color="#fff200"/><stop offset=".6699" stop-color="#ffae00"/><stop offset=".6716" stop-color="#ff6100"/><stop offset=".6724" stop-color="#ff4800"/><stop offset=".6732" stop-color="#f40"/><stop offset=".674" stop-color="#ff6000"/><stop offset=".6765" stop-color="#ffcb00"/><stop offset=".6773" stop-color="#ffea00"/><stop offset=".6781" stop-color="#f8ff00"/><stop offset=".6806" stop-color="#b3ff00"/><stop offset=".6846" stop-color="#62ff00"/><stop offset=".6895" stop-color="#1eff00"/><stop offset=".692" stop-color="#03ff00"/><stop offset=".7026" stop-color="#0f5"/><stop offset=".7157" stop-color="#00ff9f"/><stop offset=".7353" stop-color="#00ffed"/><stop offset=".7418" stop-color="#00fdff"/><stop offset=".7696" stop-color="#00b6ff"/><stop offset=".808" stop-color="#0072ff"/><stop offset=".8546" stop-color="#003bff"/><stop offset=".9109" stop-color="#0014ff"/><stop offset=".9763" stop-color="#0001ff"/><stop offset="1" stop-color="#00f"/></linearGradient>
<linearGradient id="a91" x1="0" y1="0" x2="0" y2="1"><stop offset="0" stop-color="#0017ff"/><stop offset=".2516" stop-color="#002fff"/><stop offset=".3905" stop-color="#0050ff"/><stop offset=".4771" stop-color="#0079ff"/><stop offset=".5368" stop-color="#0af"/><stop offset=".5776" stop-color="#00e1ff"/><stop offset=".5948" stop-color="#00fffc"/><stop offset=".6185" stop-color="#00ffbe"/><stop offset=".6356" stop-color="#00ff7b"/><stop offset=".6479" stop-color="#0f3"/><stop offset=".6544" stop-color="#04ff00"/><stop offset=".6601" stop-color="#46ff00"/><stop offset=".6642" stop-color="#89ff00"/><stop offset=".6667" stop-color="#c0ff00"/><stop offset=".6683" stop-color="#f0ff00"/><stop offset=".6691" stop-color="#fff200"/><stop offset=".6708" stop-color="#ffaf00"/><stop offset=".6724" stop-color="#f60"/><stop offset=".6732" stop-color="#ff4d00"/><stop offset=".674" stop-color="#ff5600"/><stop offset=".6773" stop-color="#ffc800"/><stop offset=".6789" stop-color="#fbff00"/><stop offset=".6814" stop-color="#b5ff00"/><stop offset=".6846" stop-color="#71ff00"/><stop offset=".6895" stop-color="#28ff00"/><stop offset=".6928" stop-color="#03ff00"/><stop offset=".7042" stop-color="#00ff5b"/><stop offset=".7173" stop-color="#00ffa3"/><stop offset=".7353" stop-color="#00ffeb"/><stop offset=".7426" stop-color="#00fcff"/><stop offset=".7729" stop-color="#00b0ff"/><stop offset=".8113" stop-color="#006eff"/><stop offset=".8578" stop-color="#0038ff"/><stop offset=".915" stop-color="#0012ff"/><stop offset=".9804" stop-color="#0001ff"/><stop offset="1" stop-color="#00f"/></linearGradient>
<linearGradient id="a92" x1="0" y1="0" x2="0" y2="1"><stop offset="0" stop-color="#0017ff"/><stop offset=".2484" stop-color="#002eff"/><stop offset=".3905" stop-color="#004fff"/><stop offset=".4796" stop-color="#0079ff"/><stop offset=".5392" stop-color="#00abff"/><stop offset=".5801" stop-color="#00e3ff"/><stop offset=".5964" stop-color="#00fffb"/><stop offset=".6193" stop-color="#00ffbf"/><stop offset=".6364" stop-color="#00ff7c"/><stop offset=".6487" stop-color="#00ff34"/><stop offset=".6552" stop-color="#03ff00"/><stop offset=".6609" stop-color="#45ff00"/><stop offset=".665" stop-color="#8f0"/><stop offset=".6675" stop-color="#bfff00"/><stop offset=".6691" stop-color="#efff00"/><stop offset=".6699" stop-color="#fff300"/><stop offset=".6716" stop-color="#ffb000"/><stop offset=".6732" stop-color="#ff6c00"/><stop offset=".674" stop-color="#ff5a00"/><stop offset=".6748" stop-color="#ff6400"/><stop offset=".6773" stop-color="#ffa600"/><stop offset=".6797" stop-color="#fdff00"/><stop offset=".6822" stop-color="#b6ff00"/><stop offset=".6855" stop-color="#71ff00"/><stop offset=".6912" stop-color="#1eff00"/><stop offset=".6936" stop-color="#03ff00"/><stop offset=".7042" stop-color="#00ff56"/><stop offset=".7173" stop-color="#00ffa0"/><stop offset=".7353" stop-color="#00ffe9"/><stop offset=".7435" stop-color="#00fbff"/><stop offset=".7737" stop-color="#00afff"/><stop offset=".8129" stop-color="#006cff"/><stop offset=".8603" stop-color="#0036ff"/><stop offset=".9175" stop-color="#01f"/><stop offset=".9828" stop-color="#0001ff"/><stop offset="1" stop-color="#00f"/></linearGradient>
<linearGradient id="a93" x1="0" y1="0" x2="0" y2="1"><stop offset="0" stop-color="#0017ff"/><stop offset=".2451" stop-color="#002dff"/><stop offset=".3864" stop-color="#004dff"/><stop offset=".4763" stop-color="#0076ff"/><stop offset=".5368" stop-color="#00a7ff"/><stop offset=".5792" stop-color="#00dfff"/><stop offset=".5972" stop-color="#00fffc"/><stop offset=".6201" stop-color="#00ffc0"/><stop offset=".6373" stop-color="#00ff7d"/><stop offset=".6487" stop-color="#00ff3b"/><stop offset=".656" stop-color="#02ff00"/><stop offset=".6609" stop-color="#39ff00"/><stop offset=".665" stop-color="#7f0"/><stop offset=".6683" stop-color="#beff00"/><stop offset=".6699" stop-color="#edff00"/><stop offset=".6708" stop-color="#fff500"/><stop offset=".6732" stop-color="#ff8f00"/><stop offset=".674" stop-color="#ff7400"/><stop offset=".6748" stop-color="#ff6700"/><stop offset=".6765" stop-color="#ff7b00"/><stop offset=".6781" stop-color="#ffa200"/><stop offset=".6806" stop-color="#ff0"/><stop offset=".683" stop-color="#b7ff00"/><stop offset=".6863" stop-color="#71ff00"/><stop offset=".692" stop-color="#1eff00"/><stop offset=".6944" stop-color="#03ff00"/><stop offset=".7042" stop-color="#00ff51"/><stop offset=".7173" stop-color="#00ff9d"/><stop offset=".7353" stop-color="#00ffe7"/><stop offset=".7435" stop-color="#00fdff"/><stop offset=".7704" stop-color="#00b7ff"/><stop offset=".8072" stop-color="#0075ff"/><stop offset=".8529" stop-color="#003dff"/><stop offset=".9101" stop-color="#0014ff"/><stop offset=".9771" stop-color="#0001ff"/><stop offset="1" stop-color="#00f"/></linearGradient>
<linearGradient id="a94" x1="0" y1="0" x2="0" y2="1"><stop offset="0" stop-color="#0016ff"/><stop offset=".2549" stop-color="#002eff"/><stop offset=".3946" stop-color="#004fff"/><stop offset=".4812" stop-color="#0078ff"/><stop offset=".5392" stop-color="#00a8ff"/><stop offset=".5792" stop-color="#0df"/><stop offset=".598" stop-color="#00fffd"/><stop offset=".6209" stop-color="#00ffc1"/><stop offset=".6381" stop-color="#00ff7e"/><stop offset=".6495" stop-color="#00ff3c"/><stop offset=".6569" stop-color="#0f0"/><stop offset=".6626" stop-color="#42ff00"/><stop offset=".6667" stop-color="#85ff00"/><stop offset=".6699" stop-color="#d2ff00"/><stop offset=".6708" stop-color="#ebff00"/><stop offset=".6716" stop-color="#fff700"/><stop offset=".674" stop-color="#ff9400"/><stop offset=".6748" stop-color="#ff7800"/><stop offset=".6757" stop-color="#ff7000"/><stop offset=".6773" stop-color="#ff7900"/><stop offset=".6781" stop-color="#ff8400"/><stop offset=".6797" stop-color="#ffbf00"/><stop offset=".6814" stop-color="#fffe00"/><stop offset=".6838" stop-color="#b7ff00"/><stop offset=".6871" stop-color="#71ff00"/><stop offset=".692" stop-color="#28ff00"/><stop offset=".6953" stop-color="#02ff00"/><stop offset=".7051" stop-color="#00ff51"/><stop offset=".7173" stop-color="#0f9"/><stop offset=".7345" stop-color="#00ffe2"/><stop offset=".7443" stop-color="#00fcff"/><stop offset=".7712" stop-color="#00b6ff"/><stop offset=".8088" stop-color="#0073ff"/><stop offset=".8562" stop-color="#003aff"/><stop offset=".9126" stop-color="#0013ff"/><stop offset=".9788" stop-color="#0001ff"/><stop offset="1" stop-color="#00f"/></linearGradient>
<linearGradient id="a95" x1="0" y1="0" x2="0" y2="1"><stop offset="0" stop-color="#0016ff"/><stop offset=".2516" stop-color="#002dff"/><stop offset=".3913" stop-color="#004dff"/><stop offset=".4804" stop-color="#0076ff"/><stop offset=".54" stop-color="#00a7ff"/><stop offset=".5801" stop-color="#00dcff"/><stop offset=".6005" stop-color="#00fffb"/><stop offset=".6234" stop-color="#00ffbd"/><stop offset=".6397" stop-color="#00ff7b"/><stop offset=".6511" stop-color="#00ff38"/><stop offset=".6577" stop-color="#00ff01"/><stop offset=".6626" stop-color="#36ff00"/><stop offset=".6667" stop-color="#74ff00"/><stop offset=".6699" stop-color="#baff00"/><stop offset=".6716" stop-color="#e9ff00"/><stop offset=".6724" stop-color="#fff900"/><stop offset=".6748" stop-color="#ff9a00"/><stop offset=".6757" stop-color="#ff8100"/><stop offset=".6773" stop-color="#ff7200"/><stop offset=".6781" stop-color="#ff7400"/><stop offset=".6789" stop-color="#ff7e00"/><stop offset=".6822" stop-color="#fffe00"/><stop offset=".6846" stop-color="#b7ff00"/><stop offset=".6879" stop-color="#71ff00"/><stop offset=".6928" stop-color="#27ff00"/><stop offset=".6961" stop-color="#02ff00"/><stop offset=".7059" stop-color="#00ff52"/><stop offset=".7181" stop-color="#00ff9a"/><stop offset=".7345" stop-color="#00ffdf"/><stop offset=".7443" stop-color="#00feff"/><stop offset=".7712" stop-color="#00b7ff"/><stop offset=".8088" stop-color="#0073ff"/><stop offset=".8587" stop-color="#0038ff"/><stop offset=".915" stop-color="#0012ff"/><stop offset=".9804" stop-color="#0001ff"/><stop offset="1" stop-color="#00f"/></linearGradient>
<linearGradient id="a96" x1="0" y1="0" x2="0" y2="1"><stop offset="0" stop-color="#0016ff"/><stop offset=".2549" stop-color="#002dff"/><stop offset=".3971" stop-color="#004eff"/><stop offset=".4853" stop-color="#0078ff"/><stop offset=".5425" stop-color="#00a8ff"/><stop offset=".5809" stop-color="#00dbff"/><stop offset=".6013" stop-color="#00fffc"/><stop offset=".6242" stop-color="#00ffbe"/><stop offset=".6405" stop-color="#00ff7c"/><stop offset=".652" stop-color="#00ff39"/><stop offset=".6585" stop-color="#00ff03"/><stop offset=".6626" stop-color="#2aff00"/><stop offset=".6667" stop-color="#64ff00"/><stop offset=".6699" stop-color="#a4ff00"/><stop offset=".6724" stop-color="#e6ff00"/><stop offset=".6732" stop-color="#fffd00"/><stop offset=".6757" stop-color="#ffa000"/><stop offset=".6765" stop-color="#ff8700"/><stop offset=".6781" stop-color="#ff6d00"/><stop offset=".6789" stop-color="#ff6d00"/><stop offset=".6797" stop-color="#ff7900"/><stop offset=".683" stop-color="#fffe00"/><stop offset=".6855" stop-color="#b7ff00"/><stop offset=".6887" stop-color="#71ff00"/><stop offset=".6928" stop-color="#31ff00"/><stop offset=".6969" stop-color="#01ff00"/><stop offset=".7067" stop-color="#00ff53"/><stop offset=".719" stop-color="#00ff9b"/><stop offset=".7361" stop-color="#00ffe3"/><stop offset=".7451" stop-color="#00fdff"/><stop offset=".7721" stop-color="#00b7ff"/><stop offset=".808" stop-color="#0075ff"/><stop offset=".8554" stop-color="#003bff"/><stop offset=".9109" stop-color="#0014ff"/><stop offset=".9763" stop-color="#0001ff"/><stop offset="1" stop-color="#00f"/></linearGradient>
<linearGradient id="a97" x1="0" y1="0" x2="0" y2="1"><stop offset="0" stop-color="#0016ff"/><stop offset=".2443" stop-color="#002bff"/><stop offset=".3905" stop-color="#004bff"/><stop offset=".4812" stop-color="#0074ff"/><stop offset=".5433" stop-color="#00a7ff"/><stop offset=".5842" stop-color="#00deff"/><stop offset=".6029" stop-color="#00fffb"/><stop offset=".6258" stop-color="#00ffbc"/><stop offset=".6422" stop-color="#00ff7a"/><stop offset=".6536" stop-color="#00ff34"/><stop offset=".6601" stop-color="#04ff00"/><stop offset=".6658" stop-color="#48ff00"/><stop offset=".6699" stop-color="#8fff00"/><stop offset=".6724" stop-color="#caff00"/><stop offset=".674" stop-color="#feff00"/><stop offset=".6773" stop-color="#ff8a00"/><stop offset=".6789" stop-color="#ff6500"/><stop offset=".6797" stop-color="#ff5f00"/><stop offset=".6806" stop-color="#ff7500"/><stop offset=".683" stop-color="#ffe000"/><stop offset=".6838" stop-color="#ff0"/><stop offset=".6863" stop-color="#b6ff00"/><stop offset=".6895" stop-color="#70ff00"/><stop offset=".6944" stop-color="#26ff00"/><stop offset=".6977" stop-color="#0f0"/><stop offset=".7067" stop-color="#00ff4e"/><stop offset=".7198" stop-color="#00ff9c"/><stop offset=".7377" stop-color="#00ffe7"/><stop offset=".7459" stop-color="#00fcff"/><stop offset=".7753" stop-color="#00b0ff"/><stop offset=".8129" stop-color="#006eff"/><stop offset=".8578" stop-color="#0039ff"/><stop offset=".9134" stop-color="#0013ff"/><stop offset=".9788" stop-color="#0001ff"/><stop offset="1" stop-color="#00f"/></linearGradient>
<linearGradient id="a98" x1="0" y1="0" x2="0" y2="1"><stop offset="0" stop-color="#0015ff"/><stop offset=".2614" stop-color="#002dff"/><stop offset=".402" stop-color="#004eff"/><stop offset=".4894" stop-color="#0078ff"/><stop offset=".5466" stop-color="#00a9ff"/><stop offset=".5866" stop-color="#00e0ff"/><stop offset=".6038" stop-color="#00fffc"/><stop offset=".6258" stop-color="#00ffc0"/><stop offset=".6422" stop-color="#00ff7f"/><stop offset=".6536" stop-color="#00ff3c"/><stop offset=".6609" stop-color="#02ff00"/><stop offset=".6667" stop-color="#46ff00"/><stop offset=".6708" stop-color="#8cff00"/><stop offset=".6732" stop-color="#c7ff00"/><stop offset=".6748" stop-color="#f9ff00"/><stop offset=".6757" stop-color="#ffe800"/><stop offset=".6789" stop-color="#ff6d00"/><stop offset=".6797" stop-color="#ff5a00"/><stop offset=".6806" stop-color="#ff5700"/><stop offset=".6814" stop-color="#ff7300"/><stop offset=".6838" stop-color="#ffe100"/><stop offset=".6846" stop-color="#feff00"/><stop offset=".6871" stop-color="#b5ff00"/><stop offset=".6904" stop-color="#6fff00"/><stop offset=".6953" stop-color="#25ff00"/><stop offset=".6985" stop-color="#0f0"/><stop offset=".7059" stop-color="#00ff42"/><stop offset=".7173" stop-color="#00ff8c"/><stop offset=".7337" stop-color="#00ffd6"/><stop offset=".7459" stop-color="#00feff"/><stop offset=".7721" stop-color="#00b8ff"/><stop offset=".808" stop-color="#0076ff"/><stop offset=".8538" stop-color="#003dff"/><stop offset=".9093" stop-color="#0015ff"/><stop offset=".9714" stop-color="#0002ff"/><stop offset="1" stop-color="#00f"/></linearGradient>
<linearGradient id="a99" x1="0" y1="0" x2="0" y2="1"><stop offset="0" stop-color="#0015ff"/><stop offset=".2582" stop-color="#002cff"/><stop offset=".3979" stop-color="#004cff"/><stop offset=".4869" stop-color="#0075ff"/><stop offset=".5466" stop-color="#00a7ff"/><stop offset=".585" stop-color="#00dbff"/><stop offset=".6046" stop-color="#00fffd"/><stop offset=".6275" stop-color="#00ffbf"/><stop offset=".6438" stop-color="#00ff7c"/><stop offset=".6552" stop-color="#00ff38"/><stop offset=".6618" stop-color="#0f0"/><stop offset=".6675" stop-color="#4f0"/><stop offset=".6716" stop-color="#89ff00"/><stop offset=".6748" stop-color="#daff00"/><stop offset=".6757" stop-color="#f4ff00"/><stop offset=".6765" stop-color="#ffed00"/><stop offset=".6797" stop-color="#ff6300"/><stop offset=".6806" stop-color="#ff4f00"/><stop offset=".6814" stop-color="#ff5100"/><stop offset=".683" stop-color="#f90"/><stop offset=".6846" stop-color="#ffe200"/><stop offset=".6855" stop-color="#fdff00"/><stop offset=".6879" stop-color="#b4ff00"/><stop offset=".692" stop-color="#60ff00"/><stop offset=".6969" stop-color="#1bff00"/><stop offset=".6993" stop-color="#00ff01"/><stop offset=".7075" stop-color="#00ff49"/><stop offset=".719" stop-color="#00ff91"/><stop offset=".7353" stop-color="#00ffda"/><stop offset=".7467" stop-color="#00fdff"/><stop offset=".7721" stop-color="#00b9ff"/><stop offset=".8113" stop-color="#0071ff"/><stop offset=".8603" stop-color="#0037ff"/><stop offset=".9175" stop-color="#01f"/><stop offset=".9828" stop-color="#0001ff"/><stop offset="1" stop-color="#00f"/></linearGradient>
<linearGradient id="a100" x1="0" y1="0" x2="0" y2="1"><stop offset="0" stop-color="#0015ff"/><stop offset=".2541" stop-color="#002bff"/><stop offset=".3938" stop-color="#004aff"/><stop offset=".4837" stop-color="#0072ff"/><stop offset=".5441" stop-color="#00a3ff"/><stop offset=".585" stop-color="#00d9ff"/><stop offset=".6062" stop-color="#00fffc"/><stop offset=".6299" stop-color="#00ffba"/><stop offset=".6454" stop-color="#00ff79"/><stop offset=".6569" stop-color="#00ff32"/><stop offset=".6626" stop-color="#0f0"/><stop offset=".6683" stop-color="#4f0"/><stop offset=".6724" stop-color="#8aff00"/><stop offset=".6757" stop-color="#dbff00"/><stop offset=".6765" stop-color="#f6ff00"/><stop offset=".6773" stop-color="#ffea00"/><stop offset=".6789" stop-color="#ffa300"/><stop offset=".6806" stop-color="#ff5900"/><stop offset=".6814" stop-color="#ff4500"/><stop offset=".6822" stop-color="#ff5700"/><stop offset=".6855" stop-color="#ffe700"/><stop offset=".6863" stop-color="#f9ff00"/><stop offset=".6887" stop-color="#b1ff00"/><stop offset=".692" stop-color="#6cff00"/><stop offset=".6969" stop-color="#2f0"/><stop offset=".7002" stop-color="#00ff03"/><stop offset=".7083" stop-color="#00ff4b"/><stop offset=".7206" stop-color="#00ff97"/><stop offset=".7369" stop-color="#00ffde"/><stop offset=".7467" stop-color="#00feff"/><stop offset=".7729" stop-color="#00b8ff"/><stop offset=".8105" stop-color="#0073ff"/><stop offset=".857" stop-color="#003aff"/><stop offset=".9134" stop-color="#0013ff"/><stop offset=".9788" stop-color="#0001ff"/><stop offset="1" stop-color="#00f"/></linearGradient>
<linearGradient id="a101" x1="0" y1="0" x2="0" y2="1"><stop offset="0" stop-color="#0015ff"/><stop offset=".2557" stop-color="#002bff"/><stop offset=".3954" stop-color="#004aff"/><stop offset=".4845" stop-color="#0072ff"/><stop offset=".5449" stop-color="#00a3ff"/><stop offset=".5866" stop-color="#00daff"/><stop offset=".607" stop-color="#00fffc"/><stop offset=".6299" stop-color="#00ffbc"/><stop offset=".6454" stop-color="#00ff7c"/><stop offset=".656" stop-color="#00ff3c"/><stop offset=".6634" stop-color="#02ff00"/><stop offset=".6691" stop-color="#48ff00"/><stop offset=".6732" stop-color="#8fff00"/><stop offset=".6757" stop-color="#cbff00"/><stop offset=".6773" stop-color="#ff0"/><stop offset=".6789" stop-color="#ffbd00"/><stop offset=".6806" stop-color="#ff7000"/><stop offset=".6814" stop-color="#ff5700"/><stop offset=".6822" stop-color="#ff4f00"/><stop offset=".683" stop-color="#ff6500"/><stop offset=".6863" stop-color="#fff000"/><stop offset=".6871" stop-color="#f1ff00"/><stop offset=".6895" stop-color="#abff00"/><stop offset=".6928" stop-color="#67ff00"/><stop offset=".6977" stop-color="#1fff00"/><stop offset=".7002" stop-color="#03ff00"/><stop offset=".71" stop-color="#00ff53"/><stop offset=".7222" stop-color="#00ff9d"/><stop offset=".7402" stop-color="#00ffe9"/><stop offset=".7475" stop-color="#00fdff"/><stop offset=".7745" stop-color="#00b5ff"/><stop offset=".8113" stop-color="#0072ff"/><stop offset=".8562" stop-color="#003bff"/><stop offset=".9134" stop-color="#0013ff"/><stop offset=".9788" stop-color="#0001ff"/><stop offset="1" stop-color="#00f"/></linearGradient>
<linearGradient id="a102" x1="0" y1="0" x2="0" y2="1"><stop offset="0" stop-color="#0015ff"/><stop offset=".2516" stop-color="#002aff"/><stop offset=".3971" stop-color="#004aff"/><stop offset=".4861" stop-color="#0072ff"/><stop offset=".5482" stop-color="#00a5ff"/><stop offset=".5891" stop-color="#0df"/><stop offset=".6078" stop-color="#00fffc"/><stop offset=".6307" stop-color="#00ffbc"/><stop offset=".6454" stop-color="#00ff7f"/><stop offset=".656" stop-color="#00ff41"/><stop offset=".6634" stop-color="#00ff04"/><stop offset=".6658" stop-color="#16ff00"/><stop offset=".6708" stop-color="#57ff00"/><stop offset=".674" stop-color="#94ff00"/><stop offset=".6765" stop-color="#d2ff00"/><stop offset=".6773" stop-color="#ebff00"/><stop offset=".6781" stop-color="#fff600"/><stop offset=".6797" stop-color="#ffb100"/><stop offset=".6814" stop-color="#ff6900"/><stop offset=".6822" stop-color="#ff5200"/><stop offset=".683" stop-color="#ff5900"/><stop offset=".6838" stop-color="#ff7000"/><stop offset=".6855" stop-color="#ffb400"/><stop offset=".6871" stop-color="#fff800"/><stop offset=".6887" stop-color="#d0ff00"/><stop offset=".692" stop-color="#81ff00"/><stop offset=".6961" stop-color="#3cff00"/><stop offset=".701" stop-color="#00ff01"/><stop offset=".71" stop-color="#00ff50"/><stop offset=".723" stop-color="#00ff9f"/><stop offset=".741" stop-color="#00ffea"/><stop offset=".7475" stop-color="#00feff"/><stop offset=".7737" stop-color="#00b8ff"/><stop offset=".8088" stop-color="#0076ff"/><stop offset=".8538" stop-color="#003eff"/><stop offset=".9069" stop-color="#0016ff"/><stop offset=".9722" stop-color="#0002ff"/><stop offset="1" stop-color="#00f"/></linearGradient>
<linearGradient id="a103" x1="0" y1="0" x2="0" y2="1"><stop offset="0" stop-color="#0015ff"/><stop offset=".2533" stop-color="#002aff"/><stop offset=".3987" stop-color="#004aff"/><stop offset=".4869" stop-color="#0072ff"/><stop offset=".5449" stop-color="#00a1ff"/><stop offset=".5842" stop-color="#00d3ff"/><stop offset=".6087" stop-color="#00fffc"/><stop offset=".6315" stop-color="#00ffbc"/><stop offset=".6471" stop-color="#00ff7b"/><stop offset=".6585" stop-color="#00ff34"/><stop offset=".6642" stop-color="#00ff02"/><stop offset=".6691" stop-color="#37ff00"/><stop offset=".6732" stop-color="#7f0"/><stop offset=".6765" stop-color="#c1ff00"/><stop offset=".6781" stop-color="#f3ff00"/><stop offset=".6789" stop-color="#ffed00"/><stop offset=".6814" stop-color="#ff8100"/><stop offset=".6822" stop-color="#ff6400"/><stop offset=".683" stop-color="#ff5600"/><stop offset=".6838" stop-color="#ff6000"/><stop offset=".6846" stop-color="#ff7600"/><stop offset=".6871" stop-color="#ffe200"/><stop offset=".6879" stop-color="#fdff00"/><stop offset=".6904" stop-color="#b3ff00"/><stop offset=".6936" stop-color="#6cff00"/><stop offset=".6985" stop-color="#2f0"/><stop offset=".7018" stop-color="#00ff04"/><stop offset=".71" stop-color="#00ff4c"/><stop offset=".7214" stop-color="#00ff94"/><stop offset=".7386" stop-color="#00ffe0"/><stop offset=".7484" stop-color="#00fcff"/><stop offset=".777" stop-color="#00b1ff"/><stop offset=".8137" stop-color="#006fff"/><stop offset=".8595" stop-color="#0038ff"/><stop offset=".9158" stop-color="#0012ff"/><stop offset=".9796" stop-color="#0001ff"/><stop offset="1" stop-color="#00f"/></linearGradient>
<linearGradient id="a104" x1="0" y1="0" x2="0" y2="1"><stop offset="0" stop-color="#0014ff"/><stop offset=".2623" stop-color="#002bff"/><stop offset=".4036" stop-color="#004bff"/><stop offset=".4918" stop-color="#0074ff"/><stop offset=".549" stop-color="#00a4ff"/><stop offset=".5874" stop-color="#00d7ff"/><stop offset=".6095" stop-color="#00fffc"/><stop offset=".6315" stop-color="#00ffbe"/><stop offset=".6471" stop-color="#00ff7e"/><stop offset=".6585" stop-color="#00ff39"/><stop offset=".665" stop-color="#0f0"/><stop offset=".6708" stop-color="#45ff00"/><stop offset=".6748" stop-color="#8cff00"/><stop offset=".6773" stop-color="#c8ff00"/><stop offset=".6789" stop-color="#fcff00"/><stop offset=".6806" stop-color="#ffc000"/><stop offset=".6822" stop-color="#ff7800"/><stop offset=".683" stop-color="#ff5e00"/><stop offset=".6838" stop-color="#ff5900"/><stop offset=".6846" stop-color="#ff6400"/><stop offset=".6855" stop-color="#ff7e00"/><stop offset=".6879" stop-color="#ffec00"/><stop offset=".6887" stop-color="#f4ff00"/><stop offset=".6912" stop-color="#acff00"/><stop offset=".6944" stop-color="#67ff00"/><stop offset=".7002" stop-color="#14ff00"/><stop offset=".7018" stop-color="#02ff00"/><stop offset=".7116" stop-color="#0f5"/><stop offset=".7239" stop-color="#00ff9e"/><stop offset=".7402" stop-color="#00ffe4"/><stop offset=".7484" stop-color="#00feff"/><stop offset=".7745" stop-color="#00b7ff"/><stop offset=".8105" stop-color="#0074ff"/><stop offset=".8587" stop-color="#0039ff"/><stop offset=".915" stop-color="#0012ff"/><stop offset=".9804" stop-color="#0001ff"/><stop offset="1" stop-color="#00f"/></linearGradient>
<linearGradient id="a105" x1="0" y1="0" x2="0" y2="1"><stop offset="0" stop-color="#0014ff"/><stop offset=".2574" stop-color="#002aff"/><stop offset=".3987" stop-color="#0049ff"/><stop offset=".4861" stop-color="#0070ff"/><stop offset=".5466" stop-color="#00a0ff"/><stop offset=".5882" stop-color="#00d7ff"/><stop offset=".6103" stop-color="#00fffc"/><stop offset=".6332" stop-color="#0fb"/><stop offset=".6479" stop-color="#00ff7d"/><stop offset=".6577" stop-color="#00ff43"/><stop offset=".6658" stop-color="#02ff00"/><stop offset=".6716" stop-color="#48ff00"/><stop offset=".6748" stop-color="#80ff00"/><stop offset=".6773" stop-color="#b8ff00"/><stop offset=".6797" stop-color="#fffa00"/><stop offset=".683" stop-color="#ff7100"/><stop offset=".6838" stop-color="#ff5b00"/><stop offset=".6846" stop-color="#ff5800"/><stop offset=".6855" stop-color="#ff6500"/><stop offset=".6887" stop-color="#fff600"/><stop offset=".6895" stop-color="#ebff00"/><stop offset=".692" stop-color="#a5ff00"/><stop offset=".6953" stop-color="#62ff00"/><stop offset=".7002" stop-color="#1bff00"/><stop offset=".7026" stop-color="#00ff02"/><stop offset=".7108" stop-color="#00ff4b"/><stop offset=".723" stop-color="#00ff98"/><stop offset=".7402" stop-color="#00ffe3"/><stop offset=".7492" stop-color="#00fcff"/><stop offset=".777" stop-color="#00b2ff"/><stop offset=".8145" stop-color="#006eff"/><stop offset=".8619" stop-color="#0036ff"/><stop offset=".9199" stop-color="#0010ff"/><stop offset=".9877" stop-color="#00f"/><stop offset="1" stop-color="#00f"/></linearGradient>
<linearGradient id="a106" x1="0" y1="0" x2="0" y2="1"><stop offset="0" stop-color="#0014ff"/><stop offset=".2598" stop-color="#002aff"/><stop offset=".4003" stop-color="#0049ff"/><stop offset=".4894" stop-color="#0071ff"/><stop offset=".5515" stop-color="#00a4ff"/><stop offset=".5915" stop-color="#00dbff"/><stop offset=".6111" stop-color="#00fffc"/><stop offset=".634" stop-color="#0fb"/><stop offset=".6495" stop-color="#00ff79"/><stop offset=".6601" stop-color="#00ff36"/><stop offset=".6667" stop-color="#04ff00"/><stop offset=".6724" stop-color="#4bff00"/><stop offset=".6757" stop-color="#84ff00"/><stop offset=".6789" stop-color="#d5ff00"/><stop offset=".6797" stop-color="#f0ff00"/><stop offset=".6806" stop-color="#fff100"/><stop offset=".6838" stop-color="#ff6700"/><stop offset=".6846" stop-color="#ff5600"/><stop offset=".6855" stop-color="#ff5800"/><stop offset=".6863" stop-color="#ff6d00"/><stop offset=".6887" stop-color="#ffe000"/><stop offset=".6895" stop-color="#feff00"/><stop offset=".692" stop-color="#b3ff00"/><stop offset=".6953" stop-color="#6cff00"/><stop offset=".7002" stop-color="#21ff00"/><stop offset=".7026" stop-color="#04ff00"/><stop offset=".71" stop-color="#00ff41"/><stop offset=".7214" stop-color="#00ff8d"/><stop offset=".7377" stop-color="#00ffd8"/><stop offset=".7492" stop-color="#00fdff"/><stop offset=".7778" stop-color="#00b1ff"/><stop offset=".8154" stop-color="#006dff"/><stop offset=".8619" stop-color="#0036ff"/><stop offset=".9183" stop-color="#01f"/><stop offset=".9812" stop-color="#0001ff"/><stop offset="1" stop-color="#00f"/></linearGradient>
<linearGradient id="a107" x1="0" y1="0" x2="0" y2="1"><stop offset="0" stop-color="#0014ff"/><stop offset=".2549" stop-color="#0029ff"/><stop offset=".3995" stop-color="#0048ff"/><stop offset=".4902" stop-color="#0071ff"/><stop offset=".5482" stop-color="#00a0ff"/><stop offset=".5891" stop-color="#00d5ff"/><stop offset=".6119" stop-color="#00fffc"/><stop offset=".6332" stop-color="#00ffc0"/><stop offset=".6479" stop-color="#00ff84"/><stop offset=".6585" stop-color="#00ff47"/><stop offset=".6667" stop-color="#00ff03"/><stop offset=".6708" stop-color="#2bff00"/><stop offset=".6757" stop-color="#78ff00"/><stop offset=".6781" stop-color="#aeff00"/><stop offset=".6806" stop-color="#f7ff00"/><stop offset=".6814" stop-color="#ffe800"/><stop offset=".6846" stop-color="#ff5e00"/><stop offset=".6855" stop-color="#ff4f00"/><stop offset=".6863" stop-color="#ff5400"/><stop offset=".6879" stop-color="#ffa100"/><stop offset=".6895" stop-color="#ffeb00"/><stop offset=".6904" stop-color="#f4ff00"/><stop offset=".6928" stop-color="#acff00"/><stop offset=".6961" stop-color="#67ff00"/><stop offset=".701" stop-color="#1dff00"/><stop offset=".7034" stop-color="#0f0"/><stop offset=".7116" stop-color="#00ff4a"/><stop offset=".7239" stop-color="#00ff98"/><stop offset=".741" stop-color="#00ffe3"/><stop offset=".75" stop-color="#00fcff"/><stop offset=".7753" stop-color="#00b7ff"/><stop offset=".8129" stop-color="#0071ff"/><stop offset=".8578" stop-color="#003aff"/><stop offset=".9134" stop-color="#0013ff"/><stop offset=".9788" stop-color="#0001ff"/><stop offset="1" stop-color="#00f"/></linearGradient>
<linearGradient id="a108" x1="0" y1="0" x2="0" y2="1"><stop offset="0" stop-color="#0014ff"/><stop offset=".2574" stop-color="#0029ff"/><stop offset=".4011" stop-color="#0048ff"/><stop offset=".4902" stop-color="#0070ff"/><stop offset=".5507" stop-color="#00a1ff"/><stop offset=".5899" stop-color="#00d5ff"/><stop offset=".6127" stop-color="#00fffc"/><stop offset=".634" stop-color="#00ffc0"/><stop offset=".6503" stop-color="#00ff7c"/><stop offset=".6618" stop-color="#00ff34"/><stop offset=".6675" stop-color="#00ff01"/><stop offset=".6724" stop-color="#39ff00"/><stop offset=".6765" stop-color="#7cff00"/><stop offset=".6789" stop-color="#b3ff00"/><stop offset=".6814" stop-color="#ff0"/><stop offset=".6838" stop-color="#ff9500"/><stop offset=".6846" stop-color="#ff6f00"/><stop offset=".6855" stop-color="#ff5100"/><stop offset=".6863" stop-color="#ff4300"/><stop offset=".6871" stop-color="#ff5b00"/><stop offset=".6895" stop-color="#ffd500"/><stop offset=".6904" stop-color="#fff600"/><stop offset=".6912" stop-color="#ebff00"/><stop offset=".6936" stop-color="#a5ff00"/><stop offset=".6969" stop-color="#61ff00"/><stop offset=".7018" stop-color="#19ff00"/><stop offset=".7042" stop-color="#00ff03"/><stop offset=".7124" stop-color="#00ff4d"/><stop offset=".7247" stop-color="#00ff9a"/><stop offset=".7426" stop-color="#00ffe8"/><stop offset=".75" stop-color="#00fdff"/><stop offset=".777" stop-color="#00b4ff"/><stop offset=".8145" stop-color="#006fff"/><stop offset=".8611" stop-color="#0037ff"/><stop offset=".9175" stop-color="#01f"/><stop offset=".9828" stop-color="#0001ff"/><stop offset="1" stop-color="#00f"/></linearGradient>
<linearGradient id="a109" x1="0" y1="0" x2="0" y2="1"><stop offset="0" stop-color="#0014ff"/><stop offset=".2525" stop-color="#0028ff"/><stop offset=".3995" stop-color="#0047ff"/><stop offset=".4902" stop-color="#006fff"/><stop offset=".5507" stop-color="#00a0ff"/><stop offset=".5915" stop-color="#00d6ff"/><stop offset=".6136" stop-color="#00fffc"/><stop offset=".6348" stop-color="#00ffc0"/><stop offset=".6495" stop-color="#00ff83"/><stop offset=".6601" stop-color="#00ff45"/><stop offset=".6683" stop-color="#0f0"/><stop offset=".674" stop-color="#47ff00"/><stop offset=".6781" stop-color="#91ff00"/><stop offset=".6806" stop-color="#d0ff00"/><stop offset=".6814" stop-color="#eaff00"/><stop offset=".6822" stop-color="#fff700"/><stop offset=".6838" stop-color="#ffb000"/><stop offset=".6855" stop-color="#ff5e00"/><stop offset=".6863" stop-color="#f40"/><stop offset=".6871" stop-color="#ff4300"/><stop offset=".6879" stop-color="#ff6700"/><stop offset=".6895" stop-color="#ffbc00"/><stop offset=".6912" stop-color="#fdff00"/><stop offset=".6936" stop-color="#b2ff00"/><stop offset=".6969" stop-color="#6bff00"/><stop offset=".7018" stop-color="#20ff00"/><stop offset=".7042" stop-color="#02ff00"/><stop offset=".7141" stop-color="#0f5"/><stop offset=".7263" stop-color="#00ffa0"/><stop offset=".7426" stop-color="#00ffe6"/><stop offset=".7508" stop-color="#00fbff"/><stop offset=".7786" stop-color="#00b1ff"/><stop offset=".8154" stop-color="#006eff"/><stop offset=".8636" stop-color="#0035ff"/><stop offset=".9183" stop-color="#01f"/><stop offset=".9812" stop-color="#0001ff"/><stop offset="1" stop-color="#00f"/></linearGradient>
<clipPath id="cpa"><rect x="157.8" y="85" width="637.2" height="612"/></clipPath>
<filter id="bla" filterUnits="userSpaceOnUse" x="143.8" y="85" width="665.2" height="612" color-interpolation-filters="sRGB"><feGaussianBlur stdDeviation="2.2 0"/></filter>
<linearGradient id="b0" x1="0" y1="0" x2="0" y2="1"><stop offset="0" stop-color="#007eff"/><stop offset=".1998" stop-color="#00b1ff"/><stop offset=".4086" stop-color="#00fffc"/><stop offset=".4894" stop-color="#00ffe5"/><stop offset=".5498" stop-color="#00ffe9"/><stop offset=".606" stop-color="#00fbff"/><stop offset=".7537" stop-color="#008aff"/><stop offset=".8899" stop-color="#0027ff"/><stop offset=".9657" stop-color="#0005ff"/><stop offset="1" stop-color="#00f"/></linearGradient>
<linearGradient id="b1" x1="0" y1="0" x2="0" y2="1"><stop offset="0" stop-color="#007aff"/><stop offset=".2023" stop-color="#00adff"/><stop offset=".4192" stop-color="#00fffc"/><stop offset=".5" stop-color="#00ffe5"/><stop offset=".5587" stop-color="#00ffeb"/><stop offset=".6093" stop-color="#00fbff"/><stop offset=".7675" stop-color="#0080ff"/><stop offset=".8907" stop-color="#0027ff"/><stop offset=".9625" stop-color="#0006ff"/><stop offset="1" stop-color="#00f"/></linearGradient>
<linearGradient id="b2" x1="0" y1="0" x2="0" y2="1"><stop offset="0" stop-color="#0076ff"/><stop offset=".2039" stop-color="#00a9ff"/><stop offset=".3891" stop-color="#00f1ff"/><stop offset=".4307" stop-color="#00fffb"/><stop offset=".5082" stop-color="#00ffe6"/><stop offset=".5644" stop-color="#00ffec"/><stop offset=".6117" stop-color="#00fbff"/><stop offset=".7382" stop-color="#09f"/><stop offset=".876" stop-color="#0030ff"/><stop offset=".9576" stop-color="#0007ff"/><stop offset="1" stop-color="#00f"/></linearGradient>
<linearGradient id="b3" x1="0" y1="0" x2="0" y2="1"><stop offset="0" stop-color="#0073ff"/><stop offset=".1966" stop-color="#00a2ff"/><stop offset=".3728" stop-color="#00e5ff"/><stop offset=".4396" stop-color="#00fffb"/><stop offset=".5163" stop-color="#00ffe7"/><stop offset=".5701" stop-color="#00ffed"/><stop offset=".615" stop-color="#00fbff"/><stop offset=".7382" stop-color="#009aff"/><stop offset=".8752" stop-color="#0031ff"/><stop offset=".9527" stop-color="#0009ff"/><stop offset="1" stop-color="#00f"/></linearGradient>
<linearGradient id="b4" x1="0" y1="0" x2="0" y2="1"><stop offset="0" stop-color="#006fff"/><stop offset=".2015" stop-color="#009fff"/><stop offset=".3719" stop-color="#00e0ff"/><stop offset=".4478" stop-color="#00fffc"/><stop offset=".5204" stop-color="#00ffe8"/><stop offset=".5759" stop-color="#0fe"/><stop offset=".6183" stop-color="#00fbff"/><stop offset=".748" stop-color="#0093ff"/><stop offset=".8768" stop-color="#0030ff"/><stop offset=".9551" stop-color="#0008ff"/><stop offset="1" stop-color="#00f"/></linearGradient>
<linearGradient id="b5" x1="0" y1="0" x2="0" y2="1"><stop offset="0" stop-color="#006cff"/><stop offset=".1925" stop-color="#0098ff"/><stop offset=".3581" stop-color="#00d5ff"/><stop offset=".4576" stop-color="#00fffc"/><stop offset=".5302" stop-color="#00ffe8"/><stop offset=".584" stop-color="#00fff0"/><stop offset=".6207" stop-color="#00fbff"/><stop offset=".7284" stop-color="#00a5ff"/><stop offset=".8679" stop-color="#0036ff"/><stop offset=".9494" stop-color="#000aff"/><stop offset="1" stop-color="#00f"/></linearGradient>
<linearGradient id="b6" x1="0" y1="0" x2="0" y2="1"><stop offset="0" stop-color="#0068ff"/><stop offset=".2039" stop-color="#0097ff"/><stop offset=".3687" stop-color="#00d5ff"/><stop offset=".4666" stop-color="#00fffc"/><stop offset=".5359" stop-color="#00ffe9"/><stop offset=".5897" stop-color="#00fff1"/><stop offset=".624" stop-color="#00fbff"/><stop offset=".7382" stop-color="#009eff"/><stop offset=".8711" stop-color="#0034ff"/><stop offset=".9494" stop-color="#000aff"/><stop offset="1" stop-color="#00f"/></linearGradient>
<linearGradient id="b7" x1="0" y1="0" x2="0" y2="1"><stop offset="0" stop-color="#0065ff"/><stop offset=".1982" stop-color="#0091ff"/><stop offset=".3622" stop-color="#00cdff"/><stop offset=".4747" stop-color="#00fffc"/><stop offset=".5424" stop-color="#00ffea"/><stop offset=".5922" stop-color="#00fff1"/><stop offset=".6272" stop-color="#00fbff"/><stop offset=".7398" stop-color="#009eff"/><stop offset=".8687" stop-color="#0036ff"/><stop offset=".947" stop-color="#000bff"/><stop offset="1" stop-color="#00f"/></linearGradient>
<linearGradient id="b8" x1="0" y1="0" x2="0" y2="1"><stop offset="0" stop-color="#0062ff"/><stop offset=".1949" stop-color="#008cff"/><stop offset=".3564" stop-color="#00c6ff"/><stop offset=".4837" stop-color="#00fffc"/><stop offset=".5506" stop-color="#00ffea"/><stop offset=".6028" stop-color="#00fff4"/><stop offset=".6297" stop-color="#00fbff"/><stop offset=".7235" stop-color="#00aeff"/><stop offset=".8564" stop-color="#003fff"/><stop offset=".9372" stop-color="#000fff"/><stop offset=".9984" stop-color="#00f"/><stop offset="1" stop-color="#00f"/></linearGradient>
<linearGradient id="b9" x1="0" y1="0" x2="0" y2="1"><stop offset="0" stop-color="#005eff"/><stop offset=".2055" stop-color="#008bff"/><stop offset=".3605" stop-color="#00c3ff"/><stop offset=".4918" stop-color="#00fffc"/><stop offset=".5555" stop-color="#00ffeb"/><stop offset=".6052" stop-color="#00fff4"/><stop offset=".633" stop-color="#00fbff"/><stop offset=".7276" stop-color="#00acff"/><stop offset=".8581" stop-color="#003eff"/><stop offset=".9396" stop-color="#000eff"/><stop offset=".9992" stop-color="#00f"/><stop offset="1" stop-color="#00f"/></linearGradient>
<linearGradient id="b10" x1="0" y1="0" x2="0" y2="1"><stop offset="0" stop-color="#005bff"/><stop offset=".2055" stop-color="#0087ff"/><stop offset=".3597" stop-color="#00beff"/><stop offset=".5" stop-color="#00fffc"/><stop offset=".5604" stop-color="#00ffec"/><stop offset=".6085" stop-color="#00fff4"/><stop offset=".6362" stop-color="#00fbff"/><stop offset=".7316" stop-color="#0af"/><stop offset=".8573" stop-color="#003fff"/><stop offset=".9396" stop-color="#000eff"/><stop offset=".9992" stop-color="#00f"/><stop offset="1" stop-color="#00f"/></linearGradient>
<linearGradient id="b11" x1="0" y1="0" x2="0" y2="1"><stop offset="0" stop-color="#0058ff"/><stop offset=".2088" stop-color="#0084ff"/><stop offset=".3638" stop-color="#0bf"/><stop offset=".5073" stop-color="#00fffc"/><stop offset=".5693" stop-color="#00ffec"/><stop offset=".6183" stop-color="#00fff7"/><stop offset=".6403" stop-color="#00faff"/><stop offset=".7325" stop-color="#00abff"/><stop offset=".8548" stop-color="#0041ff"/><stop offset=".9372" stop-color="#000fff"/><stop offset=".9984" stop-color="#00f"/><stop offset="1" stop-color="#00f"/></linearGradient>
<linearGradient id="b12" x1="0" y1="0" x2="0" y2="1"><stop offset="0" stop-color="#0056ff"/><stop offset=".1974" stop-color="#007dff"/><stop offset=".3507" stop-color="#00b1ff"/><stop offset=".5147" stop-color="#00fffc"/><stop offset=".5734" stop-color="#00ffed"/><stop offset=".6191" stop-color="#00fff6"/><stop offset=".6419" stop-color="#00fbff"/><stop offset=".73" stop-color="#00afff"/><stop offset=".854" stop-color="#0042ff"/><stop offset=".9372" stop-color="#000fff"/><stop offset=".9984" stop-color="#00f"/><stop offset="1" stop-color="#00f"/></linearGradient>
<linearGradient id="b13" x1="0" y1="0" x2="0" y2="1"><stop offset="0" stop-color="#0053ff"/><stop offset=".1998" stop-color="#007aff"/><stop offset=".3564" stop-color="#00afff"/><stop offset=".522" stop-color="#00fffc"/><stop offset=".5808" stop-color="#00ffed"/><stop offset=".6289" stop-color="#00fff9"/><stop offset=".6493" stop-color="#00f8ff"/><stop offset=".7455" stop-color="#00a2ff"/><stop offset=".8597" stop-color="#003eff"/><stop offset=".9372" stop-color="#000fff"/><stop offset=".9984" stop-color="#00f"/><stop offset="1" stop-color="#00f"/></linearGradient>
<linearGradient id="b14" x1="0" y1="0" x2="0" y2="1"><stop offset="0" stop-color="#0050ff"/><stop offset=".2055" stop-color="#0078ff"/><stop offset=".3597" stop-color="#00acff"/><stop offset=".5294" stop-color="#00fffc"/><stop offset=".5848" stop-color="#0fe"/><stop offset=".6297" stop-color="#00fff8"/><stop offset=".6509" stop-color="#00f9ff"/><stop offset=".7365" stop-color="#00acff"/><stop offset=".8524" stop-color="#04f"/><stop offset=".9347" stop-color="#0010ff"/><stop offset=".9959" stop-color="#00f"/><stop offset="1" stop-color="#00f"/></linearGradient>
<linearGradient id="b15" x1="0" y1="0" x2="0" y2="1"><stop offset="0" stop-color="#004dff"/><stop offset=".2121" stop-color="#0076ff"/><stop offset=".363" stop-color="#00a9ff"/><stop offset=".5359" stop-color="#00fffc"/><stop offset=".593" stop-color="#0fe"/><stop offset=".6387" stop-color="#00fffb"/><stop offset=".6648" stop-color="#00f1ff"/><stop offset=".845" stop-color="#004aff"/><stop offset=".9266" stop-color="#0014ff"/><stop offset=".9869" stop-color="#0001ff"/><stop offset="1" stop-color="#00f"/></linearGradient>
<linearGradient id="b16" x1="0" y1="0" x2="0" y2="1"><stop offset="0" stop-color="#004bff"/><stop offset=".2096" stop-color="#0072ff"/><stop offset=".3613" stop-color="#00a4ff"/><stop offset=".5106" stop-color="#00f1ff"/><stop offset=".544" stop-color="#00fffc"/><stop offset=".5971" stop-color="#0fe"/><stop offset=".6436" stop-color="#00fffc"/><stop offset=".6819" stop-color="#00e5ff"/><stop offset=".8385" stop-color="#0050ff"/><stop offset=".9209" stop-color="#0017ff"/><stop offset=".9845" stop-color="#0001ff"/><stop offset="1" stop-color="#00f"/></linearGradient>
<linearGradient id="b17" x1="0" y1="0" x2="0" y2="1"><stop offset="0" stop-color="#0049ff"/><stop offset=".2031" stop-color="#006dff"/><stop offset=".3573" stop-color="#009eff"/><stop offset=".4894" stop-color="#00e1ff"/><stop offset=".5489" stop-color="#00fffc"/><stop offset=".602" stop-color="#00ffef"/><stop offset=".6444" stop-color="#00fffb"/><stop offset=".6656" stop-color="#00f5ff"/><stop offset=".845" stop-color="#004bff"/><stop offset=".9266" stop-color="#0014ff"/><stop offset=".9869" stop-color="#0001ff"/><stop offset="1" stop-color="#00f"/></linearGradient>
<linearGradient id="b18" x1="0" y1="0" x2="0" y2="1"><stop offset="0" stop-color="#0046ff"/><stop offset=".2121" stop-color="#006cff"/><stop offset=".3646" stop-color="#009dff"/><stop offset=".4967" stop-color="#00e1ff"/><stop offset=".5555" stop-color="#00fffc"/><stop offset=".606" stop-color="#00ffef"/><stop offset=".6493" stop-color="#00fffc"/><stop offset=".6827" stop-color="#00e9ff"/><stop offset=".8385" stop-color="#0051ff"/><stop offset=".9192" stop-color="#0018ff"/><stop offset=".9804" stop-color="#0002ff"/><stop offset="1" stop-color="#00f"/></linearGradient>
<linearGradient id="b19" x1="0" y1="0" x2="0" y2="1"><stop offset="0" stop-color="#04f"/><stop offset=".2129" stop-color="#0069ff"/><stop offset=".367" stop-color="#009aff"/><stop offset=".4918" stop-color="#00daff"/><stop offset=".5604" stop-color="#00fffd"/><stop offset=".6093" stop-color="#00ffef"/><stop offset=".6525" stop-color="#00fffc"/><stop offset=".6852" stop-color="#00e9ff"/><stop offset=".8401" stop-color="#0050ff"/><stop offset=".9209" stop-color="#0017ff"/><stop offset=".9845" stop-color="#0001ff"/><stop offset="1" stop-color="#00f"/></linearGradient>
<linearGradient id="b20" x1="0" y1="0" x2="0" y2="1"><stop offset="0" stop-color="#0042ff"/><stop offset=".2129" stop-color="#06f"/><stop offset=".367" stop-color="#0096ff"/><stop offset=".4943" stop-color="#00d7ff"/><stop offset=".5661" stop-color="#00fffc"/><stop offset=".6158" stop-color="#00ffef"/><stop offset=".6591" stop-color="#00fffe"/><stop offset=".7113" stop-color="#00d2ff"/><stop offset=".8361" stop-color="#0054ff"/><stop offset=".9184" stop-color="#0018ff"/><stop offset=".9837" stop-color="#0001ff"/><stop offset="1" stop-color="#00f"/></linearGradient>
<linearGradient id="b21" x1="0" y1="0" x2="0" y2="1"><stop offset="0" stop-color="#0040ff"/><stop offset=".2129" stop-color="#0063ff"/><stop offset=".3662" stop-color="#0092ff"/><stop offset=".4878" stop-color="#00cfff"/><stop offset=".571" stop-color="#00fffd"/><stop offset=".6166" stop-color="#00fff0"/><stop offset=".6558" stop-color="#00fffa"/><stop offset=".6746" stop-color="#00f7ff"/><stop offset=".761" stop-color="#009fff"/><stop offset=".8581" stop-color="#0042ff"/><stop offset=".9331" stop-color="#01f"/><stop offset=".9935" stop-color="#00f"/><stop offset="1" stop-color="#00f"/></linearGradient>
<linearGradient id="b22" x1="0" y1="0" x2="0" y2="1"><stop offset="0" stop-color="#003eff"/><stop offset=".2121" stop-color="#0060ff"/><stop offset=".3654" stop-color="#008eff"/><stop offset=".4845" stop-color="#00c9ff"/><stop offset=".5759" stop-color="#00fffd"/><stop offset=".6215" stop-color="#00fff0"/><stop offset=".6607" stop-color="#00fffb"/><stop offset=".6868" stop-color="#00efff"/><stop offset=".8409" stop-color="#0051ff"/><stop offset=".916" stop-color="#001aff"/><stop offset=".9788" stop-color="#0002ff"/><stop offset="1" stop-color="#00f"/></linearGradient>
<linearGradient id="b23" x1="0" y1="0" x2="0" y2="1"><stop offset="0" stop-color="#003cff"/><stop offset=".2153" stop-color="#005eff"/><stop offset=".3695" stop-color="#008cff"/><stop offset=".4845" stop-color="#00c5ff"/><stop offset=".5808" stop-color="#00fffd"/><stop offset=".6264" stop-color="#00fff0"/><stop offset=".6639" stop-color="#00fffb"/><stop offset=".6884" stop-color="#00f0ff"/><stop offset=".8393" stop-color="#0053ff"/><stop offset=".9144" stop-color="#001bff"/><stop offset=".9747" stop-color="#0003ff"/><stop offset="1" stop-color="#00f"/></linearGradient>
<linearGradient id="b24" x1="0" y1="0" x2="0" y2="1"><stop offset="0" stop-color="#003aff"/><stop offset=".2186" stop-color="#005cff"/><stop offset=".3736" stop-color="#008aff"/><stop offset=".4878" stop-color="#00c3ff"/><stop offset=".5865" stop-color="#00fffc"/><stop offset=".6321" stop-color="#00fff0"/><stop offset=".6697" stop-color="#00fffd"/><stop offset=".7072" stop-color="#00e0ff"/><stop offset=".8344" stop-color="#0058ff"/><stop offset=".9127" stop-color="#001cff"/><stop offset=".9747" stop-color="#0003ff"/><stop offset="1" stop-color="#00f"/></linearGradient>
<linearGradient id="b25" x1="0" y1="0" x2="0" y2="1"><stop offset="0" stop-color="#0038ff"/><stop offset=".2251" stop-color="#005bff"/><stop offset=".3744" stop-color="#0087ff"/><stop offset=".4861" stop-color="#00beff"/><stop offset=".5905" stop-color="#00fffd"/><stop offset=".633" stop-color="#00fff0"/><stop offset=".6697" stop-color="#00fffb"/><stop offset=".6884" stop-color="#00f5ff"/><stop offset=".8393" stop-color="#0054ff"/><stop offset=".916" stop-color="#001aff"/><stop offset=".9788" stop-color="#0002ff"/><stop offset="1" stop-color="#00f"/></linearGradient>
<linearGradient id="b26" x1="0" y1="0" x2="0" y2="1"><stop offset="0" stop-color="#0037ff"/><stop offset=".2186" stop-color="#0057ff"/><stop offset=".3728" stop-color="#0083ff"/><stop offset=".4878" stop-color="#0bf"/><stop offset=".5946" stop-color="#00fffd"/><stop offset=".6378" stop-color="#00ffef"/><stop offset=".6778" stop-color="#00fffe"/><stop offset=".7284" stop-color="#00ceff"/><stop offset=".8336" stop-color="#005aff"/><stop offset=".9078" stop-color="#001fff"/><stop offset=".9698" stop-color="#0004ff"/><stop offset="1" stop-color="#00f"/></linearGradient>
<linearGradient id="b27" x1="0" y1="0" x2="0" y2="1"><stop offset="0" stop-color="#0035ff"/><stop offset=".2251" stop-color="#0056ff"/><stop offset=".376" stop-color="#0081ff"/><stop offset=".491" stop-color="#00b9ff"/><stop offset=".5987" stop-color="#00fffd"/><stop offset=".6411" stop-color="#00ffef"/><stop offset=".6778" stop-color="#00fffc"/><stop offset=".708" stop-color="#00e7ff"/><stop offset=".8352" stop-color="#0059ff"/><stop offset=".9095" stop-color="#001eff"/><stop offset=".9731" stop-color="#0003ff"/><stop offset="1" stop-color="#00f"/></linearGradient>
<linearGradient id="b28" x1="0" y1="0" x2="0" y2="1"><stop offset="0" stop-color="#03f"/><stop offset=".2316" stop-color="#05f"/><stop offset=".3842" stop-color="#0081ff"/><stop offset=".4951" stop-color="#00b8ff"/><stop offset=".6028" stop-color="#00fffc"/><stop offset=".6468" stop-color="#00ffef"/><stop offset=".6835" stop-color="#00fffe"/><stop offset=".73" stop-color="#00d1ff"/><stop offset=".8328" stop-color="#005cff"/><stop offset=".9078" stop-color="#001fff"/><stop offset=".9698" stop-color="#0004ff"/><stop offset="1" stop-color="#00f"/></linearGradient>
<linearGradient id="b29" x1="0" y1="0" x2="0" y2="1"><stop offset="0" stop-color="#0032ff"/><stop offset=".2276" stop-color="#0052ff"/><stop offset=".3793" stop-color="#007cff"/><stop offset=".4894" stop-color="#00b1ff"/><stop offset=".606" stop-color="#00fffd"/><stop offset=".646" stop-color="#00ffef"/><stop offset=".6794" stop-color="#00fff9"/><stop offset=".6949" stop-color="#00f9ff"/><stop offset=".7781" stop-color="#09f"/><stop offset=".8581" stop-color="#0045ff"/><stop offset=".9274" stop-color="#0014ff"/><stop offset=".9861" stop-color="#0001ff"/><stop offset="1" stop-color="#00f"/></linearGradient>
<linearGradient id="b30" x1="0" y1="0" x2="0" y2="1"><stop offset="0" stop-color="#0031ff"/><stop offset=".2235" stop-color="#004fff"/><stop offset=".3785" stop-color="#0079ff"/><stop offset=".4869" stop-color="#00acff"/><stop offset=".6101" stop-color="#00fffc"/><stop offset=".6525" stop-color="#0fe"/><stop offset=".6868" stop-color="#00fffc"/><stop offset=".7129" stop-color="#00eaff"/><stop offset=".8312" stop-color="#005fff"/><stop offset=".9038" stop-color="#02f"/><stop offset=".9657" stop-color="#0005ff"/><stop offset="1" stop-color="#00f"/></linearGradient>
<linearGradient id="b31" x1="0" y1="0" x2="0" y2="1"><stop offset="0" stop-color="#002fff"/><stop offset=".2333" stop-color="#004fff"/><stop offset=".3834" stop-color="#0078ff"/><stop offset=".4894" stop-color="#0af"/><stop offset=".6134" stop-color="#00fffc"/><stop offset=".6542" stop-color="#0fe"/><stop offset=".6892" stop-color="#00fffb"/><stop offset=".7096" stop-color="#00f0ff"/><stop offset=".832" stop-color="#005fff"/><stop offset=".9038" stop-color="#02f"/><stop offset=".9657" stop-color="#0005ff"/><stop offset="1" stop-color="#00f"/></linearGradient>
<linearGradient id="b32" x1="0" y1="0" x2="0" y2="1"><stop offset="0" stop-color="#002eff"/><stop offset=".2333" stop-color="#004dff"/><stop offset=".3825" stop-color="#0075ff"/><stop offset=".4902" stop-color="#00a7ff"/><stop offset=".6166" stop-color="#00fffc"/><stop offset=".6574" stop-color="#00ffed"/><stop offset=".6917" stop-color="#00fffb"/><stop offset=".7104" stop-color="#00f2ff"/><stop offset=".8336" stop-color="#005eff"/><stop offset=".9038" stop-color="#02f"/><stop offset=".9657" stop-color="#0005ff"/><stop offset="1" stop-color="#00f"/></linearGradient>
<linearGradient id="b33" x1="0" y1="0" x2="0" y2="1"><stop offset="0" stop-color="#002dff"/><stop offset=".2276" stop-color="#004aff"/><stop offset=".3817" stop-color="#0072ff"/><stop offset=".4886" stop-color="#00a3ff"/><stop offset=".5865" stop-color="#00e9ff"/><stop offset=".6199" stop-color="#00fffc"/><stop offset=".6582" stop-color="#00ffed"/><stop offset=".6892" stop-color="#00fff7"/><stop offset=".7047" stop-color="#00faff"/><stop offset=".8352" stop-color="#005dff"/><stop offset=".9054" stop-color="#0021ff"/><stop offset=".9682" stop-color="#0004ff"/><stop offset="1" stop-color="#00f"/></linearGradient>
<linearGradient id="b34" x1="0" y1="0" x2="0" y2="1"><stop offset="0" stop-color="#002cff"/><stop offset=".2316" stop-color="#0049ff"/><stop offset=".3858" stop-color="#0071ff"/><stop offset=".4943" stop-color="#00a3ff"/><stop offset=".5922" stop-color="#00ebff"/><stop offset=".6223" stop-color="#00fffc"/><stop offset=".6607" stop-color="#00ffec"/><stop offset=".6925" stop-color="#00fff7"/><stop offset=".7088" stop-color="#00f9ff"/><stop offset=".8377" stop-color="#005bff"/><stop offset=".907" stop-color="#0020ff"/><stop offset=".969" stop-color="#0004ff"/><stop offset="1" stop-color="#00f"/></linearGradient>
<linearGradient id="b35" x1="0" y1="0" x2="0" y2="1"><stop offset="0" stop-color="#002bff"/><stop offset=".23" stop-color="#0047ff"/><stop offset=".3842" stop-color="#006eff"/><stop offset=".4927" stop-color="#009fff"/><stop offset=".5873" stop-color="#00e4ff"/><stop offset=".6248" stop-color="#00fffc"/><stop offset=".6615" stop-color="#00ffec"/><stop offset=".6917" stop-color="#00fff4"/><stop offset=".7096" stop-color="#00fbff"/><stop offset=".8336" stop-color="#0060ff"/><stop offset=".9029" stop-color="#0023ff"/><stop offset=".9641" stop-color="#0005ff"/><stop offset="1" stop-color="#00f"/></linearGradient>
<linearGradient id="b36" x1="0" y1="0" x2="0" y2="1"><stop offset="0" stop-color="#0029ff"/><stop offset=".2447" stop-color="#0048ff"/><stop offset=".3964" stop-color="#0070ff"/><stop offset=".5024" stop-color="#00a2ff"/><stop offset=".5938" stop-color="#00e7ff"/><stop offset=".6272" stop-color="#00fffc"/><stop offset=".6639" stop-color="#00ffeb"/><stop offset=".6933" stop-color="#00fff3"/><stop offset=".7121" stop-color="#00fbff"/><stop offset=".8344" stop-color="#0060ff"/><stop offset=".8989" stop-color="#0026ff"/><stop offset=".9608" stop-color="#0006ff"/><stop offset="1" stop-color="#00f"/></linearGradient>
<linearGradient id="b37" x1="0" y1="0" x2="0" y2="1"><stop offset="0" stop-color="#0029ff"/><stop offset=".2316" stop-color="#04f"/><stop offset=".3891" stop-color="#006bff"/><stop offset=".4967" stop-color="#009cff"/><stop offset=".5832" stop-color="#00dbff"/><stop offset=".6289" stop-color="#00fffc"/><stop offset=".6664" stop-color="#00ffea"/><stop offset=".6966" stop-color="#00fff3"/><stop offset=".7145" stop-color="#00fbff"/><stop offset=".8312" stop-color="#0064ff"/><stop offset=".8989" stop-color="#0026ff"/><stop offset=".9608" stop-color="#0006ff"/><stop offset="1" stop-color="#00f"/></linearGradient>
<linearGradient id="b38" x1="0" y1="0" x2="0" y2="1"><stop offset="0" stop-color="#0028ff"/><stop offset=".2398" stop-color="#04f"/><stop offset=".3915" stop-color="#006aff"/><stop offset=".4943" stop-color="#0098ff"/><stop offset=".5783" stop-color="#00d4ff"/><stop offset=".6313" stop-color="#00fffc"/><stop offset=".668" stop-color="#00ffe9"/><stop offset=".6974" stop-color="#00fff1"/><stop offset=".717" stop-color="#00fbff"/><stop offset=".8336" stop-color="#0062ff"/><stop offset=".8989" stop-color="#0026ff"/><stop offset=".9608" stop-color="#0006ff"/><stop offset="1" stop-color="#00f"/></linearGradient>
<linearGradient id="b39" x1="0" y1="0" x2="0" y2="1"><stop offset="0" stop-color="#0027ff"/><stop offset=".2423" stop-color="#0043ff"/><stop offset=".3948" stop-color="#0069ff"/><stop offset=".5008" stop-color="#09f"/><stop offset=".5856" stop-color="#00d8ff"/><stop offset=".633" stop-color="#00fffc"/><stop offset=".6705" stop-color="#00ffe8"/><stop offset=".699" stop-color="#00fff0"/><stop offset=".7194" stop-color="#00fbff"/><stop offset=".8287" stop-color="#0069ff"/><stop offset=".8899" stop-color="#002dff"/><stop offset=".9519" stop-color="#0009ff"/><stop offset="1" stop-color="#00f"/></linearGradient>
<clipPath id="cpb"><rect x="1085.7" y="86.2" width="639.5" height="613"/></clipPath>
<filter id="blb" filterUnits="userSpaceOnUse" x="1071.7" y="86.2" width="667.5" height="613" color-interpolation-filters="sRGB"><feGaussianBlur stdDeviation="5 0"/></filter>
</defs>
<g clip-path="url(#cpa)"><g filter="url(#bla)">
<rect x="143.8" y="85" width="20.39" height="612" fill="url(#a0)"/>
<rect x="163.59" y="85" width="6.39" height="612" fill="url(#a1)"/>
<rect x="169.39" y="85" width="6.39" height="612" fill="url(#a2)"/>
<rect x="175.18" y="85" width="6.39" height="612" fill="url(#a3)"/>
<rect x="180.97" y="85" width="6.39" height="612" fill="url(#a4)"/>
<rect x="186.76" y="85" width="6.39" height="612" fill="url(#a5)"/>
<rect x="192.56" y="85" width="6.39" height="612" fill="url(#a6)"/>
<rect x="198.35" y="85" width="6.39" height="612" fill="url(#a7)"/>
<rect x="204.14" y="85" width="6.39" height="612" fill="url(#a8)"/>
<rect x="209.93" y="85" width="6.39" height="612" fill="url(#a9)"/>
<rect x="215.73" y="85" width="6.39" height="612" fill="url(#a10)"/>
<rect x="221.52" y="85" width="6.39" height="612" fill="url(#a11)"/>
<rect x="227.31" y="85" width="6.39" height="612" fill="url(#a12)"/>
<rect x="233.11" y="85" width="6.39" height="612" fill="url(#a13)"/>
<rect x="238.9" y="85" width="6.39" height="612" fill="url(#a14)"/>
<rect x="244.69" y="85" width="6.39" height="612" fill="url(#a15)"/>
<rect x="250.48" y="85" width="6.39" height="612" fill="url(#a16)"/>
<rect x="256.28" y="85" width="6.39" height="612" fill="url(#a17)"/>
<rect x="262.07" y="85" width="6.39" height="612" fill="url(#a18)"/>
<rect x="267.86" y="85" width="6.39" height="612" fill="url(#a19)"/>
<rect x="273.65" y="85" width="6.39" height="612" fill="url(#a20)"/>
<rect x="279.45" y="85" width="6.39" height="612" fill="url(#a21)"/>
<rect x="285.24" y="85" width="6.39" height="612" fill="url(#a22)"/>
<rect x="291.03" y="85" width="6.39" height="612" fill="url(#a23)"/>
<rect x="296.83" y="85" width="6.39" height="612" fill="url(#a24)"/>
<rect x="302.62" y="85" width="6.39" height="612" fill="url(#a25)"/>
<rect x="308.41" y="85" width="6.39" height="612" fill="url(#a26)"/>
<rect x="314.2" y="85" width="6.39" height="612" fill="url(#a27)"/>
<rect x="320" y="85" width="6.39" height="612" fill="url(#a28)"/>
<rect x="325.79" y="85" width="6.39" height="612" fill="url(#a29)"/>
<rect x="331.58" y="85" width="6.39" height="612" fill="url(#a30)"/>
<rect x="337.37" y="85" width="6.39" height="612" fill="url(#a31)"/>
<rect x="343.17" y="85" width="6.39" height="612" fill="url(#a32)"/>
<rect x="348.96" y="85" width="6.39" height="612" fill="url(#a33)"/>
<rect x="354.75" y="85" width="6.39" height="612" fill="url(#a34)"/>
<rect x="360.55" y="85" width="6.39" height="612" fill="url(#a35)"/>
<rect x="366.34" y="85" width="6.39" height="612" fill="url(#a36)"/>
<rect x="372.13" y="85" width="6.39" height="612" fill="url(#a37)"/>
<rect x="377.92" y="85" width="6.39" height="612" fill="url(#a38)"/>
<rect x="383.72" y="85" width="6.39" height="612" fill="url(#a39)"/>
<rect x="389.51" y="85" width="6.39" height="612" fill="url(#a40)"/>
<rect x="395.3" y="85" width="6.39" height="612" fill="url(#a41)"/>
<rect x="401.09" y="85" width="6.39" height="612" fill="url(#a42)"/>
<rect x="406.89" y="85" width="6.39" height="612" fill="url(#a43)"/>
<rect x="412.68" y="85" width="6.39" height="612" fill="url(#a44)"/>
<rect x="418.47" y="85" width="6.39" height="612" fill="url(#a45)"/>
<rect x="424.27" y="85" width="6.39" height="612" fill="url(#a46)"/>
<rect x="430.06" y="85" width="6.39" height="612" fill="url(#a47)"/>
<rect x="435.85" y="85" width="6.39" height="612" fill="url(#a48)"/>
<rect x="441.64" y="85" width="6.39" height="612" fill="url(#a49)"/>
<rect x="447.44" y="85" width="6.39" height="612" fill="url(#a50)"/>
<rect x="453.23" y="85" width="6.39" height="612" fill="url(#a51)"/>
<rect x="459.02" y="85" width="6.39" height="612" fill="url(#a52)"/>
<rect x="464.81" y="85" width="6.39" height="612" fill="url(#a53)"/>
<rect x="470.61" y="85" width="6.39" height="612" fill="url(#a54)"/>
<rect x="476.4" y="85" width="6.39" height="612" fill="url(#a55)"/>
<rect x="482.19" y="85" width="6.39" height="612" fill="url(#a56)"/>
<rect x="487.99" y="85" width="6.39" height="612" fill="url(#a57)"/>
<rect x="493.78" y="85" width="6.39" height="612" fill="url(#a58)"/>
<rect x="499.57" y="85" width="6.39" height="612" fill="url(#a59)"/>
<rect x="505.36" y="85" width="6.39" height="612" fill="url(#a60)"/>
<rect x="511.16" y="85" width="6.39" height="612" fill="url(#a61)"/>
<rect x="516.95" y="85" width="6.39" height="612" fill="url(#a62)"/>
<rect x="522.74" y="85" width="6.39" height="612" fill="url(#a63)"/>
<rect x="528.53" y="85" width="6.39" height="612" fill="url(#a64)"/>
<rect x="534.33" y="85" width="6.39" height="612" fill="url(#a65)"/>
<rect x="540.12" y="85" width="6.39" height="612" fill="url(#a66)"/>
<rect x="545.91" y="85" width="6.39" height="612" fill="url(#a67)"/>
<rect x="551.71" y="85" width="6.39" height="612" fill="url(#a68)"/>
<rect x="557.5" y="85" width="6.39" height="612" fill="url(#a69)"/>
<rect x="563.29" y="85" width="6.39" height="612" fill="url(#a70)"/>
<rect x="569.08" y="85" width="6.39" height="612" fill="url(#a71)"/>
<rect x="574.88" y="85" width="6.39" height="612" fill="url(#a72)"/>
<rect x="580.67" y="85" width="6.39" height="612" fill="url(#a73)"/>
<rect x="586.46" y="85" width="6.39" height="612" fill="url(#a74)"/>
<rect x="592.25" y="85" width="6.39" height="612" fill="url(#a75)"/>
<rect x="598.05" y="85" width="6.39" height="612" fill="url(#a76)"/>
<rect x="603.84" y="85" width="6.39" height="612" fill="url(#a77)"/>
<rect x="609.63" y="85" width="6.39" height="612" fill="url(#a78)"/>
<rect x="615.43" y="85" width="6.39" height="612" fill="url(#a79)"/>
<rect x="621.22" y="85" width="6.39" height="612" fill="url(#a80)"/>
<rect x="627.01" y="85" width="6.39" height="612" fill="url(#a81)"/>
<rect x="632.8" y="85" width="6.39" height="612" fill="url(#a82)"/>
<rect x="638.6" y="85" width="6.39" height="612" fill="url(#a83)"/>
<rect x="644.39" y="85" width="6.39" height="612" fill="url(#a84)"/>
<rect x="650.18" y="85" width="6.39" height="612" fill="url(#a85)"/>
<rect x="655.97" y="85" width="6.39" height="612" fill="url(#a86)"/>
<rect x="661.77" y="85" width="6.39" height="612" fill="url(#a87)"/>
<rect x="667.56" y="85" width="6.39" height="612" fill="url(#a88)"/>
<rect x="673.35" y="85" width="6.39" height="612" fill="url(#a89)"/>
<rect x="679.15" y="85" width="6.39" height="612" fill="url(#a90)"/>
<rect x="684.94" y="85" width="6.39" height="612" fill="url(#a91)"/>
<rect x="690.73" y="85" width="6.39" height="612" fill="url(#a92)"/>
<rect x="696.52" y="85" width="6.39" height="612" fill="url(#a93)"/>
<rect x="702.32" y="85" width="6.39" height="612" fill="url(#a94)"/>
<rect x="708.11" y="85" width="6.39" height="612" fill="url(#a95)"/>
<rect x="713.9" y="85" width="6.39" height="612" fill="url(#a96)"/>
<rect x="719.69" y="85" width="6.39" height="612" fill="url(#a97)"/>
<rect x="725.49" y="85" width="6.39" height="612" fill="url(#a98)"/>
<rect x="731.28" y="85" width="6.39" height="612" fill="url(#a99)"/>
<rect x="737.07" y="85" width="6.39" height="612" fill="url(#a100)"/>
<rect x="742.87" y="85" width="6.39" height="612" fill="url(#a101)"/>
<rect x="748.66" y="85" width="6.39" height="612" fill="url(#a102)"/>
<rect x="754.45" y="85" width="6.39" height="612" fill="url(#a103)"/>
<rect x="760.24" y="85" width="6.39" height="612" fill="url(#a104)"/>
<rect x="766.04" y="85" width="6.39" height="612" fill="url(#a105)"/>
<rect x="771.83" y="85" width="6.39" height="612" fill="url(#a106)"/>
<rect x="777.62" y="85" width="6.39" height="612" fill="url(#a107)"/>
<rect x="783.41" y="85" width="6.39" height="612" fill="url(#a108)"/>
<rect x="789.21" y="85" width="19.79" height="612" fill="url(#a109)"/>
</g></g>
<g clip-path="url(#cpb)"><g filter="url(#blb)">
<rect x="1071.7" y="86.2" width="30.59" height="613" fill="url(#b0)"/>
<rect x="1101.69" y="86.2" width="16.59" height="613" fill="url(#b1)"/>
<rect x="1117.67" y="86.2" width="16.59" height="613" fill="url(#b2)"/>
<rect x="1133.66" y="86.2" width="16.59" height="613" fill="url(#b3)"/>
<rect x="1149.65" y="86.2" width="16.59" height="613" fill="url(#b4)"/>
<rect x="1165.64" y="86.2" width="16.59" height="613" fill="url(#b5)"/>
<rect x="1181.62" y="86.2" width="16.59" height="613" fill="url(#b6)"/>
<rect x="1197.61" y="86.2" width="16.59" height="613" fill="url(#b7)"/>
<rect x="1213.6" y="86.2" width="16.59" height="613" fill="url(#b8)"/>
<rect x="1229.59" y="86.2" width="16.59" height="613" fill="url(#b9)"/>
<rect x="1245.58" y="86.2" width="16.59" height="613" fill="url(#b10)"/>
<rect x="1261.56" y="86.2" width="16.59" height="613" fill="url(#b11)"/>
<rect x="1277.55" y="86.2" width="16.59" height="613" fill="url(#b12)"/>
<rect x="1293.54" y="86.2" width="16.59" height="613" fill="url(#b13)"/>
<rect x="1309.53" y="86.2" width="16.59" height="613" fill="url(#b14)"/>
<rect x="1325.51" y="86.2" width="16.59" height="613" fill="url(#b15)"/>
<rect x="1341.5" y="86.2" width="16.59" height="613" fill="url(#b16)"/>
<rect x="1357.49" y="86.2" width="16.59" height="613" fill="url(#b17)"/>
<rect x="1373.48" y="86.2" width="16.59" height="613" fill="url(#b18)"/>
<rect x="1389.46" y="86.2" width="16.59" height="613" fill="url(#b19)"/>
<rect x="1405.45" y="86.2" width="16.59" height="613" fill="url(#b20)"/>
<rect x="1421.44" y="86.2" width="16.59" height="613" fill="url(#b21)"/>
<rect x="1437.43" y="86.2" width="16.59" height="613" fill="url(#b22)"/>
<rect x="1453.41" y="86.2" width="16.59" height="613" fill="url(#b23)"/>
<rect x="1469.4" y="86.2" width="16.59" height="613" fill="url(#b24)"/>
<rect x="1485.39" y="86.2" width="16.59" height="613" fill="url(#b25)"/>
<rect x="1501.38" y="86.2" width="16.59" height="613" fill="url(#b26)"/>
<rect x="1517.36" y="86.2" width="16.59" height="613" fill="url(#b27)"/>
<rect x="1533.35" y="86.2" width="16.59" height="613" fill="url(#b28)"/>
<rect x="1549.34" y="86.2" width="16.59" height="613" fill="url(#b29)"/>
<rect x="1565.33" y="86.2" width="16.59" height="613" fill="url(#b30)"/>
<rect x="1581.31" y="86.2" width="16.59" height="613" fill="url(#b31)"/>
<rect x="1597.3" y="86.2" width="16.59" height="613" fill="url(#b32)"/>
<rect x="1613.29" y="86.2" width="16.59" height="613" fill="url(#b33)"/>
<rect x="1629.28" y="86.2" width="16.59" height="613" fill="url(#b34)"/>
<rect x="1645.26" y="86.2" width="16.59" height="613" fill="url(#b35)"/>
<rect x="1661.25" y="86.2" width="16.59" height="613" fill="url(#b36)"/>
<rect x="1677.24" y="86.2" width="16.59" height="613" fill="url(#b37)"/>
<rect x="1693.22" y="86.2" width="16.59" height="613" fill="url(#b38)"/>
<rect x="1709.21" y="86.2" width="29.99" height="613" fill="url(#b39)"/>
</g></g>
<g>
<path d="M157 692.6L178.5 696.7H157z" fill="#000"/>
<rect x="157.8" y="85" width="637.2" height="612" fill="none" stroke="#000" stroke-width="2.2"/>
<path d="M157.8 697v11.5M230.21 697v6.5M302.62 697v11.5M375.03 697v6.5M447.44 697v11.5M519.85 697v6.5M592.25 697v11.5M664.66 697v6.5M737.07 697v11.5M795 697v11.5M157.8 697h-11.5M157.8 626.1h-6.5M157.8 548.8h-11.5M157.8 471.5h-6.5M157.8 394.2h-11.5M157.8 316.9h-6.5M157.8 239.6h-11.5M157.8 162.3h-6.5M157.8 85h-11.5" stroke="#000" stroke-width="2" fill="none"/>
<text x="157.8" y="747.5" text-anchor="middle">0</text>
<text x="302.62" y="747.5" text-anchor="middle">25</text>
<text x="447.44" y="747.5" text-anchor="middle">50</text>
<text x="592.25" y="747.5" text-anchor="middle">75</text>
<text x="737.07" y="747.5" text-anchor="middle">100</text>
<text x="813.5" y="747.5" text-anchor="middle">110</text>
<text x="137.5" y="708.4" text-anchor="end">0</text>
<text x="137.5" y="561" text-anchor="end">50</text>
<text x="137.5" y="406.4" text-anchor="end">100</text>
<text x="137.5" y="251.8" text-anchor="end">150</text>
<text x="137.5" y="97.2" text-anchor="end">200</text>
<text y="818.5" xml:space="preserve"><tspan x="441.5" font-style="italic">L</tspan><tspan x="465.4" font-size="27" dy="11">e</tspan><tspan x="477.22" dy="-11"> [mm]</tspan></text>
<text transform="translate(47 519.5) rotate(-90)">Frequency [Hz]</text>
<text x="4.5" y="39.5">(a)</text>
<linearGradient id="cba" x1="0" y1="0" x2="0" y2="1"><stop offset="0" stop-color="#f00"/><stop offset=".25" stop-color="#ff0"/><stop offset=".5" stop-color="#0f0"/><stop offset=".75" stop-color="#0ff"/><stop offset="1" stop-color="#00f"/></linearGradient>
<rect x="819.3" y="85" width="25.4" height="611.6" fill="url(#cba)" stroke="#000" stroke-opacity=".55" stroke-width="1"/>
<text x="871.3" y="709">0</text>
<text x="871.3" y="561.2">11</text>
<text x="871.3" y="413.9">22</text>
<text x="871.3" y="266.5">33</text>
<text x="871.3" y="119.2">44</text>
<path d="M844.7 696.1h11M844.7 548.3h11M844.7 401h11M844.7 253.6h11M844.7 106.3h11" stroke="#444" stroke-width="1.3" fill="none"/>
<text x="810.2" y="61.2" font-style="italic">TL</text>
<rect x="1085.7" y="86.2" width="639.5" height="613" fill="none" stroke="#000" stroke-width="2.2"/>
<path d="M1085.7 699.2v11.5M1158.37 699.2v6.5M1231.04 699.2v11.5M1303.71 699.2v6.5M1376.38 699.2v11.5M1449.05 699.2v6.5M1521.72 699.2v11.5M1594.39 699.2v6.5M1667.06 699.2v11.5M1725.2 699.2v11.5M1085.7 699.2h-11.5M1085.7 628h-6.5M1085.7 550.6h-11.5M1085.7 473.2h-6.5M1085.7 395.8h-11.5M1085.7 318.4h-6.5M1085.7 241h-11.5M1085.7 163.6h-6.5M1085.7 86.2h-11.5" stroke="#000" stroke-width="2" fill="none"/>
<text x="1085.7" y="750.5" text-anchor="middle">0</text>
<text x="1231.04" y="750.5" text-anchor="middle">25</text>
<text x="1376.38" y="750.5" text-anchor="middle">50</text>
<text x="1521.72" y="750.5" text-anchor="middle">75</text>
<text x="1667.06" y="750.5" text-anchor="middle">100</text>
<text x="1744.5" y="750.5" text-anchor="middle">110</text>
<text x="1065.5" y="710.6" text-anchor="end">0</text>
<text x="1065.5" y="562.8" text-anchor="end">50</text>
<text x="1065.5" y="408" text-anchor="end">100</text>
<text x="1065.5" y="253.2" text-anchor="end">150</text>
<text x="1065.5" y="98.4" text-anchor="end">200</text>
<text y="819.3" xml:space="preserve"><tspan x="1371" font-style="italic">L</tspan><tspan x="1394.9" font-size="27" dy="11">e</tspan><tspan x="1406.72" dy="-11"> [mm]</tspan></text>
<text transform="translate(972.5 521) rotate(-90)">Frequency [Hz]</text>
<text x="949" y="38.5">(b)</text>
<linearGradient id="cbb" x1="0" y1="0" x2="0" y2="1"><stop offset="0" stop-color="#f00"/><stop offset=".25" stop-color="#ff0"/><stop offset=".5" stop-color="#0f0"/><stop offset=".75" stop-color="#0ff"/><stop offset="1" stop-color="#00f"/></linearGradient>
<rect x="1752.6" y="85.5" width="26" height="613.1" fill="url(#cbb)" stroke="#000" stroke-opacity=".55" stroke-width="1"/>
<text x="1804.5" y="711">0</text>
<text x="1804.5" y="563.1">11</text>
<text x="1804.5" y="415.2">22</text>
<text x="1804.5" y="267.1">33</text>
<text x="1804.5" y="119.1">44</text>
<path d="M1778.6 698.1h11M1778.6 550.2h11M1778.6 402.3h11M1778.6 254.2h11M1778.6 106.2h11" stroke="#444" stroke-width="1.3" fill="none"/>
<text x="1743" y="60.6" font-style="italic">TL</text>
</g>
</svg>
</body></html>
